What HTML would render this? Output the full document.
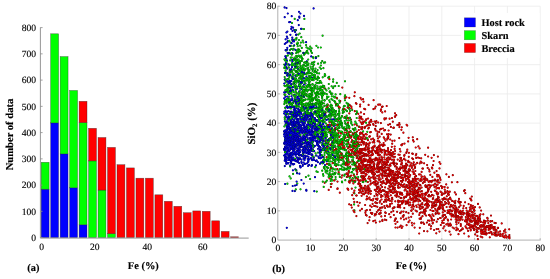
<!DOCTYPE html>
<html><head><meta charset="utf-8"><style>
html,body{margin:0;padding:0;background:#fff;}
svg{display:block;}
text{text-rendering:geometricPrecision;}
.t{font-family:"Liberation Serif",serif;font-size:9.6px;fill:#000;stroke:#000;stroke-width:.14px;}
.b{font-family:"Liberation Serif",serif;font-size:10.4px;font-weight:bold;fill:#000;stroke:#000;stroke-width:.15px;}
</style></head><body>
<svg width="550" height="279" viewBox="0 0 550 279">
<rect x="41.20" y="189.20" width="7.9" height="48.40" fill="#0000ff" stroke="#222" stroke-opacity=".6" stroke-width=".55"/>
<rect x="41.20" y="162.30" width="7.9" height="26.90" fill="#00ff00" stroke="#222" stroke-opacity=".6" stroke-width=".55"/>
<rect x="50.67" y="122.90" width="7.9" height="114.70" fill="#0000ff" stroke="#222" stroke-opacity=".6" stroke-width=".55"/>
<rect x="50.67" y="33.80" width="7.9" height="89.10" fill="#00ff00" stroke="#222" stroke-opacity=".6" stroke-width=".55"/>
<rect x="60.15" y="153.90" width="7.9" height="83.70" fill="#0000ff" stroke="#222" stroke-opacity=".6" stroke-width=".55"/>
<rect x="60.15" y="56.60" width="7.9" height="97.30" fill="#00ff00" stroke="#222" stroke-opacity=".6" stroke-width=".55"/>
<rect x="69.62" y="187.80" width="7.9" height="49.80" fill="#0000ff" stroke="#222" stroke-opacity=".6" stroke-width=".55"/>
<rect x="69.62" y="90.50" width="7.9" height="97.30" fill="#00ff00" stroke="#222" stroke-opacity=".6" stroke-width=".55"/>
<rect x="79.10" y="224.80" width="7.9" height="12.80" fill="#0000ff" stroke="#222" stroke-opacity=".6" stroke-width=".55"/>
<rect x="79.10" y="122.60" width="7.9" height="102.20" fill="#00ff00" stroke="#222" stroke-opacity=".6" stroke-width=".55"/>
<rect x="79.10" y="101.30" width="7.9" height="21.30" fill="#ff0000" stroke="#222" stroke-opacity=".6" stroke-width=".55"/>
<rect x="88.57" y="160.90" width="7.9" height="76.70" fill="#00ff00" stroke="#222" stroke-opacity=".6" stroke-width=".55"/>
<rect x="88.57" y="128.30" width="7.9" height="32.60" fill="#ff0000" stroke="#222" stroke-opacity=".6" stroke-width=".55"/>
<rect x="98.04" y="190.10" width="7.9" height="47.50" fill="#00ff00" stroke="#222" stroke-opacity=".6" stroke-width=".55"/>
<rect x="98.04" y="137.50" width="7.9" height="52.60" fill="#ff0000" stroke="#222" stroke-opacity=".6" stroke-width=".55"/>
<rect x="107.52" y="233.70" width="7.9" height="3.90" fill="#00ff00" stroke="#222" stroke-opacity=".6" stroke-width=".55"/>
<rect x="107.52" y="147.40" width="7.9" height="86.30" fill="#ff0000" stroke="#222" stroke-opacity=".6" stroke-width=".55"/>
<rect x="116.99" y="164.70" width="7.9" height="72.90" fill="#ff0000" stroke="#222" stroke-opacity=".6" stroke-width=".55"/>
<rect x="126.47" y="167.90" width="7.9" height="69.70" fill="#ff0000" stroke="#222" stroke-opacity=".6" stroke-width=".55"/>
<rect x="135.94" y="178.20" width="7.9" height="59.40" fill="#ff0000" stroke="#222" stroke-opacity=".6" stroke-width=".55"/>
<rect x="145.41" y="178.20" width="7.9" height="59.40" fill="#ff0000" stroke="#222" stroke-opacity=".6" stroke-width=".55"/>
<rect x="154.89" y="194.80" width="7.9" height="42.80" fill="#ff0000" stroke="#222" stroke-opacity=".6" stroke-width=".55"/>
<rect x="164.36" y="201.30" width="7.9" height="36.30" fill="#ff0000" stroke="#222" stroke-opacity=".6" stroke-width=".55"/>
<rect x="173.84" y="206.30" width="7.9" height="31.30" fill="#ff0000" stroke="#222" stroke-opacity=".6" stroke-width=".55"/>
<rect x="183.31" y="212.70" width="7.9" height="24.90" fill="#ff0000" stroke="#222" stroke-opacity=".6" stroke-width=".55"/>
<rect x="192.78" y="210.90" width="7.9" height="26.70" fill="#ff0000" stroke="#222" stroke-opacity=".6" stroke-width=".55"/>
<rect x="202.26" y="211.30" width="7.9" height="26.30" fill="#ff0000" stroke="#222" stroke-opacity=".6" stroke-width=".55"/>
<rect x="211.73" y="220.80" width="7.9" height="16.80" fill="#ff0000" stroke="#222" stroke-opacity=".6" stroke-width=".55"/>
<rect x="221.21" y="231.40" width="7.9" height="6.20" fill="#ff0000" stroke="#222" stroke-opacity=".6" stroke-width=".55"/>
<rect x="230.68" y="236.80" width="7.9" height="0.80" fill="#ff0000" stroke="#222" stroke-opacity=".6" stroke-width=".55"/>
<path d="M40.4 27.4V238.1H248.7" fill="none" stroke="#8a8a8a" stroke-width=".9"/>
<path d="M40.4 237.60h2.2M40.4 211.35h2.2M40.4 185.10h2.2M40.4 158.85h2.2M40.4 132.60h2.2M40.4 106.35h2.2M40.4 80.10h2.2M40.4 53.85h2.2M40.4 27.60h2.2" stroke="#8a8a8a" stroke-width=".8"/>
<text x="36.1" y="240.95" class="t" text-anchor="end">0</text>
<text x="36.1" y="214.70" class="t" text-anchor="end">100</text>
<text x="36.1" y="188.45" class="t" text-anchor="end">200</text>
<text x="36.1" y="162.20" class="t" text-anchor="end">300</text>
<text x="36.1" y="135.95" class="t" text-anchor="end">400</text>
<text x="36.1" y="109.70" class="t" text-anchor="end">500</text>
<text x="36.1" y="83.45" class="t" text-anchor="end">600</text>
<text x="36.1" y="57.20" class="t" text-anchor="end">700</text>
<text x="36.1" y="30.95" class="t" text-anchor="end">800</text>
<text x="41.7" y="249.8" class="t" text-anchor="middle">0</text>
<text x="94.7" y="249.8" class="t" text-anchor="middle">20</text>
<text x="147.35" y="249.8" class="t" text-anchor="middle">40</text>
<text x="202.75" y="249.8" class="t" text-anchor="middle">60</text>
<text class="b" x="143.3" y="269.2" text-anchor="middle">Fe (%)</text>
<text class="b" x="33.4" y="271.1" text-anchor="middle">(a)</text>
<text class="b" transform="translate(12.5 134.5) rotate(-90)" text-anchor="middle" style="font-size:10.6px">Number of data</text>
<path d="M310.60 6.2V240.1M277.8 210.86H540.2M343.40 6.2V240.1M277.8 181.62H540.2M376.20 6.2V240.1M277.8 152.38H540.2M409.00 6.2V240.1M277.8 123.14H540.2M441.80 6.2V240.1M277.8 93.90H540.2M474.60 6.2V240.1M277.8 64.66H540.2M507.40 6.2V240.1M277.8 35.42H540.2M540.20 6.2V240.1M277.8 6.18H540.2" stroke="#ebebeb" stroke-width=".8" fill="none"/>
<path d="M277.8 5.8V240.1H540.6" fill="none" stroke="#a8a8a8" stroke-width=".9"/>
<path d="M277.8 210.86h2M277.8 181.62h2M277.8 152.38h2M277.8 123.14h2M277.8 93.90h2M277.8 64.66h2M277.8 35.42h2M277.8 6.18h2M310.60 240.1v-2M343.40 240.1v-2M376.20 240.1v-2M409.00 240.1v-2M441.80 240.1v-2M474.60 240.1v-2M507.40 240.1v-2M540.20 240.1v-2" stroke="#a8a8a8" stroke-width=".8"/>
<text x="276.3" y="243.40" class="t" text-anchor="end">0</text>
<text x="277.80" y="250.9" class="t" text-anchor="middle">0</text>
<text x="276.3" y="214.16" class="t" text-anchor="end">10</text>
<text x="310.60" y="250.9" class="t" text-anchor="middle">10</text>
<text x="276.3" y="184.92" class="t" text-anchor="end">20</text>
<text x="343.40" y="250.9" class="t" text-anchor="middle">20</text>
<text x="276.3" y="155.68" class="t" text-anchor="end">30</text>
<text x="376.20" y="250.9" class="t" text-anchor="middle">30</text>
<text x="276.3" y="126.44" class="t" text-anchor="end">40</text>
<text x="409.00" y="250.9" class="t" text-anchor="middle">40</text>
<text x="276.3" y="97.20" class="t" text-anchor="end">50</text>
<text x="441.80" y="250.9" class="t" text-anchor="middle">50</text>
<text x="276.3" y="67.96" class="t" text-anchor="end">60</text>
<text x="474.60" y="250.9" class="t" text-anchor="middle">60</text>
<text x="276.3" y="38.72" class="t" text-anchor="end">70</text>
<text x="507.40" y="250.9" class="t" text-anchor="middle">70</text>
<text x="276.3" y="9.48" class="t" text-anchor="end">80</text>
<text x="540.20" y="250.9" class="t" text-anchor="middle">80</text>
<text class="b" x="411.1" y="269.0" text-anchor="middle">Fe (%)</text>
<text class="b" x="278.7" y="271.5" text-anchor="middle">(b)</text>
<text class="b" font-size="10.9" transform="translate(255.4 123.6) rotate(-90)" text-anchor="middle" style="font-size:10.9px">SiO<tspan style="font-size:6.8px" dy="2">2</tspan><tspan dy="-2"> (%)</tspan></text>
<g fill="none" stroke-linecap="round">
<path d="M377.0 195.2h0M386.3 165.0h0M411.2 216.8h0M350.8 132.0h0M416.2 179.0h0M413.3 209.0h0M355.5 177.2h0M390.6 217.2h0M409.7 166.4h0M371.2 200.1h0M373.3 176.7h0M381.2 160.0h0M352.7 178.3h0M401.2 193.7h0M457.7 220.5h0M418.3 192.0h0M424.0 178.7h0M433.9 202.7h0M353.0 145.0h0M421.9 191.1h0M472.1 211.9h0M420.6 174.5h0M404.3 208.1h0M412.5 180.8h0M370.4 160.5h0M413.2 195.4h0M425.4 185.4h0M362.8 155.9h0M482.9 226.7h0M361.1 187.8h0M450.8 206.2h0M415.6 210.6h0M357.2 142.8h0M386.5 179.7h0M487.3 227.1h0M509.2 229.3h0M416.2 178.8h0M349.0 108.1h0M354.9 164.9h0M453.7 201.5h0M361.9 208.9h0M370.1 209.9h0M390.0 159.2h0M375.7 184.1h0M479.7 215.0h0M408.8 169.6h0M368.4 172.3h0M471.1 206.3h0M460.6 212.2h0M379.2 168.9h0M437.5 199.2h0M414.5 193.7h0M436.2 204.6h0M395.2 192.2h0M480.7 236.6h0M468.0 215.3h0M489.8 237.3h0M431.8 207.7h0M486.7 226.2h0M406.2 218.7h0M348.5 146.9h0M377.5 131.7h0M354.3 201.9h0M371.9 166.9h0M468.5 224.7h0M383.4 144.9h0M390.6 183.5h0M412.6 182.2h0M472.7 207.6h0M394.7 146.5h0M379.5 169.1h0M386.8 192.2h0M379.7 145.3h0M460.8 213.8h0M377.9 147.6h0M474.6 229.6h0M405.6 189.3h0M365.2 109.3h0M391.0 184.0h0M381.5 156.7h0M460.8 202.2h0M383.8 175.5h0M429.5 224.4h0M481.5 229.8h0M331.8 125.4h0M470.1 209.5h0M406.4 185.3h0M347.9 174.2h0M354.8 111.2h0M380.6 149.0h0M390.4 157.8h0M364.1 178.4h0M369.7 179.0h0M402.0 203.7h0M369.6 157.9h0M446.3 224.4h0M434.3 180.5h0M376.1 152.9h0M334.0 156.2h0M384.5 172.0h0M348.3 167.6h0M406.6 173.0h0M429.5 214.8h0M395.1 166.4h0M393.1 189.5h0M373.3 149.8h0M340.3 101.1h0M372.7 182.9h0M373.3 168.3h0M370.1 132.3h0M339.9 157.7h0M387.2 167.6h0M361.5 99.5h0M348.6 151.4h0M361.7 152.0h0M476.0 221.0h0M383.5 171.4h0M415.6 201.2h0M369.3 152.6h0M377.5 172.2h0M389.2 214.2h0M348.4 142.9h0M366.4 155.7h0M473.6 228.6h0M408.1 203.7h0M461.1 230.2h0M391.9 203.5h0M357.0 157.7h0M440.8 225.0h0M399.7 226.8h0M375.8 126.1h0M448.6 204.1h0M466.2 208.1h0M451.1 219.5h0M397.3 192.9h0M382.5 207.4h0M462.8 210.8h0M410.1 187.6h0M368.9 127.7h0M351.0 119.6h0M400.1 168.8h0M394.3 162.7h0M359.3 151.7h0M413.1 204.7h0M384.9 167.1h0M327.6 105.9h0M388.8 175.2h0M412.2 153.5h0M448.5 203.8h0M349.2 136.7h0M357.9 179.1h0M397.7 159.6h0M351.2 205.2h0M382.4 219.9h0M418.1 183.1h0M397.4 221.9h0M352.3 150.9h0M421.6 171.9h0M342.0 154.1h0M347.9 136.9h0M387.0 178.2h0M408.7 193.7h0M395.3 201.3h0M377.3 152.7h0M406.0 163.7h0M362.2 177.3h0M414.6 183.5h0M397.9 192.0h0M356.1 177.7h0M382.7 106.5h0M396.4 163.6h0M416.0 192.3h0M379.8 221.6h0M460.8 224.2h0M412.6 191.4h0M458.5 222.8h0M412.2 158.3h0M428.1 204.2h0M498.8 234.7h0M344.7 132.5h0M415.9 196.1h0M470.6 217.0h0M438.3 182.4h0M491.6 233.2h0M398.0 175.9h0M348.9 134.3h0M341.2 155.3h0M369.9 171.3h0M389.5 175.1h0M437.7 180.5h0M362.5 191.2h0M442.8 209.1h0M434.1 230.0h0M404.1 159.2h0M442.4 205.2h0M365.3 179.5h0M398.5 201.3h0M422.5 216.2h0M422.6 195.7h0M437.5 194.6h0M370.3 165.6h0" stroke="#800000" stroke-width="2.2"/>
<path d="M377.0 195.2h0M386.3 165.0h0M411.2 216.8h0M350.8 132.0h0M416.2 179.0h0M413.3 209.0h0M355.5 177.2h0M390.6 217.2h0M409.7 166.4h0M371.2 200.1h0M373.3 176.7h0M381.2 160.0h0M352.7 178.3h0M401.2 193.7h0M457.7 220.5h0M418.3 192.0h0M424.0 178.7h0M433.9 202.7h0M353.0 145.0h0M421.9 191.1h0M472.1 211.9h0M420.6 174.5h0M404.3 208.1h0M412.5 180.8h0M370.4 160.5h0M413.2 195.4h0M425.4 185.4h0M362.8 155.9h0M482.9 226.7h0M361.1 187.8h0M450.8 206.2h0M415.6 210.6h0M357.2 142.8h0M386.5 179.7h0M487.3 227.1h0M509.2 229.3h0M416.2 178.8h0M349.0 108.1h0M354.9 164.9h0M453.7 201.5h0M361.9 208.9h0M370.1 209.9h0M390.0 159.2h0M375.7 184.1h0M479.7 215.0h0M408.8 169.6h0M368.4 172.3h0M471.1 206.3h0M460.6 212.2h0M379.2 168.9h0M437.5 199.2h0M414.5 193.7h0M436.2 204.6h0M395.2 192.2h0M480.7 236.6h0M468.0 215.3h0M489.8 237.3h0M431.8 207.7h0M486.7 226.2h0M406.2 218.7h0M348.5 146.9h0M377.5 131.7h0M354.3 201.9h0M371.9 166.9h0M468.5 224.7h0M383.4 144.9h0M390.6 183.5h0M412.6 182.2h0M472.7 207.6h0M394.7 146.5h0M379.5 169.1h0M386.8 192.2h0M379.7 145.3h0M460.8 213.8h0M377.9 147.6h0M474.6 229.6h0M405.6 189.3h0M365.2 109.3h0M391.0 184.0h0M381.5 156.7h0M460.8 202.2h0M383.8 175.5h0M429.5 224.4h0M481.5 229.8h0M331.8 125.4h0M470.1 209.5h0M406.4 185.3h0M347.9 174.2h0M354.8 111.2h0M380.6 149.0h0M390.4 157.8h0M364.1 178.4h0M369.7 179.0h0M402.0 203.7h0M369.6 157.9h0M446.3 224.4h0M434.3 180.5h0M376.1 152.9h0M334.0 156.2h0M384.5 172.0h0M348.3 167.6h0M406.6 173.0h0M429.5 214.8h0M395.1 166.4h0M393.1 189.5h0M373.3 149.8h0M340.3 101.1h0M372.7 182.9h0M373.3 168.3h0M370.1 132.3h0M339.9 157.7h0M387.2 167.6h0M361.5 99.5h0M348.6 151.4h0M361.7 152.0h0M476.0 221.0h0M383.5 171.4h0M415.6 201.2h0M369.3 152.6h0M377.5 172.2h0M389.2 214.2h0M348.4 142.9h0M366.4 155.7h0M473.6 228.6h0M408.1 203.7h0M461.1 230.2h0M391.9 203.5h0M357.0 157.7h0M440.8 225.0h0M399.7 226.8h0M375.8 126.1h0M448.6 204.1h0M466.2 208.1h0M451.1 219.5h0M397.3 192.9h0M382.5 207.4h0M462.8 210.8h0M410.1 187.6h0M368.9 127.7h0M351.0 119.6h0M400.1 168.8h0M394.3 162.7h0M359.3 151.7h0M413.1 204.7h0M384.9 167.1h0M327.6 105.9h0M388.8 175.2h0M412.2 153.5h0M448.5 203.8h0M349.2 136.7h0M357.9 179.1h0M397.7 159.6h0M351.2 205.2h0M382.4 219.9h0M418.1 183.1h0M397.4 221.9h0M352.3 150.9h0M421.6 171.9h0M342.0 154.1h0M347.9 136.9h0M387.0 178.2h0M408.7 193.7h0M395.3 201.3h0M377.3 152.7h0M406.0 163.7h0M362.2 177.3h0M414.6 183.5h0M397.9 192.0h0M356.1 177.7h0M382.7 106.5h0M396.4 163.6h0M416.0 192.3h0M379.8 221.6h0M460.8 224.2h0M412.6 191.4h0M458.5 222.8h0M412.2 158.3h0M428.1 204.2h0M498.8 234.7h0M344.7 132.5h0M415.9 196.1h0M470.6 217.0h0M438.3 182.4h0M491.6 233.2h0M398.0 175.9h0M348.9 134.3h0M341.2 155.3h0M369.9 171.3h0M389.5 175.1h0M437.7 180.5h0M362.5 191.2h0M442.8 209.1h0M434.1 230.0h0M404.1 159.2h0M442.4 205.2h0M365.3 179.5h0M398.5 201.3h0M422.5 216.2h0M422.6 195.7h0M437.5 194.6h0M370.3 165.6h0" stroke="#f00000" stroke-width="1.45"/>
<path d="M299.4 173.7h0M330.8 145.0h0M293.2 142.5h0M295.7 102.8h0M309.0 124.6h0M289.6 150.5h0M298.9 158.7h0M291.8 127.6h0M322.3 149.4h0M303.6 114.9h0M292.7 164.1h0M289.4 92.2h0M298.7 133.6h0M307.2 156.3h0M310.3 133.7h0M298.3 160.4h0M297.4 114.1h0M309.3 76.3h0M298.9 128.7h0M310.3 139.1h0M296.3 103.5h0M287.5 113.7h0M296.6 116.1h0M306.9 127.3h0M287.7 107.4h0M327.0 146.6h0M298.2 119.1h0M317.9 162.2h0M314.1 160.0h0M308.2 121.4h0M293.2 129.6h0M306.2 108.4h0M303.9 151.7h0M303.3 137.2h0M292.7 103.3h0M298.1 145.2h0M289.3 117.1h0M307.8 135.2h0M299.7 154.8h0M312.8 136.4h0M300.1 158.3h0M321.7 132.8h0M288.2 141.8h0M323.1 131.1h0M285.5 96.7h0M307.5 143.9h0M309.7 116.1h0M291.7 142.8h0M318.7 121.8h0M284.8 141.2h0M297.5 62.7h0M307.4 126.1h0M311.2 139.6h0M296.5 154.0h0M296.1 114.9h0M312.1 151.1h0M302.8 146.5h0M294.0 138.9h0M307.1 129.5h0M308.1 131.0h0M311.0 158.0h0M289.4 137.2h0M306.4 128.6h0M286.3 131.3h0M285.9 72.6h0M304.5 129.2h0M323.5 139.5h0M303.4 152.0h0M315.9 160.9h0M285.7 141.5h0M293.6 160.2h0M304.3 117.7h0M290.2 113.8h0M300.7 125.1h0M284.4 111.7h0M324.0 133.0h0M291.7 163.6h0M307.7 117.3h0M284.6 7.4h0M328.7 110.9h0M288.5 98.3h0M303.7 125.0h0M287.1 125.9h0M294.9 191.1h0M307.3 128.4h0M290.4 34.8h0M285.9 123.0h0M321.7 149.8h0M300.0 165.9h0M307.0 125.1h0M297.4 150.8h0M312.1 130.8h0M313.6 8.4h0M287.2 139.1h0M291.3 106.5h0M290.6 121.7h0M310.8 138.4h0M297.8 20.2h0M303.3 132.0h0M288.4 157.4h0M286.7 113.7h0M318.5 125.5h0M295.4 139.2h0M307.5 147.3h0M290.3 22.0h0M306.3 132.5h0M304.6 164.0h0M294.3 124.7h0M310.1 135.0h0M308.2 161.0h0M333.7 126.0h0M320.4 128.1h0M306.9 61.3h0M289.3 101.9h0M297.8 132.6h0M295.1 129.7h0M298.7 114.4h0M298.7 129.8h0" stroke="#000078" stroke-width="2.2"/>
<path d="M299.4 173.7h0M330.8 145.0h0M293.2 142.5h0M295.7 102.8h0M309.0 124.6h0M289.6 150.5h0M298.9 158.7h0M291.8 127.6h0M322.3 149.4h0M303.6 114.9h0M292.7 164.1h0M289.4 92.2h0M298.7 133.6h0M307.2 156.3h0M310.3 133.7h0M298.3 160.4h0M297.4 114.1h0M309.3 76.3h0M298.9 128.7h0M310.3 139.1h0M296.3 103.5h0M287.5 113.7h0M296.6 116.1h0M306.9 127.3h0M287.7 107.4h0M327.0 146.6h0M298.2 119.1h0M317.9 162.2h0M314.1 160.0h0M308.2 121.4h0M293.2 129.6h0M306.2 108.4h0M303.9 151.7h0M303.3 137.2h0M292.7 103.3h0M298.1 145.2h0M289.3 117.1h0M307.8 135.2h0M299.7 154.8h0M312.8 136.4h0M300.1 158.3h0M321.7 132.8h0M288.2 141.8h0M323.1 131.1h0M285.5 96.7h0M307.5 143.9h0M309.7 116.1h0M291.7 142.8h0M318.7 121.8h0M284.8 141.2h0M297.5 62.7h0M307.4 126.1h0M311.2 139.6h0M296.5 154.0h0M296.1 114.9h0M312.1 151.1h0M302.8 146.5h0M294.0 138.9h0M307.1 129.5h0M308.1 131.0h0M311.0 158.0h0M289.4 137.2h0M306.4 128.6h0M286.3 131.3h0M285.9 72.6h0M304.5 129.2h0M323.5 139.5h0M303.4 152.0h0M315.9 160.9h0M285.7 141.5h0M293.6 160.2h0M304.3 117.7h0M290.2 113.8h0M300.7 125.1h0M284.4 111.7h0M324.0 133.0h0M291.7 163.6h0M307.7 117.3h0M284.6 7.4h0M328.7 110.9h0M288.5 98.3h0M303.7 125.0h0M287.1 125.9h0M294.9 191.1h0M307.3 128.4h0M290.4 34.8h0M285.9 123.0h0M321.7 149.8h0M300.0 165.9h0M307.0 125.1h0M297.4 150.8h0M312.1 130.8h0M313.6 8.4h0M287.2 139.1h0M291.3 106.5h0M290.6 121.7h0M310.8 138.4h0M297.8 20.2h0M303.3 132.0h0M288.4 157.4h0M286.7 113.7h0M318.5 125.5h0M295.4 139.2h0M307.5 147.3h0M290.3 22.0h0M306.3 132.5h0M304.6 164.0h0M294.3 124.7h0M310.1 135.0h0M308.2 161.0h0M333.7 126.0h0M320.4 128.1h0M306.9 61.3h0M289.3 101.9h0M297.8 132.6h0M295.1 129.7h0M298.7 114.4h0M298.7 129.8h0" stroke="#0000f0" stroke-width="1.45"/>
<path d="M303.4 109.1h0M315.1 111.2h0M305.6 107.1h0M346.1 140.9h0M303.7 96.4h0M342.1 182.3h0M311.9 124.1h0M321.6 104.1h0M355.4 180.7h0M295.8 86.8h0M303.2 114.5h0M337.0 164.7h0M335.5 111.0h0M356.3 144.3h0M322.9 120.2h0M311.2 138.2h0M325.1 119.0h0M291.9 90.2h0M329.6 125.6h0M307.9 114.2h0M285.0 117.4h0M340.1 146.5h0M348.5 139.9h0M289.1 52.8h0M302.6 58.8h0M288.8 67.3h0M341.6 153.3h0M303.0 73.2h0M307.9 115.6h0M291.2 49.0h0M323.4 68.2h0M320.8 47.5h0M342.0 116.0h0M290.3 108.3h0M312.8 74.8h0M316.4 82.7h0M316.5 113.7h0M337.5 104.5h0M291.7 116.6h0M300.3 99.5h0M324.7 121.9h0M340.3 140.2h0M332.6 108.1h0M324.8 150.6h0M358.8 126.7h0M341.3 153.6h0M320.1 105.5h0M317.6 80.0h0M323.3 110.5h0M318.2 130.7h0M351.3 123.6h0M293.8 79.1h0M329.4 132.5h0M300.3 110.7h0M320.8 142.5h0M301.8 47.9h0M286.4 64.5h0M301.9 102.9h0M298.3 81.1h0M301.3 73.2h0M337.6 156.7h0M299.7 64.3h0M327.3 128.2h0M332.5 131.4h0M327.7 109.7h0M341.2 159.9h0M324.5 155.0h0M337.1 98.6h0M294.5 85.6h0M355.4 150.6h0M324.8 169.1h0M318.4 56.1h0M303.9 74.3h0M354.5 151.8h0M332.7 152.0h0M308.5 63.7h0M308.8 84.4h0M345.0 81.3h0M323.1 174.2h0M323.0 160.8h0M323.0 87.0h0M329.0 139.4h0M317.5 110.4h0M307.4 111.1h0M345.9 156.2h0M308.6 97.6h0M320.3 147.5h0M331.2 109.9h0M342.2 169.7h0M297.8 75.1h0M318.5 82.8h0M346.7 120.3h0M295.6 106.5h0M311.3 99.7h0M291.3 90.5h0M303.4 115.2h0M321.3 105.2h0M304.5 70.5h0M340.9 148.2h0M301.7 95.0h0M319.7 104.5h0M311.5 90.5h0M308.2 53.4h0M296.2 50.5h0M310.6 66.7h0M316.3 82.8h0M337.9 146.3h0M338.6 170.7h0M315.5 72.1h0M305.1 89.9h0M286.2 103.0h0M310.0 146.2h0M349.6 153.9h0M306.3 85.8h0M290.6 42.5h0M346.1 118.3h0M339.9 140.4h0M338.8 157.7h0M327.9 107.8h0M330.2 106.0h0M312.0 73.7h0M324.9 119.5h0M310.7 87.6h0M327.6 111.4h0M319.6 117.7h0M300.5 118.2h0M345.8 141.1h0M329.0 108.9h0M301.2 79.2h0M349.6 172.5h0M304.0 65.1h0M303.0 104.0h0M326.2 151.9h0M345.1 150.1h0M332.2 161.5h0M320.0 90.3h0M319.9 90.1h0M304.2 108.6h0M314.9 87.0h0M340.3 94.2h0M297.1 102.7h0M307.3 91.6h0M312.9 57.0h0M291.5 86.8h0M295.2 86.7h0M296.7 66.4h0" stroke="#006400" stroke-width="2.2"/>
<path d="M303.4 109.1h0M315.1 111.2h0M305.6 107.1h0M346.1 140.9h0M303.7 96.4h0M342.1 182.3h0M311.9 124.1h0M321.6 104.1h0M355.4 180.7h0M295.8 86.8h0M303.2 114.5h0M337.0 164.7h0M335.5 111.0h0M356.3 144.3h0M322.9 120.2h0M311.2 138.2h0M325.1 119.0h0M291.9 90.2h0M329.6 125.6h0M307.9 114.2h0M285.0 117.4h0M340.1 146.5h0M348.5 139.9h0M289.1 52.8h0M302.6 58.8h0M288.8 67.3h0M341.6 153.3h0M303.0 73.2h0M307.9 115.6h0M291.2 49.0h0M323.4 68.2h0M320.8 47.5h0M342.0 116.0h0M290.3 108.3h0M312.8 74.8h0M316.4 82.7h0M316.5 113.7h0M337.5 104.5h0M291.7 116.6h0M300.3 99.5h0M324.7 121.9h0M340.3 140.2h0M332.6 108.1h0M324.8 150.6h0M358.8 126.7h0M341.3 153.6h0M320.1 105.5h0M317.6 80.0h0M323.3 110.5h0M318.2 130.7h0M351.3 123.6h0M293.8 79.1h0M329.4 132.5h0M300.3 110.7h0M320.8 142.5h0M301.8 47.9h0M286.4 64.5h0M301.9 102.9h0M298.3 81.1h0M301.3 73.2h0M337.6 156.7h0M299.7 64.3h0M327.3 128.2h0M332.5 131.4h0M327.7 109.7h0M341.2 159.9h0M324.5 155.0h0M337.1 98.6h0M294.5 85.6h0M355.4 150.6h0M324.8 169.1h0M318.4 56.1h0M303.9 74.3h0M354.5 151.8h0M332.7 152.0h0M308.5 63.7h0M308.8 84.4h0M345.0 81.3h0M323.1 174.2h0M323.0 160.8h0M323.0 87.0h0M329.0 139.4h0M317.5 110.4h0M307.4 111.1h0M345.9 156.2h0M308.6 97.6h0M320.3 147.5h0M331.2 109.9h0M342.2 169.7h0M297.8 75.1h0M318.5 82.8h0M346.7 120.3h0M295.6 106.5h0M311.3 99.7h0M291.3 90.5h0M303.4 115.2h0M321.3 105.2h0M304.5 70.5h0M340.9 148.2h0M301.7 95.0h0M319.7 104.5h0M311.5 90.5h0M308.2 53.4h0M296.2 50.5h0M310.6 66.7h0M316.3 82.8h0M337.9 146.3h0M338.6 170.7h0M315.5 72.1h0M305.1 89.9h0M286.2 103.0h0M310.0 146.2h0M349.6 153.9h0M306.3 85.8h0M290.6 42.5h0M346.1 118.3h0M339.9 140.4h0M338.8 157.7h0M327.9 107.8h0M330.2 106.0h0M312.0 73.7h0M324.9 119.5h0M310.7 87.6h0M327.6 111.4h0M319.6 117.7h0M300.5 118.2h0M345.8 141.1h0M329.0 108.9h0M301.2 79.2h0M349.6 172.5h0M304.0 65.1h0M303.0 104.0h0M326.2 151.9h0M345.1 150.1h0M332.2 161.5h0M320.0 90.3h0M319.9 90.1h0M304.2 108.6h0M314.9 87.0h0M340.3 94.2h0M297.1 102.7h0M307.3 91.6h0M312.9 57.0h0M291.5 86.8h0M295.2 86.7h0M296.7 66.4h0" stroke="#00dc00" stroke-width="1.45"/>
<path d="M429.6 196.1h0M425.6 186.8h0M401.8 202.6h0M368.4 155.7h0M380.7 210.6h0M349.7 182.7h0M373.6 125.0h0M365.9 149.8h0M365.1 160.4h0M431.8 220.6h0M411.8 184.3h0M384.5 190.6h0M395.5 227.5h0M392.7 171.4h0M439.6 208.8h0M431.2 191.8h0M357.5 169.2h0M421.6 194.4h0M380.9 192.2h0M444.3 198.6h0M414.0 182.4h0M471.8 196.6h0M374.1 167.2h0M375.7 178.4h0M421.6 187.6h0M382.5 165.5h0M421.6 176.9h0M364.5 158.7h0M392.4 199.5h0M450.4 209.6h0M346.4 129.3h0M424.3 211.3h0M367.0 198.9h0M477.4 235.9h0M425.8 211.0h0M377.4 195.4h0M473.0 216.0h0M478.6 221.0h0M476.7 223.5h0M348.6 152.5h0M447.7 187.7h0M347.8 189.0h0M418.8 195.7h0M388.6 157.4h0M344.7 135.8h0M373.4 109.1h0M421.0 212.4h0M377.6 168.8h0M342.6 146.4h0M460.4 213.9h0M422.4 168.5h0M442.7 206.9h0M496.4 231.1h0M381.4 207.6h0M387.1 195.2h0M423.9 200.6h0M412.8 178.9h0M497.0 235.4h0M414.2 191.0h0M376.5 159.4h0M413.9 182.5h0M475.4 224.5h0M439.5 168.4h0M397.0 181.5h0M443.1 208.3h0M450.1 197.7h0M388.5 170.0h0M336.8 97.9h0M385.7 170.9h0M388.7 134.2h0M385.1 208.0h0M464.1 213.4h0M377.0 166.0h0M400.0 173.8h0M413.5 198.8h0M343.9 138.2h0M413.8 162.3h0M370.7 193.8h0M347.9 122.7h0M378.9 167.2h0M385.3 167.1h0M427.7 167.9h0M361.8 162.9h0M389.8 164.8h0M402.0 193.4h0M378.7 171.6h0M476.8 230.1h0M366.1 159.5h0M429.0 196.4h0M381.5 199.5h0M385.5 140.7h0M386.9 192.4h0M482.1 230.9h0M366.8 125.7h0M486.1 227.0h0M473.7 225.6h0M417.2 139.2h0M372.8 200.5h0M430.8 228.7h0M366.5 199.4h0M381.0 167.1h0M444.7 187.0h0M359.4 118.2h0M456.2 208.4h0M414.2 193.8h0M415.9 183.5h0M430.3 216.3h0M377.1 175.8h0M364.0 161.6h0M419.7 206.1h0M418.3 183.3h0M361.2 144.8h0M416.7 207.0h0M418.7 194.9h0M375.1 220.5h0M358.8 183.2h0M370.0 191.4h0M383.5 180.9h0M476.8 215.9h0M412.7 181.4h0M431.2 185.5h0M421.2 158.3h0M429.3 184.8h0M414.2 200.9h0M400.4 213.1h0M364.5 121.6h0M393.1 177.7h0M417.3 196.3h0M390.7 155.4h0M391.0 179.0h0M364.3 154.5h0M391.9 186.2h0M393.0 180.2h0M354.6 137.1h0M416.2 205.5h0M404.4 187.2h0M420.4 194.8h0M394.4 189.4h0M374.8 151.2h0M436.1 186.5h0M455.8 215.0h0M474.2 210.7h0M357.0 131.6h0M384.7 172.7h0M362.4 166.9h0M356.2 195.5h0M401.4 144.9h0M368.4 193.1h0M400.3 157.8h0M404.5 154.9h0M456.3 217.1h0M392.8 189.0h0M344.9 98.2h0M442.1 187.0h0M395.2 195.6h0M431.8 202.1h0M423.2 222.6h0M382.3 112.4h0M474.1 210.1h0M367.9 151.7h0M411.4 163.3h0M470.9 221.7h0M495.5 233.4h0M356.8 141.6h0M425.9 200.5h0M388.1 138.1h0M497.2 235.4h0M430.7 216.3h0M412.8 153.9h0M382.1 186.9h0M362.5 119.4h0M450.6 234.6h0M433.6 211.0h0M495.8 223.1h0M425.2 154.8h0M505.7 235.3h0M378.4 178.7h0M476.8 221.7h0M459.7 231.1h0M475.0 222.5h0M425.7 194.7h0M439.5 231.6h0M347.6 123.7h0M420.5 185.4h0M423.5 178.9h0M377.6 163.1h0M375.0 174.2h0M365.6 181.1h0M467.7 217.8h0M374.8 189.9h0M418.9 187.6h0M402.0 160.4h0M395.2 173.7h0M329.4 79.2h0M362.8 122.6h0M406.6 164.4h0M456.5 224.3h0M394.6 207.3h0M363.3 175.9h0M447.6 212.9h0M410.2 175.0h0" stroke="#800000" stroke-width="2.2"/>
<path d="M429.6 196.1h0M425.6 186.8h0M401.8 202.6h0M368.4 155.7h0M380.7 210.6h0M349.7 182.7h0M373.6 125.0h0M365.9 149.8h0M365.1 160.4h0M431.8 220.6h0M411.8 184.3h0M384.5 190.6h0M395.5 227.5h0M392.7 171.4h0M439.6 208.8h0M431.2 191.8h0M357.5 169.2h0M421.6 194.4h0M380.9 192.2h0M444.3 198.6h0M414.0 182.4h0M471.8 196.6h0M374.1 167.2h0M375.7 178.4h0M421.6 187.6h0M382.5 165.5h0M421.6 176.9h0M364.5 158.7h0M392.4 199.5h0M450.4 209.6h0M346.4 129.3h0M424.3 211.3h0M367.0 198.9h0M477.4 235.9h0M425.8 211.0h0M377.4 195.4h0M473.0 216.0h0M478.6 221.0h0M476.7 223.5h0M348.6 152.5h0M447.7 187.7h0M347.8 189.0h0M418.8 195.7h0M388.6 157.4h0M344.7 135.8h0M373.4 109.1h0M421.0 212.4h0M377.6 168.8h0M342.6 146.4h0M460.4 213.9h0M422.4 168.5h0M442.7 206.9h0M496.4 231.1h0M381.4 207.6h0M387.1 195.2h0M423.9 200.6h0M412.8 178.9h0M497.0 235.4h0M414.2 191.0h0M376.5 159.4h0M413.9 182.5h0M475.4 224.5h0M439.5 168.4h0M397.0 181.5h0M443.1 208.3h0M450.1 197.7h0M388.5 170.0h0M336.8 97.9h0M385.7 170.9h0M388.7 134.2h0M385.1 208.0h0M464.1 213.4h0M377.0 166.0h0M400.0 173.8h0M413.5 198.8h0M343.9 138.2h0M413.8 162.3h0M370.7 193.8h0M347.9 122.7h0M378.9 167.2h0M385.3 167.1h0M427.7 167.9h0M361.8 162.9h0M389.8 164.8h0M402.0 193.4h0M378.7 171.6h0M476.8 230.1h0M366.1 159.5h0M429.0 196.4h0M381.5 199.5h0M385.5 140.7h0M386.9 192.4h0M482.1 230.9h0M366.8 125.7h0M486.1 227.0h0M473.7 225.6h0M417.2 139.2h0M372.8 200.5h0M430.8 228.7h0M366.5 199.4h0M381.0 167.1h0M444.7 187.0h0M359.4 118.2h0M456.2 208.4h0M414.2 193.8h0M415.9 183.5h0M430.3 216.3h0M377.1 175.8h0M364.0 161.6h0M419.7 206.1h0M418.3 183.3h0M361.2 144.8h0M416.7 207.0h0M418.7 194.9h0M375.1 220.5h0M358.8 183.2h0M370.0 191.4h0M383.5 180.9h0M476.8 215.9h0M412.7 181.4h0M431.2 185.5h0M421.2 158.3h0M429.3 184.8h0M414.2 200.9h0M400.4 213.1h0M364.5 121.6h0M393.1 177.7h0M417.3 196.3h0M390.7 155.4h0M391.0 179.0h0M364.3 154.5h0M391.9 186.2h0M393.0 180.2h0M354.6 137.1h0M416.2 205.5h0M404.4 187.2h0M420.4 194.8h0M394.4 189.4h0M374.8 151.2h0M436.1 186.5h0M455.8 215.0h0M474.2 210.7h0M357.0 131.6h0M384.7 172.7h0M362.4 166.9h0M356.2 195.5h0M401.4 144.9h0M368.4 193.1h0M400.3 157.8h0M404.5 154.9h0M456.3 217.1h0M392.8 189.0h0M344.9 98.2h0M442.1 187.0h0M395.2 195.6h0M431.8 202.1h0M423.2 222.6h0M382.3 112.4h0M474.1 210.1h0M367.9 151.7h0M411.4 163.3h0M470.9 221.7h0M495.5 233.4h0M356.8 141.6h0M425.9 200.5h0M388.1 138.1h0M497.2 235.4h0M430.7 216.3h0M412.8 153.9h0M382.1 186.9h0M362.5 119.4h0M450.6 234.6h0M433.6 211.0h0M495.8 223.1h0M425.2 154.8h0M505.7 235.3h0M378.4 178.7h0M476.8 221.7h0M459.7 231.1h0M475.0 222.5h0M425.7 194.7h0M439.5 231.6h0M347.6 123.7h0M420.5 185.4h0M423.5 178.9h0M377.6 163.1h0M375.0 174.2h0M365.6 181.1h0M467.7 217.8h0M374.8 189.9h0M418.9 187.6h0M402.0 160.4h0M395.2 173.7h0M329.4 79.2h0M362.8 122.6h0M406.6 164.4h0M456.5 224.3h0M394.6 207.3h0M363.3 175.9h0M447.6 212.9h0M410.2 175.0h0" stroke="#f00000" stroke-width="1.45"/>
<path d="M304.3 113.9h0M294.2 149.3h0M311.7 95.6h0M328.8 111.2h0M309.9 122.9h0M285.6 39.3h0M320.3 125.8h0M293.6 147.4h0M308.8 131.4h0M284.4 143.8h0M292.6 53.6h0M288.2 141.8h0M287.4 130.0h0M288.3 126.7h0M297.8 127.0h0M319.3 121.7h0M286.1 137.9h0M285.1 148.6h0M300.8 146.7h0M305.7 152.3h0M306.3 130.9h0M291.5 69.3h0M285.7 157.6h0M323.4 131.8h0M298.7 126.6h0M284.2 131.6h0M295.6 101.8h0M324.2 145.8h0M304.0 143.4h0M300.5 167.4h0M296.5 133.9h0M286.4 67.0h0M292.2 59.9h0M286.5 162.8h0M308.5 142.7h0M289.8 124.7h0M287.9 149.9h0M284.9 149.7h0M305.5 141.0h0M312.3 154.9h0M305.9 112.0h0M287.4 140.6h0M306.2 134.8h0M312.9 137.3h0M293.4 149.4h0M305.3 163.8h0M300.5 110.6h0M315.6 130.6h0M294.2 159.2h0M296.8 121.5h0M335.4 120.7h0M299.4 131.8h0M287.2 49.7h0M285.0 155.3h0M290.9 131.7h0M287.9 150.5h0M317.9 116.9h0M299.5 103.0h0M301.6 163.0h0M300.4 147.1h0M291.3 142.2h0M291.3 131.9h0M312.2 127.3h0M308.3 161.8h0M308.6 157.0h0M298.9 126.5h0M318.5 108.2h0M298.4 132.3h0M295.7 128.1h0M333.0 151.4h0M286.2 163.8h0M301.6 121.7h0M291.6 130.3h0M293.0 131.8h0M309.4 128.9h0M311.4 118.3h0M288.4 137.7h0M303.9 84.7h0M298.5 135.9h0M301.5 159.7h0M302.6 166.0h0M301.1 110.7h0M290.5 114.2h0M296.7 135.7h0M330.5 129.8h0M303.6 147.6h0M285.4 140.7h0M314.9 135.9h0M290.4 90.4h0M305.0 152.4h0M290.7 128.2h0M306.3 127.1h0M291.2 142.6h0M299.1 155.4h0M291.9 138.2h0M290.9 138.6h0M300.8 145.9h0M291.9 144.2h0M295.6 134.1h0M288.1 119.4h0M293.9 146.1h0M311.7 121.4h0M292.7 145.8h0M326.8 161.3h0M326.0 116.4h0M307.1 163.4h0M290.3 133.9h0M313.5 126.1h0M293.6 112.3h0M304.8 145.9h0M315.0 177.2h0M304.0 152.2h0M292.1 53.0h0M310.1 145.2h0M326.5 119.9h0M292.1 99.9h0M328.6 110.2h0M303.7 113.6h0" stroke="#000078" stroke-width="2.2"/>
<path d="M304.3 113.9h0M294.2 149.3h0M311.7 95.6h0M328.8 111.2h0M309.9 122.9h0M285.6 39.3h0M320.3 125.8h0M293.6 147.4h0M308.8 131.4h0M284.4 143.8h0M292.6 53.6h0M288.2 141.8h0M287.4 130.0h0M288.3 126.7h0M297.8 127.0h0M319.3 121.7h0M286.1 137.9h0M285.1 148.6h0M300.8 146.7h0M305.7 152.3h0M306.3 130.9h0M291.5 69.3h0M285.7 157.6h0M323.4 131.8h0M298.7 126.6h0M284.2 131.6h0M295.6 101.8h0M324.2 145.8h0M304.0 143.4h0M300.5 167.4h0M296.5 133.9h0M286.4 67.0h0M292.2 59.9h0M286.5 162.8h0M308.5 142.7h0M289.8 124.7h0M287.9 149.9h0M284.9 149.7h0M305.5 141.0h0M312.3 154.9h0M305.9 112.0h0M287.4 140.6h0M306.2 134.8h0M312.9 137.3h0M293.4 149.4h0M305.3 163.8h0M300.5 110.6h0M315.6 130.6h0M294.2 159.2h0M296.8 121.5h0M335.4 120.7h0M299.4 131.8h0M287.2 49.7h0M285.0 155.3h0M290.9 131.7h0M287.9 150.5h0M317.9 116.9h0M299.5 103.0h0M301.6 163.0h0M300.4 147.1h0M291.3 142.2h0M291.3 131.9h0M312.2 127.3h0M308.3 161.8h0M308.6 157.0h0M298.9 126.5h0M318.5 108.2h0M298.4 132.3h0M295.7 128.1h0M333.0 151.4h0M286.2 163.8h0M301.6 121.7h0M291.6 130.3h0M293.0 131.8h0M309.4 128.9h0M311.4 118.3h0M288.4 137.7h0M303.9 84.7h0M298.5 135.9h0M301.5 159.7h0M302.6 166.0h0M301.1 110.7h0M290.5 114.2h0M296.7 135.7h0M330.5 129.8h0M303.6 147.6h0M285.4 140.7h0M314.9 135.9h0M290.4 90.4h0M305.0 152.4h0M290.7 128.2h0M306.3 127.1h0M291.2 142.6h0M299.1 155.4h0M291.9 138.2h0M290.9 138.6h0M300.8 145.9h0M291.9 144.2h0M295.6 134.1h0M288.1 119.4h0M293.9 146.1h0M311.7 121.4h0M292.7 145.8h0M326.8 161.3h0M326.0 116.4h0M307.1 163.4h0M290.3 133.9h0M313.5 126.1h0M293.6 112.3h0M304.8 145.9h0M315.0 177.2h0M304.0 152.2h0M292.1 53.0h0M310.1 145.2h0M326.5 119.9h0M292.1 99.9h0M328.6 110.2h0M303.7 113.6h0" stroke="#0000f0" stroke-width="1.45"/>
<path d="M319.7 137.0h0M340.0 121.6h0M343.7 143.0h0M302.3 67.9h0M330.8 104.7h0M302.5 66.0h0M288.5 117.9h0M286.9 105.8h0M331.2 137.1h0M332.4 111.8h0M329.6 91.8h0M297.8 49.5h0M304.7 91.8h0M310.1 102.0h0M312.7 108.4h0M290.8 45.9h0M344.5 162.3h0M298.2 34.6h0M367.3 131.8h0M311.4 64.0h0M300.9 56.9h0M292.9 122.3h0M299.0 81.0h0M296.7 108.0h0M313.7 108.5h0M327.9 160.6h0M316.1 129.9h0M310.2 115.7h0M297.6 42.5h0M317.9 152.6h0M295.7 86.2h0M358.1 143.8h0M293.3 103.0h0M293.8 77.9h0M315.5 125.7h0M303.0 100.4h0M319.4 114.9h0M318.4 113.0h0M293.4 78.2h0M307.6 104.3h0M341.1 165.4h0M310.9 89.0h0M301.8 28.9h0M321.5 139.0h0M322.0 117.5h0M335.6 179.3h0M326.9 180.6h0M317.1 73.3h0M304.1 62.7h0M335.5 129.6h0M299.0 99.8h0M297.0 126.4h0M315.5 105.1h0M356.4 139.2h0M341.4 125.3h0M299.0 113.9h0M322.5 137.5h0M343.1 112.0h0M300.0 131.4h0M290.7 178.4h0M310.6 98.2h0M328.9 124.8h0M336.7 150.1h0M313.3 114.4h0M296.6 71.1h0M339.3 116.1h0M331.5 115.8h0M304.2 97.0h0M287.4 183.7h0M303.2 78.3h0M350.2 167.5h0M309.5 48.9h0M356.5 123.9h0M292.0 107.0h0M299.9 111.4h0M354.0 162.2h0M297.0 172.7h0M339.5 160.0h0M343.4 140.3h0M284.4 126.4h0M285.7 82.3h0M298.4 73.4h0M334.0 156.4h0M289.6 134.3h0M335.4 134.6h0M304.5 111.3h0M302.4 66.9h0M304.5 104.8h0M335.1 145.6h0M309.8 99.2h0M307.0 51.7h0M289.7 53.5h0M323.0 141.4h0M337.7 118.8h0M315.8 155.5h0M294.9 81.0h0M309.3 81.4h0M301.9 110.9h0M345.0 128.8h0M354.0 147.2h0M308.5 69.8h0M322.1 117.7h0M340.7 154.2h0M322.7 103.1h0M300.1 57.4h0M312.7 84.3h0M285.6 137.3h0M304.3 136.2h0M334.4 153.3h0M322.9 128.4h0M346.3 144.5h0M354.4 210.4h0M289.8 69.5h0M310.8 50.6h0M344.2 111.7h0M308.9 96.2h0M325.4 89.1h0M309.2 80.2h0M324.7 112.7h0M313.4 122.5h0M325.4 135.1h0M348.7 125.9h0M313.4 64.8h0M347.6 158.3h0M297.3 183.5h0M315.2 112.3h0M343.7 164.1h0M309.0 85.0h0M340.3 155.6h0M319.5 103.7h0M344.0 156.9h0M337.0 119.1h0M320.7 115.8h0M312.1 62.6h0M328.2 140.1h0M301.2 110.9h0M337.4 129.1h0M307.9 147.0h0M335.0 114.5h0M326.2 105.7h0M333.7 134.4h0M290.1 166.4h0M296.3 93.0h0M310.3 114.5h0M331.2 154.4h0M298.0 43.4h0" stroke="#006400" stroke-width="2.2"/>
<path d="M319.7 137.0h0M340.0 121.6h0M343.7 143.0h0M302.3 67.9h0M330.8 104.7h0M302.5 66.0h0M288.5 117.9h0M286.9 105.8h0M331.2 137.1h0M332.4 111.8h0M329.6 91.8h0M297.8 49.5h0M304.7 91.8h0M310.1 102.0h0M312.7 108.4h0M290.8 45.9h0M344.5 162.3h0M298.2 34.6h0M367.3 131.8h0M311.4 64.0h0M300.9 56.9h0M292.9 122.3h0M299.0 81.0h0M296.7 108.0h0M313.7 108.5h0M327.9 160.6h0M316.1 129.9h0M310.2 115.7h0M297.6 42.5h0M317.9 152.6h0M295.7 86.2h0M358.1 143.8h0M293.3 103.0h0M293.8 77.9h0M315.5 125.7h0M303.0 100.4h0M319.4 114.9h0M318.4 113.0h0M293.4 78.2h0M307.6 104.3h0M341.1 165.4h0M310.9 89.0h0M301.8 28.9h0M321.5 139.0h0M322.0 117.5h0M335.6 179.3h0M326.9 180.6h0M317.1 73.3h0M304.1 62.7h0M335.5 129.6h0M299.0 99.8h0M297.0 126.4h0M315.5 105.1h0M356.4 139.2h0M341.4 125.3h0M299.0 113.9h0M322.5 137.5h0M343.1 112.0h0M300.0 131.4h0M290.7 178.4h0M310.6 98.2h0M328.9 124.8h0M336.7 150.1h0M313.3 114.4h0M296.6 71.1h0M339.3 116.1h0M331.5 115.8h0M304.2 97.0h0M287.4 183.7h0M303.2 78.3h0M350.2 167.5h0M309.5 48.9h0M356.5 123.9h0M292.0 107.0h0M299.9 111.4h0M354.0 162.2h0M297.0 172.7h0M339.5 160.0h0M343.4 140.3h0M284.4 126.4h0M285.7 82.3h0M298.4 73.4h0M334.0 156.4h0M289.6 134.3h0M335.4 134.6h0M304.5 111.3h0M302.4 66.9h0M304.5 104.8h0M335.1 145.6h0M309.8 99.2h0M307.0 51.7h0M289.7 53.5h0M323.0 141.4h0M337.7 118.8h0M315.8 155.5h0M294.9 81.0h0M309.3 81.4h0M301.9 110.9h0M345.0 128.8h0M354.0 147.2h0M308.5 69.8h0M322.1 117.7h0M340.7 154.2h0M322.7 103.1h0M300.1 57.4h0M312.7 84.3h0M285.6 137.3h0M304.3 136.2h0M334.4 153.3h0M322.9 128.4h0M346.3 144.5h0M354.4 210.4h0M289.8 69.5h0M310.8 50.6h0M344.2 111.7h0M308.9 96.2h0M325.4 89.1h0M309.2 80.2h0M324.7 112.7h0M313.4 122.5h0M325.4 135.1h0M348.7 125.9h0M313.4 64.8h0M347.6 158.3h0M297.3 183.5h0M315.2 112.3h0M343.7 164.1h0M309.0 85.0h0M340.3 155.6h0M319.5 103.7h0M344.0 156.9h0M337.0 119.1h0M320.7 115.8h0M312.1 62.6h0M328.2 140.1h0M301.2 110.9h0M337.4 129.1h0M307.9 147.0h0M335.0 114.5h0M326.2 105.7h0M333.7 134.4h0M290.1 166.4h0M296.3 93.0h0M310.3 114.5h0M331.2 154.4h0M298.0 43.4h0" stroke="#00dc00" stroke-width="1.45"/>
<path d="M443.7 198.8h0M464.7 190.2h0M447.6 213.0h0M470.1 198.5h0M351.7 153.2h0M495.9 235.2h0M428.9 189.2h0M356.0 153.3h0M489.9 226.7h0M385.1 153.4h0M450.1 213.5h0M357.0 125.5h0M483.9 229.6h0M454.8 209.5h0M373.7 162.1h0M452.8 215.1h0M366.7 134.5h0M398.1 177.8h0M389.4 176.4h0M346.4 132.5h0M422.1 204.1h0M428.1 156.5h0M380.0 129.6h0M394.9 156.8h0M489.1 225.6h0M387.0 134.3h0M431.9 167.5h0M474.5 210.6h0M478.0 203.9h0M390.6 163.5h0M408.8 170.0h0M386.2 201.7h0M469.7 221.2h0M386.0 150.9h0M348.0 148.4h0M353.6 146.8h0M369.6 217.2h0M475.0 207.2h0M375.7 123.1h0M426.9 200.6h0M375.8 157.8h0M359.6 190.0h0M505.2 229.7h0M399.9 173.0h0M403.5 170.9h0M472.6 226.4h0M442.7 215.6h0M368.6 144.0h0M329.6 138.8h0M385.9 151.3h0M435.8 213.2h0M406.4 186.3h0M494.5 227.0h0M406.6 225.2h0M356.4 170.8h0M444.3 226.4h0M456.6 212.1h0M488.6 227.8h0M379.5 170.8h0M392.9 171.1h0M400.0 192.4h0M363.3 143.2h0M390.1 180.4h0M327.0 163.9h0M423.9 181.6h0M370.9 155.5h0M382.7 170.7h0M379.3 180.2h0M407.9 187.9h0M377.3 188.4h0M390.8 195.3h0M371.5 163.3h0M391.9 159.7h0M390.6 152.8h0M407.3 191.8h0M417.7 193.2h0M364.7 148.8h0M365.7 134.2h0M436.7 193.3h0M380.2 151.4h0M379.4 104.5h0M405.4 172.3h0M445.8 192.3h0M396.9 167.3h0M445.0 201.8h0M396.2 171.8h0M426.1 204.0h0M352.2 195.2h0M401.2 185.1h0M483.3 225.7h0M406.6 203.1h0M359.1 189.8h0M384.5 155.0h0M362.0 153.5h0M367.7 189.2h0M347.8 117.8h0M450.8 206.4h0M365.9 155.6h0M440.1 202.2h0M455.0 209.9h0M367.1 164.7h0M433.4 185.3h0M437.9 202.1h0M446.2 184.4h0M338.4 158.8h0M424.0 199.8h0M444.7 189.5h0M484.0 220.5h0M488.6 229.9h0M468.0 214.5h0M393.3 211.1h0M358.6 159.8h0M469.4 216.2h0M358.3 183.9h0M396.9 195.0h0M364.7 188.4h0M380.1 162.0h0M492.2 221.2h0M429.0 205.6h0M498.1 227.9h0M362.5 123.0h0M388.0 181.9h0M394.4 185.1h0M348.9 153.2h0M408.0 177.9h0M362.7 163.3h0M405.8 171.4h0M391.0 150.2h0M328.3 142.2h0M429.0 224.8h0M501.7 223.4h0M368.1 149.0h0M369.8 164.6h0M338.9 156.6h0M373.6 175.2h0M367.1 169.6h0M357.1 138.5h0M443.3 215.1h0M488.8 226.0h0M431.1 226.2h0M412.3 225.3h0M398.6 183.1h0M346.3 158.8h0M426.5 205.7h0M360.0 134.1h0M394.2 175.6h0M378.8 146.3h0M364.8 188.1h0M450.2 223.6h0M382.1 150.2h0M403.7 167.6h0M404.4 197.3h0M369.4 143.6h0M419.6 218.7h0M473.7 209.0h0M428.9 181.7h0M446.4 174.3h0M359.2 164.3h0M406.1 166.1h0M491.3 232.0h0M411.0 183.5h0M362.6 127.2h0M415.9 192.9h0M337.6 143.4h0M440.4 204.1h0M380.8 160.0h0M362.1 141.9h0M380.2 104.7h0M389.6 118.7h0M411.5 210.4h0M415.1 167.0h0M418.4 204.5h0M381.1 109.4h0M442.4 220.8h0M346.5 173.7h0M438.3 229.1h0M393.8 174.7h0M427.8 207.6h0M345.1 130.1h0M424.7 214.2h0M450.7 199.3h0M420.3 191.6h0M408.5 179.2h0M386.8 194.3h0M413.7 179.5h0M485.2 222.7h0M368.8 145.8h0M412.8 137.3h0M337.4 169.1h0M364.8 168.0h0M347.9 164.8h0M399.6 206.2h0M481.1 210.6h0M398.0 124.9h0M409.4 176.9h0M502.3 234.4h0M369.3 162.2h0M373.9 178.6h0M364.8 189.6h0M396.9 178.1h0M455.8 214.1h0" stroke="#800000" stroke-width="2.2"/>
<path d="M443.7 198.8h0M464.7 190.2h0M447.6 213.0h0M470.1 198.5h0M351.7 153.2h0M495.9 235.2h0M428.9 189.2h0M356.0 153.3h0M489.9 226.7h0M385.1 153.4h0M450.1 213.5h0M357.0 125.5h0M483.9 229.6h0M454.8 209.5h0M373.7 162.1h0M452.8 215.1h0M366.7 134.5h0M398.1 177.8h0M389.4 176.4h0M346.4 132.5h0M422.1 204.1h0M428.1 156.5h0M380.0 129.6h0M394.9 156.8h0M489.1 225.6h0M387.0 134.3h0M431.9 167.5h0M474.5 210.6h0M478.0 203.9h0M390.6 163.5h0M408.8 170.0h0M386.2 201.7h0M469.7 221.2h0M386.0 150.9h0M348.0 148.4h0M353.6 146.8h0M369.6 217.2h0M475.0 207.2h0M375.7 123.1h0M426.9 200.6h0M375.8 157.8h0M359.6 190.0h0M505.2 229.7h0M399.9 173.0h0M403.5 170.9h0M472.6 226.4h0M442.7 215.6h0M368.6 144.0h0M329.6 138.8h0M385.9 151.3h0M435.8 213.2h0M406.4 186.3h0M494.5 227.0h0M406.6 225.2h0M356.4 170.8h0M444.3 226.4h0M456.6 212.1h0M488.6 227.8h0M379.5 170.8h0M392.9 171.1h0M400.0 192.4h0M363.3 143.2h0M390.1 180.4h0M327.0 163.9h0M423.9 181.6h0M370.9 155.5h0M382.7 170.7h0M379.3 180.2h0M407.9 187.9h0M377.3 188.4h0M390.8 195.3h0M371.5 163.3h0M391.9 159.7h0M390.6 152.8h0M407.3 191.8h0M417.7 193.2h0M364.7 148.8h0M365.7 134.2h0M436.7 193.3h0M380.2 151.4h0M379.4 104.5h0M405.4 172.3h0M445.8 192.3h0M396.9 167.3h0M445.0 201.8h0M396.2 171.8h0M426.1 204.0h0M352.2 195.2h0M401.2 185.1h0M483.3 225.7h0M406.6 203.1h0M359.1 189.8h0M384.5 155.0h0M362.0 153.5h0M367.7 189.2h0M347.8 117.8h0M450.8 206.4h0M365.9 155.6h0M440.1 202.2h0M455.0 209.9h0M367.1 164.7h0M433.4 185.3h0M437.9 202.1h0M446.2 184.4h0M338.4 158.8h0M424.0 199.8h0M444.7 189.5h0M484.0 220.5h0M488.6 229.9h0M468.0 214.5h0M393.3 211.1h0M358.6 159.8h0M469.4 216.2h0M358.3 183.9h0M396.9 195.0h0M364.7 188.4h0M380.1 162.0h0M492.2 221.2h0M429.0 205.6h0M498.1 227.9h0M362.5 123.0h0M388.0 181.9h0M394.4 185.1h0M348.9 153.2h0M408.0 177.9h0M362.7 163.3h0M405.8 171.4h0M391.0 150.2h0M328.3 142.2h0M429.0 224.8h0M501.7 223.4h0M368.1 149.0h0M369.8 164.6h0M338.9 156.6h0M373.6 175.2h0M367.1 169.6h0M357.1 138.5h0M443.3 215.1h0M488.8 226.0h0M431.1 226.2h0M412.3 225.3h0M398.6 183.1h0M346.3 158.8h0M426.5 205.7h0M360.0 134.1h0M394.2 175.6h0M378.8 146.3h0M364.8 188.1h0M450.2 223.6h0M382.1 150.2h0M403.7 167.6h0M404.4 197.3h0M369.4 143.6h0M419.6 218.7h0M473.7 209.0h0M428.9 181.7h0M446.4 174.3h0M359.2 164.3h0M406.1 166.1h0M491.3 232.0h0M411.0 183.5h0M362.6 127.2h0M415.9 192.9h0M337.6 143.4h0M440.4 204.1h0M380.8 160.0h0M362.1 141.9h0M380.2 104.7h0M389.6 118.7h0M411.5 210.4h0M415.1 167.0h0M418.4 204.5h0M381.1 109.4h0M442.4 220.8h0M346.5 173.7h0M438.3 229.1h0M393.8 174.7h0M427.8 207.6h0M345.1 130.1h0M424.7 214.2h0M450.7 199.3h0M420.3 191.6h0M408.5 179.2h0M386.8 194.3h0M413.7 179.5h0M485.2 222.7h0M368.8 145.8h0M412.8 137.3h0M337.4 169.1h0M364.8 168.0h0M347.9 164.8h0M399.6 206.2h0M481.1 210.6h0M398.0 124.9h0M409.4 176.9h0M502.3 234.4h0M369.3 162.2h0M373.9 178.6h0M364.8 189.6h0M396.9 178.1h0M455.8 214.1h0" stroke="#f00000" stroke-width="1.45"/>
<path d="M286.9 126.4h0M307.8 130.2h0M298.2 96.6h0M295.3 137.6h0M286.1 137.9h0M291.0 124.4h0M285.5 124.4h0M316.3 112.7h0M286.1 159.9h0M285.1 159.7h0M291.9 123.1h0M318.1 136.5h0M301.8 129.3h0M319.2 127.4h0M294.8 58.6h0M320.5 147.6h0M317.6 143.8h0M292.6 126.3h0M334.6 130.8h0M297.2 118.7h0M308.8 159.1h0M289.2 150.8h0M299.0 100.2h0M289.8 154.3h0M316.1 130.0h0M296.6 181.6h0M284.2 98.3h0M288.6 155.7h0M311.6 146.8h0M285.6 107.5h0M324.2 149.2h0M301.5 155.9h0M287.3 47.8h0M285.7 154.4h0M314.3 112.7h0M291.5 96.3h0M313.6 157.0h0M319.7 126.4h0M285.0 65.4h0M290.0 134.2h0M302.8 164.9h0M327.0 140.6h0M285.0 137.3h0M292.7 146.2h0M290.6 132.9h0M288.9 139.3h0M284.4 98.5h0M296.9 130.4h0M331.0 133.0h0M313.2 107.0h0M326.0 143.1h0M328.2 151.4h0M294.4 124.2h0M285.2 147.2h0M298.0 137.2h0M313.3 140.8h0M284.7 17.2h0M321.2 162.4h0M326.9 136.5h0M294.3 147.4h0M311.3 154.7h0M304.9 116.5h0M305.4 147.9h0M297.5 115.7h0M304.8 133.5h0M286.4 91.4h0M290.2 135.8h0M284.6 132.0h0M318.1 111.2h0M299.5 151.8h0M297.8 142.6h0M300.7 140.1h0M311.9 139.1h0M287.6 52.9h0M296.3 34.6h0M322.8 140.2h0M302.4 123.1h0M298.7 127.6h0M297.3 133.6h0M312.4 135.0h0M311.2 150.6h0M291.8 130.7h0M286.2 63.7h0M299.1 163.0h0M287.5 149.4h0M287.4 31.6h0M309.5 115.4h0M310.9 147.2h0M306.4 142.5h0M291.5 113.0h0M292.2 115.2h0M303.9 140.2h0M290.3 136.6h0M322.4 135.7h0M296.4 146.3h0M297.7 140.3h0M305.0 132.2h0M300.2 151.9h0M289.9 100.9h0M284.1 155.5h0M292.5 30.9h0M306.1 42.2h0M311.6 159.0h0M320.4 128.7h0M304.3 131.2h0M293.8 116.1h0M298.9 141.6h0M287.2 125.9h0M320.6 118.2h0M290.9 162.8h0M330.7 145.0h0M318.2 145.2h0M314.3 104.7h0M293.8 140.0h0M291.3 116.5h0M285.8 79.6h0M294.6 95.0h0M287.9 163.5h0" stroke="#000078" stroke-width="2.2"/>
<path d="M286.9 126.4h0M307.8 130.2h0M298.2 96.6h0M295.3 137.6h0M286.1 137.9h0M291.0 124.4h0M285.5 124.4h0M316.3 112.7h0M286.1 159.9h0M285.1 159.7h0M291.9 123.1h0M318.1 136.5h0M301.8 129.3h0M319.2 127.4h0M294.8 58.6h0M320.5 147.6h0M317.6 143.8h0M292.6 126.3h0M334.6 130.8h0M297.2 118.7h0M308.8 159.1h0M289.2 150.8h0M299.0 100.2h0M289.8 154.3h0M316.1 130.0h0M296.6 181.6h0M284.2 98.3h0M288.6 155.7h0M311.6 146.8h0M285.6 107.5h0M324.2 149.2h0M301.5 155.9h0M287.3 47.8h0M285.7 154.4h0M314.3 112.7h0M291.5 96.3h0M313.6 157.0h0M319.7 126.4h0M285.0 65.4h0M290.0 134.2h0M302.8 164.9h0M327.0 140.6h0M285.0 137.3h0M292.7 146.2h0M290.6 132.9h0M288.9 139.3h0M284.4 98.5h0M296.9 130.4h0M331.0 133.0h0M313.2 107.0h0M326.0 143.1h0M328.2 151.4h0M294.4 124.2h0M285.2 147.2h0M298.0 137.2h0M313.3 140.8h0M284.7 17.2h0M321.2 162.4h0M326.9 136.5h0M294.3 147.4h0M311.3 154.7h0M304.9 116.5h0M305.4 147.9h0M297.5 115.7h0M304.8 133.5h0M286.4 91.4h0M290.2 135.8h0M284.6 132.0h0M318.1 111.2h0M299.5 151.8h0M297.8 142.6h0M300.7 140.1h0M311.9 139.1h0M287.6 52.9h0M296.3 34.6h0M322.8 140.2h0M302.4 123.1h0M298.7 127.6h0M297.3 133.6h0M312.4 135.0h0M311.2 150.6h0M291.8 130.7h0M286.2 63.7h0M299.1 163.0h0M287.5 149.4h0M287.4 31.6h0M309.5 115.4h0M310.9 147.2h0M306.4 142.5h0M291.5 113.0h0M292.2 115.2h0M303.9 140.2h0M290.3 136.6h0M322.4 135.7h0M296.4 146.3h0M297.7 140.3h0M305.0 132.2h0M300.2 151.9h0M289.9 100.9h0M284.1 155.5h0M292.5 30.9h0M306.1 42.2h0M311.6 159.0h0M320.4 128.7h0M304.3 131.2h0M293.8 116.1h0M298.9 141.6h0M287.2 125.9h0M320.6 118.2h0M290.9 162.8h0M330.7 145.0h0M318.2 145.2h0M314.3 104.7h0M293.8 140.0h0M291.3 116.5h0M285.8 79.6h0M294.6 95.0h0M287.9 163.5h0" stroke="#0000f0" stroke-width="1.45"/>
<path d="M305.5 53.1h0M340.8 123.9h0M305.9 94.6h0M312.4 116.4h0M306.0 117.5h0M304.4 73.5h0M300.2 71.0h0M304.3 81.4h0M303.8 70.6h0M299.3 144.2h0M326.2 129.5h0M333.8 174.5h0M311.6 117.5h0M296.7 76.2h0M350.5 135.5h0M288.8 90.5h0M305.8 106.0h0M285.4 80.6h0M324.4 113.6h0M303.1 90.0h0M300.2 84.0h0M306.2 74.5h0M293.3 128.3h0M295.1 63.4h0M354.4 162.8h0M346.4 154.2h0M354.3 142.7h0M336.5 103.8h0M326.8 94.2h0M300.5 66.1h0M298.3 124.8h0M297.1 71.9h0M311.9 78.1h0M321.0 108.2h0M294.8 118.6h0M334.9 130.9h0M323.5 133.0h0M329.5 147.5h0M344.0 140.0h0M287.1 98.8h0M344.4 136.5h0M353.4 142.8h0M321.4 127.9h0M326.1 132.8h0M328.7 163.9h0M302.1 59.2h0M344.2 134.6h0M347.6 162.8h0M334.4 173.2h0M286.6 100.8h0M329.9 174.5h0M315.4 133.8h0M316.5 94.8h0M346.2 169.4h0M358.0 143.1h0M327.5 146.1h0M291.1 108.4h0M301.4 70.7h0M332.3 121.9h0M304.4 18.9h0M306.1 45.1h0M343.6 143.3h0M347.5 167.1h0M362.6 181.8h0M342.5 143.2h0M315.8 108.3h0M296.5 37.9h0M284.3 67.9h0M302.1 96.7h0M315.6 88.0h0M290.6 102.9h0M302.8 106.3h0M315.0 78.5h0M329.2 114.8h0M317.1 92.8h0M321.8 111.4h0M328.7 88.4h0M336.7 153.9h0M331.1 93.9h0M349.4 136.7h0M284.8 79.6h0M311.9 92.7h0M295.0 86.0h0M296.1 56.0h0M344.0 169.9h0M308.0 103.4h0M352.6 160.1h0M344.8 121.0h0M317.4 89.6h0M312.3 88.1h0M337.1 134.9h0M314.3 86.0h0M356.7 118.0h0M299.0 61.8h0M356.3 134.7h0M319.1 73.4h0M340.7 143.4h0M295.6 85.2h0M357.1 112.8h0M322.0 93.1h0M348.7 120.5h0M315.9 135.9h0M296.8 57.5h0M310.6 90.1h0M296.2 53.2h0M352.4 125.1h0M320.9 139.8h0M300.9 42.6h0M290.1 60.4h0M355.6 152.3h0M330.6 119.7h0M334.9 129.8h0M297.1 44.1h0M295.7 114.7h0M313.2 99.8h0M357.4 169.2h0M296.3 81.3h0M299.7 111.5h0M321.4 82.9h0M310.0 104.3h0M330.8 149.9h0M306.5 108.6h0M299.9 131.3h0M285.1 107.8h0M325.6 115.3h0M316.8 112.8h0M354.8 154.9h0M332.6 180.4h0M300.3 51.2h0M298.2 52.5h0M342.8 155.6h0M307.6 117.2h0M352.7 146.3h0M318.9 114.0h0M305.7 99.4h0M295.8 124.1h0M321.5 104.1h0M296.3 67.2h0M325.6 135.7h0M338.7 86.0h0M339.4 174.4h0M297.6 130.4h0M306.8 133.1h0M355.5 187.6h0M322.6 107.8h0M335.9 159.5h0" stroke="#006400" stroke-width="2.2"/>
<path d="M305.5 53.1h0M340.8 123.9h0M305.9 94.6h0M312.4 116.4h0M306.0 117.5h0M304.4 73.5h0M300.2 71.0h0M304.3 81.4h0M303.8 70.6h0M299.3 144.2h0M326.2 129.5h0M333.8 174.5h0M311.6 117.5h0M296.7 76.2h0M350.5 135.5h0M288.8 90.5h0M305.8 106.0h0M285.4 80.6h0M324.4 113.6h0M303.1 90.0h0M300.2 84.0h0M306.2 74.5h0M293.3 128.3h0M295.1 63.4h0M354.4 162.8h0M346.4 154.2h0M354.3 142.7h0M336.5 103.8h0M326.8 94.2h0M300.5 66.1h0M298.3 124.8h0M297.1 71.9h0M311.9 78.1h0M321.0 108.2h0M294.8 118.6h0M334.9 130.9h0M323.5 133.0h0M329.5 147.5h0M344.0 140.0h0M287.1 98.8h0M344.4 136.5h0M353.4 142.8h0M321.4 127.9h0M326.1 132.8h0M328.7 163.9h0M302.1 59.2h0M344.2 134.6h0M347.6 162.8h0M334.4 173.2h0M286.6 100.8h0M329.9 174.5h0M315.4 133.8h0M316.5 94.8h0M346.2 169.4h0M358.0 143.1h0M327.5 146.1h0M291.1 108.4h0M301.4 70.7h0M332.3 121.9h0M304.4 18.9h0M306.1 45.1h0M343.6 143.3h0M347.5 167.1h0M362.6 181.8h0M342.5 143.2h0M315.8 108.3h0M296.5 37.9h0M284.3 67.9h0M302.1 96.7h0M315.6 88.0h0M290.6 102.9h0M302.8 106.3h0M315.0 78.5h0M329.2 114.8h0M317.1 92.8h0M321.8 111.4h0M328.7 88.4h0M336.7 153.9h0M331.1 93.9h0M349.4 136.7h0M284.8 79.6h0M311.9 92.7h0M295.0 86.0h0M296.1 56.0h0M344.0 169.9h0M308.0 103.4h0M352.6 160.1h0M344.8 121.0h0M317.4 89.6h0M312.3 88.1h0M337.1 134.9h0M314.3 86.0h0M356.7 118.0h0M299.0 61.8h0M356.3 134.7h0M319.1 73.4h0M340.7 143.4h0M295.6 85.2h0M357.1 112.8h0M322.0 93.1h0M348.7 120.5h0M315.9 135.9h0M296.8 57.5h0M310.6 90.1h0M296.2 53.2h0M352.4 125.1h0M320.9 139.8h0M300.9 42.6h0M290.1 60.4h0M355.6 152.3h0M330.6 119.7h0M334.9 129.8h0M297.1 44.1h0M295.7 114.7h0M313.2 99.8h0M357.4 169.2h0M296.3 81.3h0M299.7 111.5h0M321.4 82.9h0M310.0 104.3h0M330.8 149.9h0M306.5 108.6h0M299.9 131.3h0M285.1 107.8h0M325.6 115.3h0M316.8 112.8h0M354.8 154.9h0M332.6 180.4h0M300.3 51.2h0M298.2 52.5h0M342.8 155.6h0M307.6 117.2h0M352.7 146.3h0M318.9 114.0h0M305.7 99.4h0M295.8 124.1h0M321.5 104.1h0M296.3 67.2h0M325.6 135.7h0M338.7 86.0h0M339.4 174.4h0M297.6 130.4h0M306.8 133.1h0M355.5 187.6h0M322.6 107.8h0M335.9 159.5h0" stroke="#00dc00" stroke-width="1.45"/>
<path d="M378.7 164.4h0M465.6 221.4h0M406.8 185.0h0M480.5 214.3h0M439.5 162.2h0M374.6 168.3h0M418.6 188.1h0M384.4 206.1h0M406.0 176.0h0M382.3 176.0h0M364.2 154.1h0M425.9 186.5h0M347.3 160.8h0M401.3 184.8h0M432.0 194.9h0M373.8 182.3h0M474.3 228.5h0M446.6 207.0h0M338.9 155.9h0M494.6 227.0h0M371.1 119.9h0M349.3 97.8h0M428.3 190.8h0M350.1 137.6h0M399.5 201.3h0M493.7 227.4h0M353.6 198.8h0M364.1 114.0h0M379.1 209.6h0M369.0 176.6h0M420.0 196.0h0M409.8 186.6h0M392.2 197.9h0M407.4 165.3h0M351.4 106.7h0M387.1 158.7h0M403.7 215.2h0M351.5 108.2h0M357.9 144.9h0M360.2 184.2h0M337.6 188.4h0M387.3 181.3h0M358.4 205.7h0M372.4 154.8h0M392.3 173.7h0M359.5 184.0h0M336.1 104.3h0M357.4 149.0h0M377.7 141.2h0M355.0 137.0h0M362.2 128.7h0M386.5 196.0h0M379.2 193.7h0M356.5 103.8h0M443.7 223.0h0M363.4 153.1h0M354.6 124.5h0M465.3 193.2h0M473.5 215.1h0M463.3 208.3h0M405.9 179.1h0M433.6 184.8h0M353.5 145.4h0M419.0 189.0h0M391.4 175.1h0M385.5 197.1h0M368.8 190.1h0M330.2 144.6h0M370.9 132.0h0M367.9 140.2h0M378.8 171.9h0M380.5 167.8h0M401.8 177.5h0M409.2 195.0h0M440.4 207.7h0M410.6 165.0h0M425.9 192.9h0M391.6 191.2h0M352.0 140.0h0M469.3 228.0h0M445.1 199.1h0M487.3 217.8h0M348.5 160.1h0M405.7 204.0h0M471.0 220.4h0M359.3 145.1h0M399.8 149.0h0M410.5 191.7h0M382.0 168.8h0M453.4 208.1h0M371.7 206.8h0M414.9 167.9h0M413.4 202.4h0M408.9 152.8h0M430.0 187.4h0M398.4 154.6h0M422.3 203.1h0M452.3 206.5h0M416.9 196.2h0M395.0 113.3h0M393.5 162.2h0M389.7 152.2h0M468.0 217.6h0M378.1 147.3h0M357.2 151.1h0M326.7 107.6h0M382.6 190.6h0M327.7 104.7h0M362.8 138.4h0M359.7 202.8h0M480.6 225.9h0M437.9 156.6h0M361.6 163.4h0M503.4 233.5h0M418.9 196.6h0M362.8 123.7h0M423.2 199.0h0M408.4 173.7h0M400.7 197.9h0M431.5 218.0h0M370.6 121.5h0M374.1 159.4h0M377.5 198.7h0M405.7 180.5h0M440.4 163.8h0M473.3 208.4h0M456.3 230.2h0M374.4 173.2h0M400.8 225.7h0M382.8 165.6h0M443.9 214.8h0M425.0 200.5h0M420.8 218.9h0M375.5 168.9h0M396.8 183.3h0M347.7 158.3h0M419.1 199.6h0M448.8 199.0h0M353.4 183.4h0M420.3 201.1h0M392.8 121.7h0M432.4 176.9h0M346.9 133.8h0M440.4 208.0h0M399.9 169.7h0M468.6 204.1h0M390.0 174.1h0M369.8 165.9h0M377.3 164.3h0M383.1 128.5h0M398.4 187.7h0M406.0 201.3h0M481.4 233.7h0M378.6 175.7h0M482.3 237.3h0M334.6 150.0h0M359.6 180.7h0M355.1 143.4h0M375.4 160.3h0M456.6 219.8h0M398.6 168.9h0M363.0 141.8h0M421.3 222.4h0M479.5 216.0h0M371.9 150.7h0M466.4 213.7h0M435.2 205.8h0M331.2 135.5h0M436.4 200.1h0M385.1 187.4h0M387.0 164.8h0M395.1 116.7h0M361.4 188.4h0M368.1 170.3h0M347.2 164.6h0M408.5 222.2h0M468.7 213.3h0M377.1 148.9h0M385.8 195.5h0M378.2 182.6h0M386.1 183.8h0M361.1 149.7h0M440.1 218.0h0M442.0 188.1h0M440.1 178.2h0M330.1 144.5h0M389.2 173.4h0M395.5 223.8h0M368.3 178.5h0M368.7 187.4h0M390.0 124.2h0M415.1 193.6h0M400.2 207.5h0M399.6 124.7h0M450.9 204.9h0M360.5 150.9h0M468.7 236.4h0M361.8 124.1h0M442.6 186.9h0M465.1 202.3h0M361.5 160.3h0" stroke="#800000" stroke-width="2.2"/>
<path d="M378.7 164.4h0M465.6 221.4h0M406.8 185.0h0M480.5 214.3h0M439.5 162.2h0M374.6 168.3h0M418.6 188.1h0M384.4 206.1h0M406.0 176.0h0M382.3 176.0h0M364.2 154.1h0M425.9 186.5h0M347.3 160.8h0M401.3 184.8h0M432.0 194.9h0M373.8 182.3h0M474.3 228.5h0M446.6 207.0h0M338.9 155.9h0M494.6 227.0h0M371.1 119.9h0M349.3 97.8h0M428.3 190.8h0M350.1 137.6h0M399.5 201.3h0M493.7 227.4h0M353.6 198.8h0M364.1 114.0h0M379.1 209.6h0M369.0 176.6h0M420.0 196.0h0M409.8 186.6h0M392.2 197.9h0M407.4 165.3h0M351.4 106.7h0M387.1 158.7h0M403.7 215.2h0M351.5 108.2h0M357.9 144.9h0M360.2 184.2h0M337.6 188.4h0M387.3 181.3h0M358.4 205.7h0M372.4 154.8h0M392.3 173.7h0M359.5 184.0h0M336.1 104.3h0M357.4 149.0h0M377.7 141.2h0M355.0 137.0h0M362.2 128.7h0M386.5 196.0h0M379.2 193.7h0M356.5 103.8h0M443.7 223.0h0M363.4 153.1h0M354.6 124.5h0M465.3 193.2h0M473.5 215.1h0M463.3 208.3h0M405.9 179.1h0M433.6 184.8h0M353.5 145.4h0M419.0 189.0h0M391.4 175.1h0M385.5 197.1h0M368.8 190.1h0M330.2 144.6h0M370.9 132.0h0M367.9 140.2h0M378.8 171.9h0M380.5 167.8h0M401.8 177.5h0M409.2 195.0h0M440.4 207.7h0M410.6 165.0h0M425.9 192.9h0M391.6 191.2h0M352.0 140.0h0M469.3 228.0h0M445.1 199.1h0M487.3 217.8h0M348.5 160.1h0M405.7 204.0h0M471.0 220.4h0M359.3 145.1h0M399.8 149.0h0M410.5 191.7h0M382.0 168.8h0M453.4 208.1h0M371.7 206.8h0M414.9 167.9h0M413.4 202.4h0M408.9 152.8h0M430.0 187.4h0M398.4 154.6h0M422.3 203.1h0M452.3 206.5h0M416.9 196.2h0M395.0 113.3h0M393.5 162.2h0M389.7 152.2h0M468.0 217.6h0M378.1 147.3h0M357.2 151.1h0M326.7 107.6h0M382.6 190.6h0M327.7 104.7h0M362.8 138.4h0M359.7 202.8h0M480.6 225.9h0M437.9 156.6h0M361.6 163.4h0M503.4 233.5h0M418.9 196.6h0M362.8 123.7h0M423.2 199.0h0M408.4 173.7h0M400.7 197.9h0M431.5 218.0h0M370.6 121.5h0M374.1 159.4h0M377.5 198.7h0M405.7 180.5h0M440.4 163.8h0M473.3 208.4h0M456.3 230.2h0M374.4 173.2h0M400.8 225.7h0M382.8 165.6h0M443.9 214.8h0M425.0 200.5h0M420.8 218.9h0M375.5 168.9h0M396.8 183.3h0M347.7 158.3h0M419.1 199.6h0M448.8 199.0h0M353.4 183.4h0M420.3 201.1h0M392.8 121.7h0M432.4 176.9h0M346.9 133.8h0M440.4 208.0h0M399.9 169.7h0M468.6 204.1h0M390.0 174.1h0M369.8 165.9h0M377.3 164.3h0M383.1 128.5h0M398.4 187.7h0M406.0 201.3h0M481.4 233.7h0M378.6 175.7h0M482.3 237.3h0M334.6 150.0h0M359.6 180.7h0M355.1 143.4h0M375.4 160.3h0M456.6 219.8h0M398.6 168.9h0M363.0 141.8h0M421.3 222.4h0M479.5 216.0h0M371.9 150.7h0M466.4 213.7h0M435.2 205.8h0M331.2 135.5h0M436.4 200.1h0M385.1 187.4h0M387.0 164.8h0M395.1 116.7h0M361.4 188.4h0M368.1 170.3h0M347.2 164.6h0M408.5 222.2h0M468.7 213.3h0M377.1 148.9h0M385.8 195.5h0M378.2 182.6h0M386.1 183.8h0M361.1 149.7h0M440.1 218.0h0M442.0 188.1h0M440.1 178.2h0M330.1 144.5h0M389.2 173.4h0M395.5 223.8h0M368.3 178.5h0M368.7 187.4h0M390.0 124.2h0M415.1 193.6h0M400.2 207.5h0M399.6 124.7h0M450.9 204.9h0M360.5 150.9h0M468.7 236.4h0M361.8 124.1h0M442.6 186.9h0M465.1 202.3h0M361.5 160.3h0" stroke="#f00000" stroke-width="1.45"/>
<path d="M322.4 135.9h0M288.1 129.1h0M318.4 156.7h0M322.5 143.3h0M291.3 157.8h0M310.4 131.9h0M295.1 31.9h0M307.4 113.6h0M334.8 125.5h0M308.8 130.8h0M318.0 130.3h0M310.5 106.8h0M306.2 139.6h0M288.9 53.2h0M305.6 150.7h0M312.0 123.6h0M284.2 143.0h0M286.5 8.1h0M310.2 147.0h0M299.5 122.8h0M311.5 165.9h0M298.4 135.8h0M315.2 137.9h0M298.1 137.1h0M298.1 114.4h0M294.5 112.0h0M289.2 145.5h0M323.3 163.1h0M328.1 154.0h0M310.9 121.7h0M303.7 138.8h0M289.7 81.6h0M298.0 122.3h0M301.0 28.8h0M296.1 34.9h0M309.8 130.1h0M286.7 145.6h0M309.7 120.8h0M306.6 133.5h0M293.5 124.5h0M293.2 107.3h0M302.7 150.6h0M324.8 150.0h0M288.8 117.7h0M324.0 114.5h0M294.9 111.4h0M316.3 128.9h0M287.7 107.9h0M309.1 143.8h0M296.0 63.9h0M286.9 143.5h0M285.2 157.1h0M314.3 135.1h0M289.4 150.7h0M287.5 73.4h0M311.6 107.4h0M285.5 92.0h0M309.3 131.8h0M300.3 144.6h0M310.3 114.6h0M308.2 142.2h0M299.2 91.6h0M300.3 143.2h0M296.1 160.7h0M290.9 141.9h0M287.9 73.6h0M285.0 147.7h0M314.9 118.0h0M296.9 111.4h0M302.5 149.9h0M304.8 137.4h0M304.9 117.8h0M298.8 25.1h0M315.3 140.8h0M314.8 123.8h0M293.7 138.9h0M293.1 27.7h0M294.5 152.4h0M286.3 113.2h0M296.0 140.7h0M295.1 146.9h0M286.0 158.5h0M310.5 138.5h0M289.2 157.1h0M310.0 113.8h0M293.1 143.0h0M298.2 130.8h0M321.6 130.9h0M318.9 158.0h0M317.5 144.7h0M316.6 127.1h0M291.1 146.5h0M303.5 149.4h0M305.5 83.5h0M286.6 140.8h0M288.4 64.4h0M290.3 165.3h0M292.3 124.3h0M297.3 142.1h0M302.7 124.8h0M305.8 116.8h0M294.4 132.0h0M316.7 160.4h0M311.6 131.4h0M329.4 110.6h0M298.1 140.5h0M284.8 166.1h0M296.1 144.9h0M304.5 123.8h0M297.8 158.9h0M311.3 148.6h0M291.7 16.2h0M286.0 143.4h0M288.4 123.0h0M290.9 106.9h0M286.9 60.4h0M314.5 126.8h0M292.5 143.2h0" stroke="#000078" stroke-width="2.2"/>
<path d="M322.4 135.9h0M288.1 129.1h0M318.4 156.7h0M322.5 143.3h0M291.3 157.8h0M310.4 131.9h0M295.1 31.9h0M307.4 113.6h0M334.8 125.5h0M308.8 130.8h0M318.0 130.3h0M310.5 106.8h0M306.2 139.6h0M288.9 53.2h0M305.6 150.7h0M312.0 123.6h0M284.2 143.0h0M286.5 8.1h0M310.2 147.0h0M299.5 122.8h0M311.5 165.9h0M298.4 135.8h0M315.2 137.9h0M298.1 137.1h0M298.1 114.4h0M294.5 112.0h0M289.2 145.5h0M323.3 163.1h0M328.1 154.0h0M310.9 121.7h0M303.7 138.8h0M289.7 81.6h0M298.0 122.3h0M301.0 28.8h0M296.1 34.9h0M309.8 130.1h0M286.7 145.6h0M309.7 120.8h0M306.6 133.5h0M293.5 124.5h0M293.2 107.3h0M302.7 150.6h0M324.8 150.0h0M288.8 117.7h0M324.0 114.5h0M294.9 111.4h0M316.3 128.9h0M287.7 107.9h0M309.1 143.8h0M296.0 63.9h0M286.9 143.5h0M285.2 157.1h0M314.3 135.1h0M289.4 150.7h0M287.5 73.4h0M311.6 107.4h0M285.5 92.0h0M309.3 131.8h0M300.3 144.6h0M310.3 114.6h0M308.2 142.2h0M299.2 91.6h0M300.3 143.2h0M296.1 160.7h0M290.9 141.9h0M287.9 73.6h0M285.0 147.7h0M314.9 118.0h0M296.9 111.4h0M302.5 149.9h0M304.8 137.4h0M304.9 117.8h0M298.8 25.1h0M315.3 140.8h0M314.8 123.8h0M293.7 138.9h0M293.1 27.7h0M294.5 152.4h0M286.3 113.2h0M296.0 140.7h0M295.1 146.9h0M286.0 158.5h0M310.5 138.5h0M289.2 157.1h0M310.0 113.8h0M293.1 143.0h0M298.2 130.8h0M321.6 130.9h0M318.9 158.0h0M317.5 144.7h0M316.6 127.1h0M291.1 146.5h0M303.5 149.4h0M305.5 83.5h0M286.6 140.8h0M288.4 64.4h0M290.3 165.3h0M292.3 124.3h0M297.3 142.1h0M302.7 124.8h0M305.8 116.8h0M294.4 132.0h0M316.7 160.4h0M311.6 131.4h0M329.4 110.6h0M298.1 140.5h0M284.8 166.1h0M296.1 144.9h0M304.5 123.8h0M297.8 158.9h0M311.3 148.6h0M291.7 16.2h0M286.0 143.4h0M288.4 123.0h0M290.9 106.9h0M286.9 60.4h0M314.5 126.8h0M292.5 143.2h0" stroke="#0000f0" stroke-width="1.45"/>
<path d="M300.9 101.2h0M336.8 133.3h0M297.3 56.3h0M315.7 57.1h0M310.9 95.4h0M337.7 118.8h0M351.8 172.2h0M284.6 94.6h0M307.5 86.5h0M342.7 145.1h0M355.0 176.6h0M330.0 158.5h0M332.7 168.4h0M323.1 131.3h0M313.8 122.7h0M294.6 65.8h0M314.6 131.6h0M298.5 112.9h0M294.4 115.3h0M337.5 126.5h0M327.8 129.7h0M303.3 52.9h0M323.3 131.1h0M317.2 99.4h0M335.3 112.9h0M325.0 145.6h0M355.8 132.9h0M306.3 108.1h0M304.3 95.8h0M331.6 86.3h0M295.7 76.2h0M321.0 87.1h0M318.0 135.0h0M326.9 167.2h0M347.1 169.3h0M328.0 144.4h0M323.8 157.2h0M312.2 104.4h0M299.6 88.5h0M353.1 135.0h0M286.0 100.2h0M335.3 97.3h0M345.3 180.2h0M355.1 163.7h0M310.2 126.8h0M308.4 71.3h0M321.9 124.6h0M328.4 129.1h0M339.1 151.1h0M315.7 96.7h0M300.8 68.4h0M310.1 85.1h0M345.3 135.3h0M308.0 150.5h0M334.5 112.4h0M326.1 123.6h0M328.2 143.7h0M341.9 166.7h0M346.9 152.4h0M345.6 109.8h0M285.1 68.0h0M310.2 46.7h0M332.0 105.7h0M303.1 142.6h0M344.1 164.4h0M332.1 127.8h0M352.2 164.5h0M306.4 133.2h0M316.9 100.4h0M337.7 114.2h0M316.1 107.8h0M328.9 161.3h0M349.8 177.7h0M333.4 115.0h0M287.9 55.4h0M289.1 100.0h0M333.0 144.5h0M306.4 66.3h0M331.5 147.1h0M325.3 112.9h0M337.9 121.8h0M342.7 163.8h0M326.3 116.9h0M309.0 73.2h0M329.2 115.5h0M296.3 59.5h0M339.8 148.6h0M350.5 162.4h0M303.5 97.1h0M330.5 148.4h0M286.0 124.2h0M324.1 143.5h0M306.6 94.8h0M290.7 57.7h0M352.9 160.5h0M306.5 51.6h0M324.2 161.8h0M305.3 89.9h0M324.2 159.5h0M318.2 93.5h0M338.2 124.3h0M352.8 169.1h0M333.5 115.4h0M284.4 85.6h0M308.7 113.7h0M298.6 69.8h0M285.0 139.5h0M355.3 135.0h0M316.6 104.2h0M336.2 115.6h0M339.3 100.7h0M292.0 23.0h0M336.8 82.9h0M314.4 89.2h0M300.6 74.6h0M326.1 109.0h0M337.1 142.5h0M338.8 152.0h0M327.1 125.6h0M340.6 143.8h0M336.1 169.5h0M313.6 62.6h0M324.6 127.6h0M316.5 72.1h0M301.6 104.7h0M326.9 134.5h0M294.0 58.9h0M335.0 169.4h0M324.2 126.6h0M329.3 121.8h0M317.6 70.1h0M323.0 95.3h0M328.0 159.8h0M307.8 78.2h0M353.4 157.6h0M330.1 161.4h0M326.1 127.8h0M285.6 114.5h0M325.3 112.6h0M311.5 114.0h0M290.0 50.1h0M284.6 102.1h0M327.5 171.0h0M332.5 149.4h0M363.3 182.1h0M321.1 62.8h0" stroke="#006400" stroke-width="2.2"/>
<path d="M300.9 101.2h0M336.8 133.3h0M297.3 56.3h0M315.7 57.1h0M310.9 95.4h0M337.7 118.8h0M351.8 172.2h0M284.6 94.6h0M307.5 86.5h0M342.7 145.1h0M355.0 176.6h0M330.0 158.5h0M332.7 168.4h0M323.1 131.3h0M313.8 122.7h0M294.6 65.8h0M314.6 131.6h0M298.5 112.9h0M294.4 115.3h0M337.5 126.5h0M327.8 129.7h0M303.3 52.9h0M323.3 131.1h0M317.2 99.4h0M335.3 112.9h0M325.0 145.6h0M355.8 132.9h0M306.3 108.1h0M304.3 95.8h0M331.6 86.3h0M295.7 76.2h0M321.0 87.1h0M318.0 135.0h0M326.9 167.2h0M347.1 169.3h0M328.0 144.4h0M323.8 157.2h0M312.2 104.4h0M299.6 88.5h0M353.1 135.0h0M286.0 100.2h0M335.3 97.3h0M345.3 180.2h0M355.1 163.7h0M310.2 126.8h0M308.4 71.3h0M321.9 124.6h0M328.4 129.1h0M339.1 151.1h0M315.7 96.7h0M300.8 68.4h0M310.1 85.1h0M345.3 135.3h0M308.0 150.5h0M334.5 112.4h0M326.1 123.6h0M328.2 143.7h0M341.9 166.7h0M346.9 152.4h0M345.6 109.8h0M285.1 68.0h0M310.2 46.7h0M332.0 105.7h0M303.1 142.6h0M344.1 164.4h0M332.1 127.8h0M352.2 164.5h0M306.4 133.2h0M316.9 100.4h0M337.7 114.2h0M316.1 107.8h0M328.9 161.3h0M349.8 177.7h0M333.4 115.0h0M287.9 55.4h0M289.1 100.0h0M333.0 144.5h0M306.4 66.3h0M331.5 147.1h0M325.3 112.9h0M337.9 121.8h0M342.7 163.8h0M326.3 116.9h0M309.0 73.2h0M329.2 115.5h0M296.3 59.5h0M339.8 148.6h0M350.5 162.4h0M303.5 97.1h0M330.5 148.4h0M286.0 124.2h0M324.1 143.5h0M306.6 94.8h0M290.7 57.7h0M352.9 160.5h0M306.5 51.6h0M324.2 161.8h0M305.3 89.9h0M324.2 159.5h0M318.2 93.5h0M338.2 124.3h0M352.8 169.1h0M333.5 115.4h0M284.4 85.6h0M308.7 113.7h0M298.6 69.8h0M285.0 139.5h0M355.3 135.0h0M316.6 104.2h0M336.2 115.6h0M339.3 100.7h0M292.0 23.0h0M336.8 82.9h0M314.4 89.2h0M300.6 74.6h0M326.1 109.0h0M337.1 142.5h0M338.8 152.0h0M327.1 125.6h0M340.6 143.8h0M336.1 169.5h0M313.6 62.6h0M324.6 127.6h0M316.5 72.1h0M301.6 104.7h0M326.9 134.5h0M294.0 58.9h0M335.0 169.4h0M324.2 126.6h0M329.3 121.8h0M317.6 70.1h0M323.0 95.3h0M328.0 159.8h0M307.8 78.2h0M353.4 157.6h0M330.1 161.4h0M326.1 127.8h0M285.6 114.5h0M325.3 112.6h0M311.5 114.0h0M290.0 50.1h0M284.6 102.1h0M327.5 171.0h0M332.5 149.4h0M363.3 182.1h0M321.1 62.8h0" stroke="#00dc00" stroke-width="1.45"/>
<path d="M408.2 160.9h0M417.6 193.7h0M379.0 149.7h0M392.7 154.4h0M467.9 212.1h0M347.6 107.4h0M372.8 153.9h0M381.3 216.4h0M426.2 203.9h0M413.8 172.3h0M410.4 187.1h0M324.7 182.8h0M396.6 196.8h0M388.8 191.5h0M388.5 193.5h0M472.1 225.9h0M351.4 142.1h0M385.3 173.0h0M355.0 132.9h0M324.4 87.9h0M392.7 208.6h0M381.6 144.6h0M363.3 148.8h0M376.2 214.3h0M330.9 186.9h0M413.3 186.4h0M436.6 171.1h0M389.0 182.4h0M379.8 189.9h0M393.1 152.1h0M369.5 197.5h0M386.0 178.9h0M336.1 165.9h0M390.3 183.6h0M378.6 154.6h0M453.2 214.9h0M342.1 141.5h0M342.9 110.1h0M369.0 152.9h0M345.7 129.9h0M436.3 233.3h0M398.8 206.3h0M409.4 185.7h0M334.3 135.1h0M361.4 186.2h0M331.2 125.1h0M439.6 182.6h0M462.5 219.7h0M357.0 174.3h0M360.0 149.2h0M353.1 144.6h0M370.1 125.0h0M334.4 135.6h0M461.4 216.7h0M425.4 178.2h0M463.7 205.9h0M402.2 181.9h0M407.5 194.8h0M474.3 220.2h0M371.8 170.2h0M427.5 205.8h0M379.2 146.3h0M413.3 164.1h0M399.8 160.9h0M393.9 215.0h0M416.3 154.1h0M400.0 194.0h0M392.6 163.2h0M351.5 136.0h0M392.7 162.9h0M382.9 146.1h0M428.1 185.3h0M363.7 165.3h0M396.7 194.2h0M421.4 179.3h0M394.6 148.9h0M436.6 191.9h0M375.0 182.4h0M393.5 172.2h0M366.2 119.3h0M479.9 218.9h0M378.0 153.8h0M393.4 127.9h0M419.7 213.2h0M448.5 225.7h0M413.3 194.0h0M448.7 212.6h0M397.7 173.6h0M399.0 172.0h0M424.8 182.0h0M418.9 195.0h0M392.0 118.0h0M370.8 177.6h0M370.1 162.3h0M359.1 159.8h0M455.0 211.9h0M423.5 211.9h0M358.6 145.4h0M368.2 128.5h0M400.9 218.4h0M331.1 176.5h0M412.0 181.8h0M416.9 186.0h0M457.4 182.2h0M377.2 187.0h0M394.4 178.2h0M395.4 179.8h0M359.4 120.5h0M360.8 122.3h0M365.2 193.1h0M379.5 159.0h0M427.3 187.2h0M388.1 179.8h0M495.3 232.9h0M485.0 234.2h0M476.5 232.1h0M408.8 156.8h0M404.3 166.4h0M370.9 191.2h0M342.2 175.4h0M402.4 194.8h0M364.2 108.8h0M338.5 119.8h0M394.7 181.3h0M432.6 223.4h0M373.9 140.9h0M353.4 129.1h0M381.0 197.0h0M425.8 185.7h0M355.6 140.1h0M405.4 170.2h0M433.6 205.8h0M369.3 122.7h0M386.8 162.2h0M377.1 149.6h0M365.1 126.9h0M394.8 189.6h0M384.5 151.7h0M404.6 190.4h0M436.5 184.8h0M454.8 202.8h0M365.6 210.9h0M397.7 171.2h0M350.2 105.6h0M359.4 157.0h0M464.1 190.9h0M395.1 151.0h0M478.9 228.5h0M487.9 220.7h0M357.4 162.1h0M455.7 219.4h0M369.0 150.6h0M372.4 154.0h0M395.5 218.7h0M421.7 162.7h0M360.4 142.5h0M451.5 205.3h0M440.7 208.1h0M475.2 223.4h0M383.6 143.0h0M429.0 194.9h0M495.2 229.6h0M404.7 175.4h0M389.3 168.4h0M411.9 167.8h0M401.7 162.4h0M409.6 162.3h0M432.3 168.4h0M489.1 226.1h0M408.5 213.1h0M461.4 213.5h0M409.2 185.2h0M477.8 218.9h0M450.8 225.6h0M395.0 220.0h0M485.1 227.0h0M411.2 191.6h0M342.3 87.6h0M379.6 202.6h0M379.4 177.4h0M356.2 149.6h0M403.1 202.2h0M467.3 220.2h0M490.7 225.0h0M402.6 166.2h0M387.4 161.2h0M401.7 228.0h0M396.1 175.4h0M439.4 176.7h0M408.6 137.8h0M445.5 203.8h0M366.6 174.5h0M366.0 165.9h0M391.3 212.2h0M368.1 118.5h0M364.0 149.6h0M415.7 147.5h0M386.1 118.4h0M361.1 160.5h0M371.9 159.5h0M420.5 179.0h0" stroke="#800000" stroke-width="2.2"/>
<path d="M408.2 160.9h0M417.6 193.7h0M379.0 149.7h0M392.7 154.4h0M467.9 212.1h0M347.6 107.4h0M372.8 153.9h0M381.3 216.4h0M426.2 203.9h0M413.8 172.3h0M410.4 187.1h0M324.7 182.8h0M396.6 196.8h0M388.8 191.5h0M388.5 193.5h0M472.1 225.9h0M351.4 142.1h0M385.3 173.0h0M355.0 132.9h0M324.4 87.9h0M392.7 208.6h0M381.6 144.6h0M363.3 148.8h0M376.2 214.3h0M330.9 186.9h0M413.3 186.4h0M436.6 171.1h0M389.0 182.4h0M379.8 189.9h0M393.1 152.1h0M369.5 197.5h0M386.0 178.9h0M336.1 165.9h0M390.3 183.6h0M378.6 154.6h0M453.2 214.9h0M342.1 141.5h0M342.9 110.1h0M369.0 152.9h0M345.7 129.9h0M436.3 233.3h0M398.8 206.3h0M409.4 185.7h0M334.3 135.1h0M361.4 186.2h0M331.2 125.1h0M439.6 182.6h0M462.5 219.7h0M357.0 174.3h0M360.0 149.2h0M353.1 144.6h0M370.1 125.0h0M334.4 135.6h0M461.4 216.7h0M425.4 178.2h0M463.7 205.9h0M402.2 181.9h0M407.5 194.8h0M474.3 220.2h0M371.8 170.2h0M427.5 205.8h0M379.2 146.3h0M413.3 164.1h0M399.8 160.9h0M393.9 215.0h0M416.3 154.1h0M400.0 194.0h0M392.6 163.2h0M351.5 136.0h0M392.7 162.9h0M382.9 146.1h0M428.1 185.3h0M363.7 165.3h0M396.7 194.2h0M421.4 179.3h0M394.6 148.9h0M436.6 191.9h0M375.0 182.4h0M393.5 172.2h0M366.2 119.3h0M479.9 218.9h0M378.0 153.8h0M393.4 127.9h0M419.7 213.2h0M448.5 225.7h0M413.3 194.0h0M448.7 212.6h0M397.7 173.6h0M399.0 172.0h0M424.8 182.0h0M418.9 195.0h0M392.0 118.0h0M370.8 177.6h0M370.1 162.3h0M359.1 159.8h0M455.0 211.9h0M423.5 211.9h0M358.6 145.4h0M368.2 128.5h0M400.9 218.4h0M331.1 176.5h0M412.0 181.8h0M416.9 186.0h0M457.4 182.2h0M377.2 187.0h0M394.4 178.2h0M395.4 179.8h0M359.4 120.5h0M360.8 122.3h0M365.2 193.1h0M379.5 159.0h0M427.3 187.2h0M388.1 179.8h0M495.3 232.9h0M485.0 234.2h0M476.5 232.1h0M408.8 156.8h0M404.3 166.4h0M370.9 191.2h0M342.2 175.4h0M402.4 194.8h0M364.2 108.8h0M338.5 119.8h0M394.7 181.3h0M432.6 223.4h0M373.9 140.9h0M353.4 129.1h0M381.0 197.0h0M425.8 185.7h0M355.6 140.1h0M405.4 170.2h0M433.6 205.8h0M369.3 122.7h0M386.8 162.2h0M377.1 149.6h0M365.1 126.9h0M394.8 189.6h0M384.5 151.7h0M404.6 190.4h0M436.5 184.8h0M454.8 202.8h0M365.6 210.9h0M397.7 171.2h0M350.2 105.6h0M359.4 157.0h0M464.1 190.9h0M395.1 151.0h0M478.9 228.5h0M487.9 220.7h0M357.4 162.1h0M455.7 219.4h0M369.0 150.6h0M372.4 154.0h0M395.5 218.7h0M421.7 162.7h0M360.4 142.5h0M451.5 205.3h0M440.7 208.1h0M475.2 223.4h0M383.6 143.0h0M429.0 194.9h0M495.2 229.6h0M404.7 175.4h0M389.3 168.4h0M411.9 167.8h0M401.7 162.4h0M409.6 162.3h0M432.3 168.4h0M489.1 226.1h0M408.5 213.1h0M461.4 213.5h0M409.2 185.2h0M477.8 218.9h0M450.8 225.6h0M395.0 220.0h0M485.1 227.0h0M411.2 191.6h0M342.3 87.6h0M379.6 202.6h0M379.4 177.4h0M356.2 149.6h0M403.1 202.2h0M467.3 220.2h0M490.7 225.0h0M402.6 166.2h0M387.4 161.2h0M401.7 228.0h0M396.1 175.4h0M439.4 176.7h0M408.6 137.8h0M445.5 203.8h0M366.6 174.5h0M366.0 165.9h0M391.3 212.2h0M368.1 118.5h0M364.0 149.6h0M415.7 147.5h0M386.1 118.4h0M361.1 160.5h0M371.9 159.5h0M420.5 179.0h0" stroke="#f00000" stroke-width="1.45"/>
<path d="M286.9 36.7h0M293.1 112.4h0M301.7 130.0h0M325.0 165.0h0M301.1 113.5h0M311.4 135.3h0M292.0 143.6h0M317.3 134.6h0M294.9 99.4h0M290.7 124.0h0M291.3 140.0h0M285.4 152.4h0M320.0 163.7h0M313.8 132.0h0M288.9 118.4h0M294.3 106.8h0M323.6 147.3h0M293.9 114.2h0M302.7 156.3h0M291.7 155.9h0M312.5 145.4h0M313.7 157.9h0M294.5 112.6h0M287.0 129.4h0M310.3 132.0h0M290.3 153.0h0M289.4 136.5h0M286.7 135.1h0M291.9 152.9h0M296.4 170.3h0M322.6 137.5h0M292.3 142.8h0M296.0 133.5h0M305.2 157.5h0M287.8 13.5h0M288.5 116.3h0M294.5 133.9h0M312.0 155.6h0M321.2 126.9h0M300.9 130.1h0M298.6 153.0h0M304.2 109.5h0M303.7 122.5h0M316.4 127.0h0M300.9 126.0h0M295.3 115.9h0M288.5 131.8h0M304.6 138.8h0M289.2 139.5h0M313.3 123.0h0M303.9 122.3h0M306.2 127.4h0M303.6 158.7h0M299.5 110.4h0M311.2 133.6h0M294.4 148.3h0M292.0 131.2h0M295.0 132.1h0M293.2 148.5h0M289.8 139.5h0M290.2 144.4h0M286.4 117.1h0M301.4 120.6h0M289.8 45.9h0M289.9 81.9h0M298.6 159.0h0M318.8 126.0h0M285.4 137.1h0M312.1 108.4h0M317.5 128.8h0M306.5 153.0h0M291.2 143.0h0M307.0 134.6h0M301.0 128.3h0M300.4 119.3h0M303.7 118.2h0M292.3 130.6h0M303.2 150.4h0M290.1 130.9h0M319.4 152.6h0M284.8 79.7h0M323.2 112.7h0M320.1 151.5h0M304.5 160.2h0M308.7 142.7h0M296.9 145.5h0M291.9 114.7h0M297.2 143.6h0M287.4 147.7h0M293.5 120.9h0M312.3 104.3h0M295.4 145.6h0M292.1 89.7h0M312.0 119.0h0M297.7 127.9h0M299.4 17.7h0M308.7 143.5h0M289.1 133.5h0M321.7 117.9h0M305.9 148.6h0M303.6 127.6h0M301.4 161.9h0M297.2 97.1h0M316.9 141.4h0M299.4 115.7h0M321.4 157.7h0M306.8 129.2h0M291.0 161.8h0M285.1 100.0h0M290.9 100.4h0M314.4 129.2h0M296.2 134.6h0M309.5 105.7h0M284.2 149.7h0M298.6 125.1h0M302.8 118.1h0M304.3 126.1h0M288.1 117.5h0" stroke="#000078" stroke-width="2.2"/>
<path d="M286.9 36.7h0M293.1 112.4h0M301.7 130.0h0M325.0 165.0h0M301.1 113.5h0M311.4 135.3h0M292.0 143.6h0M317.3 134.6h0M294.9 99.4h0M290.7 124.0h0M291.3 140.0h0M285.4 152.4h0M320.0 163.7h0M313.8 132.0h0M288.9 118.4h0M294.3 106.8h0M323.6 147.3h0M293.9 114.2h0M302.7 156.3h0M291.7 155.9h0M312.5 145.4h0M313.7 157.9h0M294.5 112.6h0M287.0 129.4h0M310.3 132.0h0M290.3 153.0h0M289.4 136.5h0M286.7 135.1h0M291.9 152.9h0M296.4 170.3h0M322.6 137.5h0M292.3 142.8h0M296.0 133.5h0M305.2 157.5h0M287.8 13.5h0M288.5 116.3h0M294.5 133.9h0M312.0 155.6h0M321.2 126.9h0M300.9 130.1h0M298.6 153.0h0M304.2 109.5h0M303.7 122.5h0M316.4 127.0h0M300.9 126.0h0M295.3 115.9h0M288.5 131.8h0M304.6 138.8h0M289.2 139.5h0M313.3 123.0h0M303.9 122.3h0M306.2 127.4h0M303.6 158.7h0M299.5 110.4h0M311.2 133.6h0M294.4 148.3h0M292.0 131.2h0M295.0 132.1h0M293.2 148.5h0M289.8 139.5h0M290.2 144.4h0M286.4 117.1h0M301.4 120.6h0M289.8 45.9h0M289.9 81.9h0M298.6 159.0h0M318.8 126.0h0M285.4 137.1h0M312.1 108.4h0M317.5 128.8h0M306.5 153.0h0M291.2 143.0h0M307.0 134.6h0M301.0 128.3h0M300.4 119.3h0M303.7 118.2h0M292.3 130.6h0M303.2 150.4h0M290.1 130.9h0M319.4 152.6h0M284.8 79.7h0M323.2 112.7h0M320.1 151.5h0M304.5 160.2h0M308.7 142.7h0M296.9 145.5h0M291.9 114.7h0M297.2 143.6h0M287.4 147.7h0M293.5 120.9h0M312.3 104.3h0M295.4 145.6h0M292.1 89.7h0M312.0 119.0h0M297.7 127.9h0M299.4 17.7h0M308.7 143.5h0M289.1 133.5h0M321.7 117.9h0M305.9 148.6h0M303.6 127.6h0M301.4 161.9h0M297.2 97.1h0M316.9 141.4h0M299.4 115.7h0M321.4 157.7h0M306.8 129.2h0M291.0 161.8h0M285.1 100.0h0M290.9 100.4h0M314.4 129.2h0M296.2 134.6h0M309.5 105.7h0M284.2 149.7h0M298.6 125.1h0M302.8 118.1h0M304.3 126.1h0M288.1 117.5h0" stroke="#0000f0" stroke-width="1.45"/>
<path d="M296.8 106.2h0M330.1 131.1h0M332.4 153.1h0M344.0 135.6h0M304.9 99.9h0M329.3 155.0h0M340.0 144.1h0M301.3 55.5h0M345.6 123.9h0M310.4 95.8h0M290.1 75.5h0M287.4 90.4h0M347.2 160.9h0M307.3 78.2h0M332.2 142.7h0M349.4 180.6h0M292.9 106.0h0M324.5 100.2h0M348.3 133.1h0M330.3 129.3h0M318.9 119.3h0M319.2 104.3h0M333.1 81.7h0M310.3 93.9h0M292.7 65.2h0M347.1 130.9h0M353.4 134.9h0M286.3 58.8h0M288.5 90.3h0M293.8 111.5h0M337.0 142.1h0M307.9 90.3h0M295.6 81.4h0M335.8 142.3h0M316.2 93.2h0M302.1 76.2h0M300.1 62.8h0M316.0 99.9h0M303.5 118.5h0M361.1 176.7h0M315.7 94.2h0M337.1 135.2h0M302.2 83.0h0M287.0 105.7h0M329.5 112.4h0M332.7 142.3h0M342.8 139.7h0M346.1 169.1h0M322.0 96.7h0M306.4 79.1h0M342.3 144.8h0M299.9 86.4h0M291.4 93.7h0M321.7 89.7h0M338.4 144.7h0M311.6 90.9h0M309.3 82.9h0M321.1 129.2h0M318.1 111.2h0M330.8 184.1h0M346.1 150.0h0M291.3 84.7h0M305.4 53.2h0M297.1 59.9h0M322.5 89.9h0M330.3 169.6h0M305.7 80.4h0M358.3 168.2h0M305.7 112.5h0M312.4 95.1h0M306.2 89.7h0M306.9 64.5h0M332.4 108.5h0M314.1 134.0h0M333.6 157.8h0M284.3 104.1h0M336.3 149.4h0M301.7 99.2h0M299.7 33.5h0M308.6 107.7h0M303.2 155.1h0M354.1 130.4h0M353.6 153.0h0M354.4 193.3h0M357.6 169.3h0M314.4 61.8h0M324.6 153.0h0M294.4 92.5h0M328.8 140.1h0M337.6 140.0h0M308.2 72.9h0M303.8 73.8h0M319.0 114.6h0M305.0 83.3h0M310.6 112.8h0M307.7 111.3h0M327.4 173.5h0M296.8 81.5h0M355.2 164.1h0M300.5 103.8h0M334.1 160.2h0M352.6 178.4h0M299.5 101.6h0M341.3 139.1h0M295.3 67.0h0M331.7 112.2h0M323.8 116.1h0M319.3 110.4h0M330.5 92.4h0M345.9 118.3h0M289.6 98.8h0M328.2 128.1h0M324.3 93.4h0M305.2 94.4h0M345.3 164.3h0M326.4 109.6h0M304.8 80.7h0M349.5 108.9h0M307.4 68.6h0M298.2 158.0h0M303.4 70.2h0M295.5 88.8h0M330.1 170.7h0M304.0 29.1h0M301.4 104.5h0M294.7 96.7h0M326.1 141.5h0M344.2 140.0h0M343.3 158.6h0M300.5 189.3h0M309.3 85.4h0M313.0 66.8h0M336.3 164.4h0M304.0 78.0h0M318.4 135.3h0M339.4 127.3h0M295.8 189.4h0M307.0 96.3h0M294.3 83.0h0M315.3 85.3h0M307.0 80.5h0M301.9 80.0h0M317.4 94.7h0M346.6 102.9h0M323.0 86.7h0M302.8 92.6h0" stroke="#006400" stroke-width="2.2"/>
<path d="M296.8 106.2h0M330.1 131.1h0M332.4 153.1h0M344.0 135.6h0M304.9 99.9h0M329.3 155.0h0M340.0 144.1h0M301.3 55.5h0M345.6 123.9h0M310.4 95.8h0M290.1 75.5h0M287.4 90.4h0M347.2 160.9h0M307.3 78.2h0M332.2 142.7h0M349.4 180.6h0M292.9 106.0h0M324.5 100.2h0M348.3 133.1h0M330.3 129.3h0M318.9 119.3h0M319.2 104.3h0M333.1 81.7h0M310.3 93.9h0M292.7 65.2h0M347.1 130.9h0M353.4 134.9h0M286.3 58.8h0M288.5 90.3h0M293.8 111.5h0M337.0 142.1h0M307.9 90.3h0M295.6 81.4h0M335.8 142.3h0M316.2 93.2h0M302.1 76.2h0M300.1 62.8h0M316.0 99.9h0M303.5 118.5h0M361.1 176.7h0M315.7 94.2h0M337.1 135.2h0M302.2 83.0h0M287.0 105.7h0M329.5 112.4h0M332.7 142.3h0M342.8 139.7h0M346.1 169.1h0M322.0 96.7h0M306.4 79.1h0M342.3 144.8h0M299.9 86.4h0M291.4 93.7h0M321.7 89.7h0M338.4 144.7h0M311.6 90.9h0M309.3 82.9h0M321.1 129.2h0M318.1 111.2h0M330.8 184.1h0M346.1 150.0h0M291.3 84.7h0M305.4 53.2h0M297.1 59.9h0M322.5 89.9h0M330.3 169.6h0M305.7 80.4h0M358.3 168.2h0M305.7 112.5h0M312.4 95.1h0M306.2 89.7h0M306.9 64.5h0M332.4 108.5h0M314.1 134.0h0M333.6 157.8h0M284.3 104.1h0M336.3 149.4h0M301.7 99.2h0M299.7 33.5h0M308.6 107.7h0M303.2 155.1h0M354.1 130.4h0M353.6 153.0h0M354.4 193.3h0M357.6 169.3h0M314.4 61.8h0M324.6 153.0h0M294.4 92.5h0M328.8 140.1h0M337.6 140.0h0M308.2 72.9h0M303.8 73.8h0M319.0 114.6h0M305.0 83.3h0M310.6 112.8h0M307.7 111.3h0M327.4 173.5h0M296.8 81.5h0M355.2 164.1h0M300.5 103.8h0M334.1 160.2h0M352.6 178.4h0M299.5 101.6h0M341.3 139.1h0M295.3 67.0h0M331.7 112.2h0M323.8 116.1h0M319.3 110.4h0M330.5 92.4h0M345.9 118.3h0M289.6 98.8h0M328.2 128.1h0M324.3 93.4h0M305.2 94.4h0M345.3 164.3h0M326.4 109.6h0M304.8 80.7h0M349.5 108.9h0M307.4 68.6h0M298.2 158.0h0M303.4 70.2h0M295.5 88.8h0M330.1 170.7h0M304.0 29.1h0M301.4 104.5h0M294.7 96.7h0M326.1 141.5h0M344.2 140.0h0M343.3 158.6h0M300.5 189.3h0M309.3 85.4h0M313.0 66.8h0M336.3 164.4h0M304.0 78.0h0M318.4 135.3h0M339.4 127.3h0M295.8 189.4h0M307.0 96.3h0M294.3 83.0h0M315.3 85.3h0M307.0 80.5h0M301.9 80.0h0M317.4 94.7h0M346.6 102.9h0M323.0 86.7h0M302.8 92.6h0" stroke="#00dc00" stroke-width="1.45"/>
<path d="M376.4 171.6h0M488.3 223.1h0M372.3 167.6h0M438.1 196.8h0M436.7 221.7h0M352.4 156.6h0M367.5 154.6h0M375.4 202.6h0M456.3 217.6h0M472.4 218.3h0M483.3 214.3h0M382.4 168.8h0M455.1 205.7h0M355.7 152.9h0M375.1 214.2h0M483.3 225.2h0M351.2 175.6h0M393.1 187.1h0M360.9 112.4h0M360.3 157.9h0M364.1 177.0h0M419.9 184.9h0M411.5 207.5h0M444.8 211.2h0M419.4 207.6h0M411.5 184.8h0M392.3 155.9h0M433.2 198.0h0M367.0 144.1h0M456.6 216.1h0M490.6 221.6h0M434.6 187.2h0M465.3 221.0h0M337.5 181.6h0M329.5 178.4h0M389.7 189.6h0M382.5 173.9h0M373.6 168.3h0M378.9 168.4h0M383.1 168.3h0M408.9 169.3h0M456.5 208.1h0M491.0 215.6h0M395.3 184.0h0M365.7 191.1h0M362.8 180.2h0M391.3 190.4h0M446.6 203.1h0M398.7 176.8h0M360.0 149.3h0M361.1 118.7h0M408.0 201.4h0M434.1 202.7h0M479.2 218.0h0M402.7 186.6h0M421.2 217.6h0M470.2 226.9h0M349.4 105.0h0M376.1 159.4h0M395.6 166.1h0M341.9 157.7h0M409.9 181.8h0M355.9 103.2h0M404.8 187.2h0M477.8 221.0h0M403.5 211.6h0M450.4 214.5h0M334.3 150.4h0M426.8 199.3h0M368.9 160.9h0M491.6 224.9h0M437.7 209.3h0M361.1 169.4h0M484.6 233.9h0M404.5 143.6h0M405.1 165.9h0M431.9 219.2h0M378.2 122.5h0M345.7 129.2h0M377.9 192.1h0M505.5 232.4h0M384.9 164.7h0M436.3 202.6h0M325.4 141.1h0M437.9 219.2h0M362.9 172.4h0M363.8 134.9h0M352.9 142.6h0M428.0 220.5h0M399.8 187.5h0M418.4 146.4h0M360.8 132.7h0M338.7 172.3h0M451.7 211.4h0M381.5 191.1h0M459.2 212.9h0M406.8 191.3h0M355.2 180.8h0M413.1 159.2h0M363.5 159.1h0M393.2 156.8h0M363.4 188.4h0M361.3 129.2h0M408.8 182.9h0M448.6 192.0h0M370.9 183.4h0M400.7 198.1h0M360.8 153.4h0M386.9 182.9h0M362.0 141.6h0M361.9 150.3h0M346.8 174.2h0M496.0 235.6h0M451.9 182.3h0M365.1 169.7h0M449.8 191.7h0M367.4 189.9h0M385.3 170.8h0M371.4 169.8h0M372.4 172.7h0M477.2 220.9h0M346.8 177.0h0M393.7 188.5h0M459.6 203.3h0M486.9 233.4h0M353.9 141.9h0M401.0 164.4h0M362.2 161.0h0M375.7 106.6h0M366.4 192.5h0M490.3 226.6h0M465.5 226.3h0M454.4 216.4h0M449.6 225.4h0M493.4 227.6h0M456.1 222.1h0M447.4 191.1h0M362.8 160.5h0M367.9 160.3h0M354.4 190.7h0M419.4 158.0h0M349.2 131.9h0M375.6 152.2h0M426.9 222.6h0M413.4 200.7h0M401.1 184.3h0M461.9 212.5h0M434.1 220.1h0M379.2 213.8h0M481.6 229.6h0M328.7 189.9h0M474.4 225.7h0M424.3 176.5h0M338.3 154.6h0M376.3 189.5h0M377.6 184.1h0M354.9 154.2h0M414.9 190.1h0M442.8 212.4h0M477.7 224.6h0M363.1 99.2h0M474.9 221.6h0M385.5 200.9h0M357.7 168.4h0M409.8 190.6h0M368.0 188.5h0M465.9 227.5h0M423.1 207.4h0M326.6 157.2h0M390.9 170.3h0M436.6 199.4h0M363.3 191.5h0M373.6 164.8h0M367.8 162.1h0M424.6 176.6h0M406.3 152.9h0M423.0 168.6h0M415.7 198.3h0M389.7 172.9h0M363.6 149.7h0M472.0 214.6h0M397.1 211.8h0M420.7 161.7h0M447.7 219.5h0M406.6 175.9h0M345.6 137.7h0M386.3 159.6h0M442.2 194.4h0M368.8 171.1h0M437.3 176.5h0M366.9 196.4h0M389.0 198.8h0M349.3 128.6h0M376.8 189.4h0M399.1 184.3h0M489.2 228.0h0M394.1 159.8h0M360.2 185.3h0M388.2 124.8h0M379.6 136.7h0M409.7 189.3h0" stroke="#800000" stroke-width="2.2"/>
<path d="M376.4 171.6h0M488.3 223.1h0M372.3 167.6h0M438.1 196.8h0M436.7 221.7h0M352.4 156.6h0M367.5 154.6h0M375.4 202.6h0M456.3 217.6h0M472.4 218.3h0M483.3 214.3h0M382.4 168.8h0M455.1 205.7h0M355.7 152.9h0M375.1 214.2h0M483.3 225.2h0M351.2 175.6h0M393.1 187.1h0M360.9 112.4h0M360.3 157.9h0M364.1 177.0h0M419.9 184.9h0M411.5 207.5h0M444.8 211.2h0M419.4 207.6h0M411.5 184.8h0M392.3 155.9h0M433.2 198.0h0M367.0 144.1h0M456.6 216.1h0M490.6 221.6h0M434.6 187.2h0M465.3 221.0h0M337.5 181.6h0M329.5 178.4h0M389.7 189.6h0M382.5 173.9h0M373.6 168.3h0M378.9 168.4h0M383.1 168.3h0M408.9 169.3h0M456.5 208.1h0M491.0 215.6h0M395.3 184.0h0M365.7 191.1h0M362.8 180.2h0M391.3 190.4h0M446.6 203.1h0M398.7 176.8h0M360.0 149.3h0M361.1 118.7h0M408.0 201.4h0M434.1 202.7h0M479.2 218.0h0M402.7 186.6h0M421.2 217.6h0M470.2 226.9h0M349.4 105.0h0M376.1 159.4h0M395.6 166.1h0M341.9 157.7h0M409.9 181.8h0M355.9 103.2h0M404.8 187.2h0M477.8 221.0h0M403.5 211.6h0M450.4 214.5h0M334.3 150.4h0M426.8 199.3h0M368.9 160.9h0M491.6 224.9h0M437.7 209.3h0M361.1 169.4h0M484.6 233.9h0M404.5 143.6h0M405.1 165.9h0M431.9 219.2h0M378.2 122.5h0M345.7 129.2h0M377.9 192.1h0M505.5 232.4h0M384.9 164.7h0M436.3 202.6h0M325.4 141.1h0M437.9 219.2h0M362.9 172.4h0M363.8 134.9h0M352.9 142.6h0M428.0 220.5h0M399.8 187.5h0M418.4 146.4h0M360.8 132.7h0M338.7 172.3h0M451.7 211.4h0M381.5 191.1h0M459.2 212.9h0M406.8 191.3h0M355.2 180.8h0M413.1 159.2h0M363.5 159.1h0M393.2 156.8h0M363.4 188.4h0M361.3 129.2h0M408.8 182.9h0M448.6 192.0h0M370.9 183.4h0M400.7 198.1h0M360.8 153.4h0M386.9 182.9h0M362.0 141.6h0M361.9 150.3h0M346.8 174.2h0M496.0 235.6h0M451.9 182.3h0M365.1 169.7h0M449.8 191.7h0M367.4 189.9h0M385.3 170.8h0M371.4 169.8h0M372.4 172.7h0M477.2 220.9h0M346.8 177.0h0M393.7 188.5h0M459.6 203.3h0M486.9 233.4h0M353.9 141.9h0M401.0 164.4h0M362.2 161.0h0M375.7 106.6h0M366.4 192.5h0M490.3 226.6h0M465.5 226.3h0M454.4 216.4h0M449.6 225.4h0M493.4 227.6h0M456.1 222.1h0M447.4 191.1h0M362.8 160.5h0M367.9 160.3h0M354.4 190.7h0M419.4 158.0h0M349.2 131.9h0M375.6 152.2h0M426.9 222.6h0M413.4 200.7h0M401.1 184.3h0M461.9 212.5h0M434.1 220.1h0M379.2 213.8h0M481.6 229.6h0M328.7 189.9h0M474.4 225.7h0M424.3 176.5h0M338.3 154.6h0M376.3 189.5h0M377.6 184.1h0M354.9 154.2h0M414.9 190.1h0M442.8 212.4h0M477.7 224.6h0M363.1 99.2h0M474.9 221.6h0M385.5 200.9h0M357.7 168.4h0M409.8 190.6h0M368.0 188.5h0M465.9 227.5h0M423.1 207.4h0M326.6 157.2h0M390.9 170.3h0M436.6 199.4h0M363.3 191.5h0M373.6 164.8h0M367.8 162.1h0M424.6 176.6h0M406.3 152.9h0M423.0 168.6h0M415.7 198.3h0M389.7 172.9h0M363.6 149.7h0M472.0 214.6h0M397.1 211.8h0M420.7 161.7h0M447.7 219.5h0M406.6 175.9h0M345.6 137.7h0M386.3 159.6h0M442.2 194.4h0M368.8 171.1h0M437.3 176.5h0M366.9 196.4h0M389.0 198.8h0M349.3 128.6h0M376.8 189.4h0M399.1 184.3h0M489.2 228.0h0M394.1 159.8h0M360.2 185.3h0M388.2 124.8h0M379.6 136.7h0M409.7 189.3h0" stroke="#f00000" stroke-width="1.45"/>
<path d="M318.0 134.1h0M311.2 56.4h0M311.5 132.6h0M297.9 159.0h0M313.7 125.6h0M288.3 124.2h0M290.7 132.1h0M299.7 146.6h0M298.5 138.4h0M300.6 167.0h0M304.7 123.2h0M297.6 141.9h0M297.8 127.4h0M285.3 151.1h0M324.0 128.7h0M303.2 122.9h0M303.7 149.1h0M294.2 45.3h0M284.7 133.6h0M287.2 114.1h0M304.1 130.4h0M312.5 142.8h0M306.0 149.4h0M286.5 121.3h0M293.3 90.4h0M298.5 120.2h0M307.7 126.1h0M293.8 126.6h0M303.1 153.3h0M291.2 28.9h0M286.9 129.5h0M299.2 112.3h0M312.5 149.8h0M289.4 140.7h0M316.9 136.5h0M295.8 123.7h0M292.7 186.0h0M293.9 134.2h0M306.0 156.3h0M293.4 131.5h0M321.1 134.3h0M284.4 143.6h0M292.9 125.6h0M289.2 158.8h0M316.2 111.9h0M300.5 136.7h0M312.2 149.8h0M291.7 129.9h0M323.5 137.2h0M297.7 121.6h0M295.9 122.3h0M312.8 132.1h0M303.4 148.0h0M321.1 134.8h0M298.8 106.4h0M320.0 141.1h0M299.5 125.5h0M294.0 143.3h0M293.3 131.0h0M286.0 123.7h0M286.6 132.8h0M294.7 126.2h0M295.8 116.3h0M288.7 140.3h0M296.3 114.4h0M287.8 41.0h0M295.8 138.7h0M327.6 146.5h0M288.5 129.2h0M287.2 81.3h0M315.1 138.7h0M306.5 120.1h0M304.1 96.4h0M307.4 153.5h0M295.9 154.4h0M295.1 136.4h0M312.5 138.4h0M312.4 106.5h0M294.3 149.2h0M309.7 150.4h0M287.4 135.8h0M323.9 115.4h0M319.9 147.2h0M293.4 141.4h0M304.0 137.3h0M329.0 125.2h0M302.2 139.4h0M303.4 135.2h0M317.0 142.9h0M302.5 122.2h0M292.4 124.7h0M307.3 117.3h0M305.1 138.9h0M321.3 137.4h0M289.2 123.7h0M333.8 147.1h0M309.1 164.9h0M285.4 158.2h0M293.9 137.0h0M294.7 149.6h0M323.7 141.1h0M335.2 128.6h0M312.0 138.5h0M286.1 161.7h0M284.4 136.3h0M289.1 93.9h0M285.9 57.8h0M287.3 121.7h0M316.6 134.6h0M300.2 142.5h0M301.4 89.3h0M291.4 153.7h0M299.5 92.8h0M330.6 113.7h0M303.5 148.0h0M316.4 107.1h0M309.7 137.8h0M306.3 113.4h0" stroke="#000078" stroke-width="2.2"/>
<path d="M318.0 134.1h0M311.2 56.4h0M311.5 132.6h0M297.9 159.0h0M313.7 125.6h0M288.3 124.2h0M290.7 132.1h0M299.7 146.6h0M298.5 138.4h0M300.6 167.0h0M304.7 123.2h0M297.6 141.9h0M297.8 127.4h0M285.3 151.1h0M324.0 128.7h0M303.2 122.9h0M303.7 149.1h0M294.2 45.3h0M284.7 133.6h0M287.2 114.1h0M304.1 130.4h0M312.5 142.8h0M306.0 149.4h0M286.5 121.3h0M293.3 90.4h0M298.5 120.2h0M307.7 126.1h0M293.8 126.6h0M303.1 153.3h0M291.2 28.9h0M286.9 129.5h0M299.2 112.3h0M312.5 149.8h0M289.4 140.7h0M316.9 136.5h0M295.8 123.7h0M292.7 186.0h0M293.9 134.2h0M306.0 156.3h0M293.4 131.5h0M321.1 134.3h0M284.4 143.6h0M292.9 125.6h0M289.2 158.8h0M316.2 111.9h0M300.5 136.7h0M312.2 149.8h0M291.7 129.9h0M323.5 137.2h0M297.7 121.6h0M295.9 122.3h0M312.8 132.1h0M303.4 148.0h0M321.1 134.8h0M298.8 106.4h0M320.0 141.1h0M299.5 125.5h0M294.0 143.3h0M293.3 131.0h0M286.0 123.7h0M286.6 132.8h0M294.7 126.2h0M295.8 116.3h0M288.7 140.3h0M296.3 114.4h0M287.8 41.0h0M295.8 138.7h0M327.6 146.5h0M288.5 129.2h0M287.2 81.3h0M315.1 138.7h0M306.5 120.1h0M304.1 96.4h0M307.4 153.5h0M295.9 154.4h0M295.1 136.4h0M312.5 138.4h0M312.4 106.5h0M294.3 149.2h0M309.7 150.4h0M287.4 135.8h0M323.9 115.4h0M319.9 147.2h0M293.4 141.4h0M304.0 137.3h0M329.0 125.2h0M302.2 139.4h0M303.4 135.2h0M317.0 142.9h0M302.5 122.2h0M292.4 124.7h0M307.3 117.3h0M305.1 138.9h0M321.3 137.4h0M289.2 123.7h0M333.8 147.1h0M309.1 164.9h0M285.4 158.2h0M293.9 137.0h0M294.7 149.6h0M323.7 141.1h0M335.2 128.6h0M312.0 138.5h0M286.1 161.7h0M284.4 136.3h0M289.1 93.9h0M285.9 57.8h0M287.3 121.7h0M316.6 134.6h0M300.2 142.5h0M301.4 89.3h0M291.4 153.7h0M299.5 92.8h0M330.6 113.7h0M303.5 148.0h0M316.4 107.1h0M309.7 137.8h0M306.3 113.4h0" stroke="#0000f0" stroke-width="1.45"/>
<path d="M324.7 100.6h0M358.7 146.1h0M344.7 106.0h0M320.7 115.6h0M344.8 96.8h0M338.3 173.9h0M325.7 172.3h0M295.5 71.1h0M301.5 72.7h0M330.5 117.4h0M293.3 95.1h0M297.7 46.2h0M297.8 144.3h0M297.9 63.6h0M285.7 79.5h0M322.8 121.8h0M333.9 125.1h0M294.5 113.1h0M331.3 114.8h0M332.3 142.8h0M333.0 151.7h0M300.9 61.0h0M315.0 121.9h0M330.7 181.0h0M357.1 135.4h0M301.7 81.2h0M347.3 125.2h0M331.0 168.4h0M315.9 113.9h0M356.9 148.5h0M294.4 68.8h0M343.9 140.7h0M294.1 120.7h0M323.6 159.5h0M329.5 116.1h0M314.0 119.9h0M332.5 171.3h0M296.5 103.1h0M305.7 115.8h0M344.2 137.9h0M325.1 62.4h0M325.1 127.8h0M288.9 103.3h0M301.9 80.8h0M322.6 35.7h0M320.1 124.2h0M309.4 102.4h0M313.8 64.7h0M326.2 133.6h0M312.6 71.0h0M299.1 78.4h0M338.0 159.8h0M307.9 104.5h0M336.6 124.6h0M333.0 143.7h0M307.3 79.9h0M328.3 119.1h0M299.8 85.6h0M285.3 100.5h0M309.1 105.8h0M307.7 86.5h0M284.7 94.7h0M295.9 95.4h0M291.5 64.9h0M332.9 111.7h0M294.6 87.2h0M324.6 76.1h0M292.1 78.5h0M322.8 181.7h0M317.7 77.9h0M296.6 111.5h0M354.1 204.4h0M304.4 54.3h0M323.4 175.8h0M303.5 67.8h0M350.0 111.1h0M317.5 86.4h0M309.1 89.5h0M343.2 108.7h0M356.2 155.7h0M297.1 93.4h0M340.1 119.1h0M292.2 70.8h0M335.1 164.1h0M326.7 132.3h0M296.1 59.9h0M347.7 156.9h0M312.6 105.2h0M321.9 114.0h0M336.9 142.7h0M338.4 149.6h0M301.2 69.0h0M328.4 125.9h0M321.4 101.9h0M287.6 87.6h0M329.1 174.6h0M307.8 85.2h0M300.2 45.7h0M286.0 148.0h0M303.5 90.7h0M316.2 57.4h0M294.5 82.6h0M328.9 165.0h0M299.1 50.8h0M321.0 152.2h0M292.4 76.5h0M326.5 141.5h0M335.2 173.2h0M335.9 140.8h0M319.8 106.7h0M301.0 75.8h0M319.2 115.3h0M309.5 94.1h0M299.8 86.9h0M289.1 88.1h0M341.1 121.3h0M357.0 137.0h0M310.2 100.0h0M356.0 114.1h0M312.0 80.1h0M307.6 108.0h0M344.7 130.1h0M308.0 122.3h0M332.2 177.1h0M353.9 168.9h0M334.4 136.0h0M286.1 50.6h0M296.1 62.1h0M352.2 110.1h0M285.3 68.5h0M328.2 77.7h0M322.6 139.6h0M329.8 158.5h0M334.2 101.0h0M286.4 90.9h0M318.4 108.6h0M287.2 84.5h0M324.2 135.7h0M289.7 102.1h0M326.9 126.0h0M293.1 173.9h0M300.4 87.8h0M319.5 103.4h0M287.8 64.5h0M299.0 84.8h0M291.9 78.0h0" stroke="#006400" stroke-width="2.2"/>
<path d="M324.7 100.6h0M358.7 146.1h0M344.7 106.0h0M320.7 115.6h0M344.8 96.8h0M338.3 173.9h0M325.7 172.3h0M295.5 71.1h0M301.5 72.7h0M330.5 117.4h0M293.3 95.1h0M297.7 46.2h0M297.8 144.3h0M297.9 63.6h0M285.7 79.5h0M322.8 121.8h0M333.9 125.1h0M294.5 113.1h0M331.3 114.8h0M332.3 142.8h0M333.0 151.7h0M300.9 61.0h0M315.0 121.9h0M330.7 181.0h0M357.1 135.4h0M301.7 81.2h0M347.3 125.2h0M331.0 168.4h0M315.9 113.9h0M356.9 148.5h0M294.4 68.8h0M343.9 140.7h0M294.1 120.7h0M323.6 159.5h0M329.5 116.1h0M314.0 119.9h0M332.5 171.3h0M296.5 103.1h0M305.7 115.8h0M344.2 137.9h0M325.1 62.4h0M325.1 127.8h0M288.9 103.3h0M301.9 80.8h0M322.6 35.7h0M320.1 124.2h0M309.4 102.4h0M313.8 64.7h0M326.2 133.6h0M312.6 71.0h0M299.1 78.4h0M338.0 159.8h0M307.9 104.5h0M336.6 124.6h0M333.0 143.7h0M307.3 79.9h0M328.3 119.1h0M299.8 85.6h0M285.3 100.5h0M309.1 105.8h0M307.7 86.5h0M284.7 94.7h0M295.9 95.4h0M291.5 64.9h0M332.9 111.7h0M294.6 87.2h0M324.6 76.1h0M292.1 78.5h0M322.8 181.7h0M317.7 77.9h0M296.6 111.5h0M354.1 204.4h0M304.4 54.3h0M323.4 175.8h0M303.5 67.8h0M350.0 111.1h0M317.5 86.4h0M309.1 89.5h0M343.2 108.7h0M356.2 155.7h0M297.1 93.4h0M340.1 119.1h0M292.2 70.8h0M335.1 164.1h0M326.7 132.3h0M296.1 59.9h0M347.7 156.9h0M312.6 105.2h0M321.9 114.0h0M336.9 142.7h0M338.4 149.6h0M301.2 69.0h0M328.4 125.9h0M321.4 101.9h0M287.6 87.6h0M329.1 174.6h0M307.8 85.2h0M300.2 45.7h0M286.0 148.0h0M303.5 90.7h0M316.2 57.4h0M294.5 82.6h0M328.9 165.0h0M299.1 50.8h0M321.0 152.2h0M292.4 76.5h0M326.5 141.5h0M335.2 173.2h0M335.9 140.8h0M319.8 106.7h0M301.0 75.8h0M319.2 115.3h0M309.5 94.1h0M299.8 86.9h0M289.1 88.1h0M341.1 121.3h0M357.0 137.0h0M310.2 100.0h0M356.0 114.1h0M312.0 80.1h0M307.6 108.0h0M344.7 130.1h0M308.0 122.3h0M332.2 177.1h0M353.9 168.9h0M334.4 136.0h0M286.1 50.6h0M296.1 62.1h0M352.2 110.1h0M285.3 68.5h0M328.2 77.7h0M322.6 139.6h0M329.8 158.5h0M334.2 101.0h0M286.4 90.9h0M318.4 108.6h0M287.2 84.5h0M324.2 135.7h0M289.7 102.1h0M326.9 126.0h0M293.1 173.9h0M300.4 87.8h0M319.5 103.4h0M287.8 64.5h0M299.0 84.8h0M291.9 78.0h0" stroke="#00dc00" stroke-width="1.45"/>
<path d="M470.8 205.0h0M390.7 171.5h0M428.9 215.0h0M431.6 157.8h0M438.8 200.8h0M489.5 226.7h0M410.2 202.6h0M351.6 156.3h0M339.2 137.1h0M359.6 169.0h0M371.2 151.4h0M363.0 194.0h0M446.8 199.4h0M374.7 215.4h0M377.4 136.1h0M428.6 181.7h0M392.9 178.3h0M434.4 172.7h0M375.5 168.8h0M365.4 154.2h0M494.1 228.6h0M370.4 166.9h0M382.4 170.0h0M425.3 194.9h0M370.3 157.8h0M471.7 225.3h0M412.7 205.3h0M477.7 220.1h0M366.4 171.4h0M401.7 145.3h0M480.0 225.9h0M412.0 166.0h0M365.5 175.8h0M361.8 133.3h0M415.1 179.2h0M350.9 149.8h0M362.6 134.5h0M387.9 180.9h0M430.4 210.0h0M409.2 180.3h0M389.6 171.4h0M485.7 229.5h0M359.8 154.5h0M401.0 201.3h0M398.4 202.2h0M392.9 183.4h0M376.0 198.9h0M392.4 154.3h0M390.1 204.1h0M474.0 220.5h0M424.2 199.9h0M462.6 229.2h0M362.0 156.3h0M373.1 124.0h0M362.9 177.0h0M438.2 193.3h0M447.7 210.7h0M368.7 169.7h0M392.8 187.2h0M414.8 197.0h0M366.7 170.5h0M394.1 189.2h0M406.1 196.8h0M379.6 147.8h0M494.1 229.7h0M354.4 152.2h0M353.6 142.3h0M363.8 179.7h0M457.9 229.4h0M439.3 206.4h0M452.8 175.2h0M458.2 216.4h0M497.8 227.8h0M468.1 218.7h0M494.7 233.1h0M361.9 149.1h0M374.3 142.6h0M459.7 212.3h0M356.4 216.1h0M477.4 231.7h0M435.2 179.8h0M418.4 193.8h0M457.3 210.3h0M450.2 198.4h0M389.9 206.6h0M458.1 209.5h0M339.8 192.7h0M348.7 118.5h0M386.0 173.4h0M407.4 186.6h0M385.8 213.0h0M369.4 124.3h0M363.5 172.1h0M373.0 147.3h0M403.3 216.5h0M379.5 175.3h0M374.5 196.1h0M355.7 146.8h0M435.6 214.1h0M400.3 212.9h0M398.7 183.4h0M449.2 202.6h0M364.2 187.5h0M468.1 216.9h0M467.3 213.9h0M367.6 223.1h0M356.5 162.7h0M427.1 165.0h0M415.4 171.0h0M472.8 212.6h0M349.5 162.3h0M363.6 177.9h0M429.5 220.7h0M452.7 227.5h0M384.3 157.4h0M326.4 150.2h0M365.8 161.1h0M349.2 204.3h0M413.4 198.9h0M466.0 219.3h0M415.8 155.3h0M449.4 211.3h0M331.6 183.8h0M424.3 193.9h0M424.0 231.1h0M367.4 139.0h0M381.1 128.9h0M360.0 151.7h0M442.1 222.8h0M385.0 215.9h0M373.8 175.0h0M410.1 170.5h0M383.0 190.1h0M355.1 154.6h0M373.6 100.2h0M377.0 184.2h0M417.6 199.2h0M422.1 193.5h0M382.4 145.0h0M367.7 167.9h0M440.2 205.9h0M454.1 208.5h0M420.9 180.8h0M485.1 231.8h0M382.3 183.4h0M381.1 195.1h0M384.7 153.5h0M399.2 138.1h0M471.4 200.4h0M392.3 140.8h0M420.4 206.2h0M428.0 203.5h0M365.7 120.5h0M471.3 208.7h0M348.7 164.3h0M403.0 180.2h0M350.3 149.6h0M388.4 151.7h0M360.2 132.9h0M352.7 181.4h0M440.2 204.3h0M455.4 200.8h0M325.5 112.7h0M438.3 208.1h0M360.9 162.3h0M405.0 174.4h0M388.1 200.2h0M351.2 137.6h0M376.6 158.9h0M437.6 184.7h0M374.1 206.0h0M388.7 159.7h0M379.1 155.4h0M395.0 178.0h0M347.0 162.5h0M443.0 199.8h0M457.6 228.9h0M412.0 186.2h0M361.3 192.8h0M406.9 165.0h0M442.6 216.6h0M490.5 227.8h0M359.4 184.4h0M368.2 148.7h0M371.6 121.6h0M351.2 146.6h0M384.3 162.0h0M397.6 207.0h0M496.3 231.6h0M451.6 211.0h0M377.7 159.8h0M335.4 127.9h0M363.6 149.0h0M427.5 199.7h0M374.7 146.6h0M472.9 226.3h0M388.2 137.3h0M407.3 149.7h0M384.0 163.7h0M382.0 175.2h0M373.1 172.0h0" stroke="#800000" stroke-width="2.2"/>
<path d="M470.8 205.0h0M390.7 171.5h0M428.9 215.0h0M431.6 157.8h0M438.8 200.8h0M489.5 226.7h0M410.2 202.6h0M351.6 156.3h0M339.2 137.1h0M359.6 169.0h0M371.2 151.4h0M363.0 194.0h0M446.8 199.4h0M374.7 215.4h0M377.4 136.1h0M428.6 181.7h0M392.9 178.3h0M434.4 172.7h0M375.5 168.8h0M365.4 154.2h0M494.1 228.6h0M370.4 166.9h0M382.4 170.0h0M425.3 194.9h0M370.3 157.8h0M471.7 225.3h0M412.7 205.3h0M477.7 220.1h0M366.4 171.4h0M401.7 145.3h0M480.0 225.9h0M412.0 166.0h0M365.5 175.8h0M361.8 133.3h0M415.1 179.2h0M350.9 149.8h0M362.6 134.5h0M387.9 180.9h0M430.4 210.0h0M409.2 180.3h0M389.6 171.4h0M485.7 229.5h0M359.8 154.5h0M401.0 201.3h0M398.4 202.2h0M392.9 183.4h0M376.0 198.9h0M392.4 154.3h0M390.1 204.1h0M474.0 220.5h0M424.2 199.9h0M462.6 229.2h0M362.0 156.3h0M373.1 124.0h0M362.9 177.0h0M438.2 193.3h0M447.7 210.7h0M368.7 169.7h0M392.8 187.2h0M414.8 197.0h0M366.7 170.5h0M394.1 189.2h0M406.1 196.8h0M379.6 147.8h0M494.1 229.7h0M354.4 152.2h0M353.6 142.3h0M363.8 179.7h0M457.9 229.4h0M439.3 206.4h0M452.8 175.2h0M458.2 216.4h0M497.8 227.8h0M468.1 218.7h0M494.7 233.1h0M361.9 149.1h0M374.3 142.6h0M459.7 212.3h0M356.4 216.1h0M477.4 231.7h0M435.2 179.8h0M418.4 193.8h0M457.3 210.3h0M450.2 198.4h0M389.9 206.6h0M458.1 209.5h0M339.8 192.7h0M348.7 118.5h0M386.0 173.4h0M407.4 186.6h0M385.8 213.0h0M369.4 124.3h0M363.5 172.1h0M373.0 147.3h0M403.3 216.5h0M379.5 175.3h0M374.5 196.1h0M355.7 146.8h0M435.6 214.1h0M400.3 212.9h0M398.7 183.4h0M449.2 202.6h0M364.2 187.5h0M468.1 216.9h0M467.3 213.9h0M367.6 223.1h0M356.5 162.7h0M427.1 165.0h0M415.4 171.0h0M472.8 212.6h0M349.5 162.3h0M363.6 177.9h0M429.5 220.7h0M452.7 227.5h0M384.3 157.4h0M326.4 150.2h0M365.8 161.1h0M349.2 204.3h0M413.4 198.9h0M466.0 219.3h0M415.8 155.3h0M449.4 211.3h0M331.6 183.8h0M424.3 193.9h0M424.0 231.1h0M367.4 139.0h0M381.1 128.9h0M360.0 151.7h0M442.1 222.8h0M385.0 215.9h0M373.8 175.0h0M410.1 170.5h0M383.0 190.1h0M355.1 154.6h0M373.6 100.2h0M377.0 184.2h0M417.6 199.2h0M422.1 193.5h0M382.4 145.0h0M367.7 167.9h0M440.2 205.9h0M454.1 208.5h0M420.9 180.8h0M485.1 231.8h0M382.3 183.4h0M381.1 195.1h0M384.7 153.5h0M399.2 138.1h0M471.4 200.4h0M392.3 140.8h0M420.4 206.2h0M428.0 203.5h0M365.7 120.5h0M471.3 208.7h0M348.7 164.3h0M403.0 180.2h0M350.3 149.6h0M388.4 151.7h0M360.2 132.9h0M352.7 181.4h0M440.2 204.3h0M455.4 200.8h0M325.5 112.7h0M438.3 208.1h0M360.9 162.3h0M405.0 174.4h0M388.1 200.2h0M351.2 137.6h0M376.6 158.9h0M437.6 184.7h0M374.1 206.0h0M388.7 159.7h0M379.1 155.4h0M395.0 178.0h0M347.0 162.5h0M443.0 199.8h0M457.6 228.9h0M412.0 186.2h0M361.3 192.8h0M406.9 165.0h0M442.6 216.6h0M490.5 227.8h0M359.4 184.4h0M368.2 148.7h0M371.6 121.6h0M351.2 146.6h0M384.3 162.0h0M397.6 207.0h0M496.3 231.6h0M451.6 211.0h0M377.7 159.8h0M335.4 127.9h0M363.6 149.0h0M427.5 199.7h0M374.7 146.6h0M472.9 226.3h0M388.2 137.3h0M407.3 149.7h0M384.0 163.7h0M382.0 175.2h0M373.1 172.0h0" stroke="#f00000" stroke-width="1.45"/>
<path d="M298.1 154.2h0M298.1 148.3h0M286.8 227.8h0M298.7 131.1h0M288.5 86.7h0M311.7 149.5h0M297.6 131.1h0M332.6 132.6h0M298.7 82.4h0M306.6 146.5h0M301.1 145.0h0M294.3 119.8h0M301.1 154.9h0M297.9 68.8h0M293.7 128.9h0M306.9 115.2h0M309.2 132.4h0M300.7 125.7h0M308.5 148.1h0M293.5 124.0h0M309.0 107.7h0M295.2 128.8h0M307.9 142.5h0M301.7 141.6h0M296.8 134.9h0M295.9 30.2h0M290.5 141.6h0M310.9 119.6h0M316.6 127.7h0M286.5 129.5h0M297.6 133.4h0M319.8 125.1h0M291.6 43.2h0M295.3 141.2h0M294.4 151.5h0M293.7 135.2h0M311.2 133.0h0M285.7 115.2h0M308.0 149.6h0M311.7 139.5h0M285.2 142.6h0M293.2 157.5h0M314.9 145.9h0M299.3 125.3h0M300.5 112.3h0M312.2 122.6h0M295.7 134.6h0M290.7 81.5h0M300.6 95.7h0M288.5 126.6h0M333.1 119.4h0M299.1 136.2h0M289.2 118.1h0M298.4 141.5h0M290.8 129.3h0M301.2 129.9h0M298.1 108.9h0M295.0 145.1h0M314.2 136.8h0M289.1 159.8h0M309.9 125.4h0M290.6 128.6h0M311.2 123.2h0M292.5 159.1h0M293.5 137.4h0M301.4 180.0h0M307.5 137.4h0M314.3 112.3h0M304.0 15.9h0M287.3 96.6h0M323.3 139.8h0M292.5 117.4h0M306.5 130.9h0M306.6 130.7h0M308.5 125.0h0M323.3 131.4h0M310.7 133.9h0M292.5 148.6h0M295.8 122.8h0M301.1 131.8h0M294.8 133.4h0M285.7 131.0h0M317.0 132.2h0M314.2 151.2h0M321.2 139.8h0M285.6 110.5h0M285.6 114.4h0M293.3 150.0h0M287.5 125.2h0M286.3 151.8h0M286.3 137.5h0M298.5 135.8h0M308.9 124.6h0M305.8 108.0h0M296.4 99.6h0M284.2 148.8h0M314.3 191.2h0M311.7 139.1h0M294.4 123.8h0M285.6 50.2h0M304.3 72.9h0M290.5 69.6h0M298.9 133.0h0M288.5 147.9h0M329.6 125.0h0M327.7 144.0h0M304.6 139.6h0M323.8 145.4h0M290.4 149.0h0M293.6 136.9h0M285.4 143.7h0M284.7 160.7h0M288.8 123.9h0M296.9 157.4h0M310.6 142.4h0M319.5 138.9h0M333.0 142.4h0M310.4 143.0h0" stroke="#000078" stroke-width="2.2"/>
<path d="M298.1 154.2h0M298.1 148.3h0M286.8 227.8h0M298.7 131.1h0M288.5 86.7h0M311.7 149.5h0M297.6 131.1h0M332.6 132.6h0M298.7 82.4h0M306.6 146.5h0M301.1 145.0h0M294.3 119.8h0M301.1 154.9h0M297.9 68.8h0M293.7 128.9h0M306.9 115.2h0M309.2 132.4h0M300.7 125.7h0M308.5 148.1h0M293.5 124.0h0M309.0 107.7h0M295.2 128.8h0M307.9 142.5h0M301.7 141.6h0M296.8 134.9h0M295.9 30.2h0M290.5 141.6h0M310.9 119.6h0M316.6 127.7h0M286.5 129.5h0M297.6 133.4h0M319.8 125.1h0M291.6 43.2h0M295.3 141.2h0M294.4 151.5h0M293.7 135.2h0M311.2 133.0h0M285.7 115.2h0M308.0 149.6h0M311.7 139.5h0M285.2 142.6h0M293.2 157.5h0M314.9 145.9h0M299.3 125.3h0M300.5 112.3h0M312.2 122.6h0M295.7 134.6h0M290.7 81.5h0M300.6 95.7h0M288.5 126.6h0M333.1 119.4h0M299.1 136.2h0M289.2 118.1h0M298.4 141.5h0M290.8 129.3h0M301.2 129.9h0M298.1 108.9h0M295.0 145.1h0M314.2 136.8h0M289.1 159.8h0M309.9 125.4h0M290.6 128.6h0M311.2 123.2h0M292.5 159.1h0M293.5 137.4h0M301.4 180.0h0M307.5 137.4h0M314.3 112.3h0M304.0 15.9h0M287.3 96.6h0M323.3 139.8h0M292.5 117.4h0M306.5 130.9h0M306.6 130.7h0M308.5 125.0h0M323.3 131.4h0M310.7 133.9h0M292.5 148.6h0M295.8 122.8h0M301.1 131.8h0M294.8 133.4h0M285.7 131.0h0M317.0 132.2h0M314.2 151.2h0M321.2 139.8h0M285.6 110.5h0M285.6 114.4h0M293.3 150.0h0M287.5 125.2h0M286.3 151.8h0M286.3 137.5h0M298.5 135.8h0M308.9 124.6h0M305.8 108.0h0M296.4 99.6h0M284.2 148.8h0M314.3 191.2h0M311.7 139.1h0M294.4 123.8h0M285.6 50.2h0M304.3 72.9h0M290.5 69.6h0M298.9 133.0h0M288.5 147.9h0M329.6 125.0h0M327.7 144.0h0M304.6 139.6h0M323.8 145.4h0M290.4 149.0h0M293.6 136.9h0M285.4 143.7h0M284.7 160.7h0M288.8 123.9h0M296.9 157.4h0M310.6 142.4h0M319.5 138.9h0M333.0 142.4h0M310.4 143.0h0" stroke="#0000f0" stroke-width="1.45"/>
<path d="M363.1 131.4h0M325.9 149.4h0M323.9 167.0h0M341.9 125.9h0M303.4 42.5h0M309.9 113.7h0M319.5 108.8h0M316.6 95.0h0M322.4 100.4h0M321.0 92.5h0M323.9 159.9h0M338.9 108.1h0M332.4 174.0h0M302.7 77.2h0M349.3 147.2h0M353.9 163.3h0M298.2 99.3h0M312.9 121.3h0M338.1 134.5h0M342.6 110.4h0M357.7 143.5h0M316.0 97.4h0M293.2 74.3h0M341.1 169.2h0M319.7 67.5h0M353.4 170.0h0M284.8 119.3h0M307.3 62.1h0M329.9 126.6h0M331.6 109.4h0M340.7 117.9h0M312.0 53.0h0M342.0 181.5h0M329.3 100.4h0M316.0 102.9h0M313.1 156.6h0M318.6 106.2h0M338.7 142.9h0M347.0 111.2h0M339.9 169.0h0M301.3 37.2h0M342.5 133.0h0M310.4 109.1h0M299.8 90.8h0M322.9 161.1h0M312.1 93.3h0M332.5 133.4h0M321.6 90.5h0M325.2 131.3h0M301.0 109.9h0M315.2 76.4h0M347.2 159.7h0M319.8 110.5h0M288.9 74.8h0M349.2 127.3h0M313.2 99.4h0M324.1 103.5h0M305.8 79.3h0M353.9 153.5h0M331.1 167.4h0M322.8 85.6h0M347.4 134.0h0M318.7 105.7h0M324.7 159.7h0M352.4 135.2h0M327.1 170.4h0M335.6 177.1h0M335.6 94.4h0M330.0 91.4h0M344.1 145.7h0M337.7 159.9h0M339.2 127.9h0M338.1 105.8h0M293.4 146.1h0M291.1 112.8h0M284.7 77.1h0M335.5 146.9h0M335.1 131.4h0M316.5 171.4h0M334.8 164.9h0M326.6 144.5h0M289.7 93.3h0M352.8 133.2h0M292.5 144.5h0M333.6 86.6h0M314.4 77.9h0M332.1 144.2h0M298.1 59.9h0M344.1 149.3h0M350.4 120.3h0M355.5 140.8h0M346.7 162.6h0M352.8 128.8h0M326.6 148.6h0M338.1 153.9h0M297.1 68.2h0M298.7 70.2h0M333.3 143.5h0M305.4 69.3h0M311.4 111.5h0M293.1 131.1h0M339.6 143.4h0M338.4 148.2h0M298.8 56.1h0M313.3 108.4h0M353.9 174.3h0M323.0 150.3h0M287.8 92.6h0M336.2 153.0h0M342.5 133.6h0M302.4 68.8h0M315.6 153.3h0M294.1 60.1h0M299.0 40.0h0M320.5 87.9h0M325.6 166.5h0M338.9 124.8h0M308.4 126.3h0M312.6 69.6h0M333.1 88.1h0M291.5 89.6h0M313.5 87.6h0M332.8 135.2h0M301.9 61.0h0M332.6 148.1h0M347.9 124.3h0M342.8 128.2h0M303.8 100.4h0M339.5 146.8h0M322.4 163.3h0M333.6 139.0h0M350.0 117.8h0M344.0 128.6h0M333.1 146.2h0M339.7 102.7h0M300.6 87.1h0M314.6 107.8h0M346.6 126.3h0M348.3 106.1h0M313.6 80.2h0M323.3 138.7h0M316.1 78.9h0M330.3 138.2h0M297.7 103.7h0M315.0 104.2h0" stroke="#006400" stroke-width="2.2"/>
<path d="M363.1 131.4h0M325.9 149.4h0M323.9 167.0h0M341.9 125.9h0M303.4 42.5h0M309.9 113.7h0M319.5 108.8h0M316.6 95.0h0M322.4 100.4h0M321.0 92.5h0M323.9 159.9h0M338.9 108.1h0M332.4 174.0h0M302.7 77.2h0M349.3 147.2h0M353.9 163.3h0M298.2 99.3h0M312.9 121.3h0M338.1 134.5h0M342.6 110.4h0M357.7 143.5h0M316.0 97.4h0M293.2 74.3h0M341.1 169.2h0M319.7 67.5h0M353.4 170.0h0M284.8 119.3h0M307.3 62.1h0M329.9 126.6h0M331.6 109.4h0M340.7 117.9h0M312.0 53.0h0M342.0 181.5h0M329.3 100.4h0M316.0 102.9h0M313.1 156.6h0M318.6 106.2h0M338.7 142.9h0M347.0 111.2h0M339.9 169.0h0M301.3 37.2h0M342.5 133.0h0M310.4 109.1h0M299.8 90.8h0M322.9 161.1h0M312.1 93.3h0M332.5 133.4h0M321.6 90.5h0M325.2 131.3h0M301.0 109.9h0M315.2 76.4h0M347.2 159.7h0M319.8 110.5h0M288.9 74.8h0M349.2 127.3h0M313.2 99.4h0M324.1 103.5h0M305.8 79.3h0M353.9 153.5h0M331.1 167.4h0M322.8 85.6h0M347.4 134.0h0M318.7 105.7h0M324.7 159.7h0M352.4 135.2h0M327.1 170.4h0M335.6 177.1h0M335.6 94.4h0M330.0 91.4h0M344.1 145.7h0M337.7 159.9h0M339.2 127.9h0M338.1 105.8h0M293.4 146.1h0M291.1 112.8h0M284.7 77.1h0M335.5 146.9h0M335.1 131.4h0M316.5 171.4h0M334.8 164.9h0M326.6 144.5h0M289.7 93.3h0M352.8 133.2h0M292.5 144.5h0M333.6 86.6h0M314.4 77.9h0M332.1 144.2h0M298.1 59.9h0M344.1 149.3h0M350.4 120.3h0M355.5 140.8h0M346.7 162.6h0M352.8 128.8h0M326.6 148.6h0M338.1 153.9h0M297.1 68.2h0M298.7 70.2h0M333.3 143.5h0M305.4 69.3h0M311.4 111.5h0M293.1 131.1h0M339.6 143.4h0M338.4 148.2h0M298.8 56.1h0M313.3 108.4h0M353.9 174.3h0M323.0 150.3h0M287.8 92.6h0M336.2 153.0h0M342.5 133.6h0M302.4 68.8h0M315.6 153.3h0M294.1 60.1h0M299.0 40.0h0M320.5 87.9h0M325.6 166.5h0M338.9 124.8h0M308.4 126.3h0M312.6 69.6h0M333.1 88.1h0M291.5 89.6h0M313.5 87.6h0M332.8 135.2h0M301.9 61.0h0M332.6 148.1h0M347.9 124.3h0M342.8 128.2h0M303.8 100.4h0M339.5 146.8h0M322.4 163.3h0M333.6 139.0h0M350.0 117.8h0M344.0 128.6h0M333.1 146.2h0M339.7 102.7h0M300.6 87.1h0M314.6 107.8h0M346.6 126.3h0M348.3 106.1h0M313.6 80.2h0M323.3 138.7h0M316.1 78.9h0M330.3 138.2h0M297.7 103.7h0M315.0 104.2h0" stroke="#00dc00" stroke-width="1.45"/>
<path d="M472.4 221.3h0M358.2 180.1h0M360.9 137.3h0M412.5 206.5h0M390.7 170.5h0M363.7 142.2h0M380.0 154.8h0M438.8 208.9h0M382.5 181.8h0M344.4 109.0h0M496.4 229.9h0M371.7 147.8h0M366.3 143.0h0M342.5 157.7h0M449.6 210.2h0M378.9 171.0h0M402.2 175.3h0M458.5 234.2h0M379.6 214.1h0M360.5 191.5h0M459.1 207.1h0M361.2 173.0h0M334.2 129.8h0M390.9 126.9h0M412.3 189.2h0M474.0 229.9h0M405.1 170.6h0M362.8 169.5h0M377.4 165.4h0M354.3 145.8h0M367.9 165.0h0M414.9 177.1h0M413.3 169.6h0M493.6 229.4h0M385.6 162.7h0M432.4 204.0h0M408.1 171.5h0M404.2 197.9h0M448.9 176.9h0M445.5 230.6h0M337.5 124.9h0M390.0 154.8h0M380.1 189.2h0M363.9 142.0h0M362.5 172.9h0M474.8 224.2h0M445.1 215.0h0M474.6 223.6h0M382.4 162.0h0M379.4 190.1h0M400.1 193.5h0M378.7 160.0h0M396.2 115.2h0M356.7 158.0h0M414.6 227.6h0M398.3 172.0h0M407.2 178.5h0M358.7 142.4h0M477.4 231.8h0M381.9 166.8h0M408.4 202.7h0M433.6 161.0h0M453.5 216.4h0M490.5 228.4h0M398.2 174.6h0M417.1 162.9h0M442.3 205.4h0M466.9 220.8h0M347.5 188.5h0M346.4 97.3h0M394.1 179.9h0M442.3 204.6h0M393.9 159.5h0M336.1 140.6h0M393.6 159.9h0M424.5 197.7h0M508.4 236.9h0M366.6 169.6h0M454.2 228.5h0M463.2 214.6h0M426.2 208.3h0M415.3 196.2h0M484.6 223.3h0M483.0 222.5h0M367.0 154.8h0M461.2 214.2h0M410.5 182.9h0M352.9 134.2h0M356.2 168.9h0M394.7 185.3h0M406.4 202.2h0M380.9 123.1h0M419.9 188.6h0M448.5 210.6h0M417.9 178.8h0M396.0 218.6h0M382.5 178.1h0M430.1 181.0h0M437.8 179.8h0M360.2 104.5h0M361.3 139.6h0M403.5 184.9h0M446.8 196.3h0M373.2 147.9h0M444.2 204.8h0M467.0 215.3h0M412.8 213.7h0M424.0 210.2h0M373.3 221.2h0M396.9 175.1h0M459.0 198.9h0M337.8 157.4h0M392.3 156.1h0M447.8 223.7h0M436.6 229.1h0M381.7 133.9h0M375.5 180.9h0M338.0 130.5h0M366.7 188.4h0M374.3 181.8h0M430.5 185.9h0M377.4 187.9h0M432.0 205.7h0M324.3 132.5h0M369.3 220.3h0M388.6 168.1h0M366.1 146.2h0M466.7 210.6h0M485.7 232.7h0M390.2 139.5h0M401.6 175.2h0M389.7 205.5h0M381.9 106.9h0M500.1 231.4h0M399.3 123.0h0M471.9 227.3h0M389.1 181.9h0M354.4 96.2h0M386.4 161.4h0M350.2 166.6h0M467.2 222.5h0M414.6 187.9h0M392.2 143.7h0M363.4 121.9h0M443.3 228.3h0M440.5 179.9h0M490.4 221.2h0M359.4 181.4h0M376.8 212.1h0M386.7 106.0h0M353.7 175.4h0M489.1 232.9h0M386.7 154.7h0M371.6 159.8h0M374.4 164.1h0M430.3 174.9h0M359.5 126.9h0M378.7 161.3h0M380.8 110.8h0M410.2 181.5h0M410.1 182.1h0M382.9 162.1h0M340.8 132.4h0M415.9 186.4h0M358.2 152.5h0M455.2 213.7h0M387.5 195.0h0M421.8 176.4h0M413.8 193.7h0M441.4 202.2h0M333.5 140.6h0M387.9 154.5h0M378.3 161.5h0M418.0 189.8h0M479.5 217.0h0M374.5 121.5h0M370.1 168.0h0M369.7 152.4h0M374.2 140.2h0M395.2 174.1h0M382.5 196.2h0M376.1 185.6h0M366.1 166.3h0M384.2 183.0h0M358.1 138.3h0M405.6 160.3h0M379.3 163.1h0M428.4 205.4h0M370.4 184.4h0M369.3 136.7h0M459.5 213.4h0M503.7 236.9h0M424.9 180.2h0M339.3 145.3h0M368.6 104.9h0M509.4 235.0h0M376.4 121.2h0M386.0 170.3h0M382.4 160.1h0M375.7 130.4h0" stroke="#800000" stroke-width="2.2"/>
<path d="M472.4 221.3h0M358.2 180.1h0M360.9 137.3h0M412.5 206.5h0M390.7 170.5h0M363.7 142.2h0M380.0 154.8h0M438.8 208.9h0M382.5 181.8h0M344.4 109.0h0M496.4 229.9h0M371.7 147.8h0M366.3 143.0h0M342.5 157.7h0M449.6 210.2h0M378.9 171.0h0M402.2 175.3h0M458.5 234.2h0M379.6 214.1h0M360.5 191.5h0M459.1 207.1h0M361.2 173.0h0M334.2 129.8h0M390.9 126.9h0M412.3 189.2h0M474.0 229.9h0M405.1 170.6h0M362.8 169.5h0M377.4 165.4h0M354.3 145.8h0M367.9 165.0h0M414.9 177.1h0M413.3 169.6h0M493.6 229.4h0M385.6 162.7h0M432.4 204.0h0M408.1 171.5h0M404.2 197.9h0M448.9 176.9h0M445.5 230.6h0M337.5 124.9h0M390.0 154.8h0M380.1 189.2h0M363.9 142.0h0M362.5 172.9h0M474.8 224.2h0M445.1 215.0h0M474.6 223.6h0M382.4 162.0h0M379.4 190.1h0M400.1 193.5h0M378.7 160.0h0M396.2 115.2h0M356.7 158.0h0M414.6 227.6h0M398.3 172.0h0M407.2 178.5h0M358.7 142.4h0M477.4 231.8h0M381.9 166.8h0M408.4 202.7h0M433.6 161.0h0M453.5 216.4h0M490.5 228.4h0M398.2 174.6h0M417.1 162.9h0M442.3 205.4h0M466.9 220.8h0M347.5 188.5h0M346.4 97.3h0M394.1 179.9h0M442.3 204.6h0M393.9 159.5h0M336.1 140.6h0M393.6 159.9h0M424.5 197.7h0M508.4 236.9h0M366.6 169.6h0M454.2 228.5h0M463.2 214.6h0M426.2 208.3h0M415.3 196.2h0M484.6 223.3h0M483.0 222.5h0M367.0 154.8h0M461.2 214.2h0M410.5 182.9h0M352.9 134.2h0M356.2 168.9h0M394.7 185.3h0M406.4 202.2h0M380.9 123.1h0M419.9 188.6h0M448.5 210.6h0M417.9 178.8h0M396.0 218.6h0M382.5 178.1h0M430.1 181.0h0M437.8 179.8h0M360.2 104.5h0M361.3 139.6h0M403.5 184.9h0M446.8 196.3h0M373.2 147.9h0M444.2 204.8h0M467.0 215.3h0M412.8 213.7h0M424.0 210.2h0M373.3 221.2h0M396.9 175.1h0M459.0 198.9h0M337.8 157.4h0M392.3 156.1h0M447.8 223.7h0M436.6 229.1h0M381.7 133.9h0M375.5 180.9h0M338.0 130.5h0M366.7 188.4h0M374.3 181.8h0M430.5 185.9h0M377.4 187.9h0M432.0 205.7h0M324.3 132.5h0M369.3 220.3h0M388.6 168.1h0M366.1 146.2h0M466.7 210.6h0M485.7 232.7h0M390.2 139.5h0M401.6 175.2h0M389.7 205.5h0M381.9 106.9h0M500.1 231.4h0M399.3 123.0h0M471.9 227.3h0M389.1 181.9h0M354.4 96.2h0M386.4 161.4h0M350.2 166.6h0M467.2 222.5h0M414.6 187.9h0M392.2 143.7h0M363.4 121.9h0M443.3 228.3h0M440.5 179.9h0M490.4 221.2h0M359.4 181.4h0M376.8 212.1h0M386.7 106.0h0M353.7 175.4h0M489.1 232.9h0M386.7 154.7h0M371.6 159.8h0M374.4 164.1h0M430.3 174.9h0M359.5 126.9h0M378.7 161.3h0M380.8 110.8h0M410.2 181.5h0M410.1 182.1h0M382.9 162.1h0M340.8 132.4h0M415.9 186.4h0M358.2 152.5h0M455.2 213.7h0M387.5 195.0h0M421.8 176.4h0M413.8 193.7h0M441.4 202.2h0M333.5 140.6h0M387.9 154.5h0M378.3 161.5h0M418.0 189.8h0M479.5 217.0h0M374.5 121.5h0M370.1 168.0h0M369.7 152.4h0M374.2 140.2h0M395.2 174.1h0M382.5 196.2h0M376.1 185.6h0M366.1 166.3h0M384.2 183.0h0M358.1 138.3h0M405.6 160.3h0M379.3 163.1h0M428.4 205.4h0M370.4 184.4h0M369.3 136.7h0M459.5 213.4h0M503.7 236.9h0M424.9 180.2h0M339.3 145.3h0M368.6 104.9h0M509.4 235.0h0M376.4 121.2h0M386.0 170.3h0M382.4 160.1h0M375.7 130.4h0" stroke="#f00000" stroke-width="1.45"/>
<path d="M332.7 155.0h0M285.5 148.8h0M295.8 116.7h0M299.4 155.3h0M320.4 140.9h0M316.4 141.6h0M285.2 139.1h0M290.8 131.2h0M301.6 129.2h0M306.6 146.0h0M294.4 129.8h0M285.8 43.0h0M287.6 121.9h0M288.1 139.8h0M289.9 160.1h0M303.5 107.1h0M297.6 158.3h0M286.6 141.7h0M291.4 111.7h0M308.9 154.2h0M286.2 147.7h0M312.2 141.4h0M302.3 137.9h0M306.4 144.6h0M312.4 106.8h0M318.8 116.7h0M285.7 133.4h0M293.1 154.4h0M292.6 138.8h0M291.3 161.0h0M284.8 130.5h0M310.9 113.1h0M299.0 151.7h0M300.2 140.7h0M311.8 129.3h0M310.2 140.3h0M319.1 116.0h0M287.3 134.6h0M300.0 132.3h0M287.4 75.4h0M284.2 92.4h0M305.4 112.4h0M316.4 120.7h0M287.8 81.7h0M307.9 142.1h0M312.0 132.4h0M322.4 137.3h0M288.2 144.3h0M307.8 159.2h0M300.3 138.7h0M290.1 128.3h0M290.5 71.5h0M296.9 137.5h0M298.7 141.9h0M288.6 137.4h0M310.5 125.3h0M289.8 70.7h0M325.1 148.2h0M320.2 123.2h0M314.6 123.0h0M286.0 135.5h0M319.9 153.4h0M296.5 151.6h0M312.2 115.4h0M318.2 112.4h0M299.0 126.5h0M293.6 116.1h0M323.2 137.5h0M298.1 150.8h0M304.5 119.1h0M299.5 158.6h0M292.4 61.6h0M329.7 156.9h0M309.5 132.9h0M294.1 144.4h0M292.9 78.9h0M322.6 127.6h0M296.4 146.0h0M295.4 75.5h0M313.7 107.1h0M298.9 154.1h0M299.4 131.2h0M318.6 113.3h0M293.6 107.1h0M300.7 145.1h0M293.9 145.6h0M289.6 124.0h0M292.4 118.9h0M290.0 145.5h0M316.7 130.2h0M307.8 151.5h0M323.0 149.1h0M303.1 131.0h0M294.9 108.9h0M291.5 99.6h0M293.5 101.3h0M302.4 143.9h0M286.6 158.2h0M310.5 137.9h0M310.3 149.9h0M286.8 152.7h0M292.3 39.5h0M304.3 157.5h0M309.9 152.4h0M322.9 148.8h0M309.2 119.4h0M299.0 112.1h0M287.4 113.4h0M308.9 122.9h0M290.7 141.6h0M332.5 141.7h0M287.8 151.1h0M311.8 143.3h0M292.9 87.2h0M290.4 137.5h0M290.9 121.8h0M297.7 63.1h0M300.5 116.5h0" stroke="#000078" stroke-width="2.2"/>
<path d="M332.7 155.0h0M285.5 148.8h0M295.8 116.7h0M299.4 155.3h0M320.4 140.9h0M316.4 141.6h0M285.2 139.1h0M290.8 131.2h0M301.6 129.2h0M306.6 146.0h0M294.4 129.8h0M285.8 43.0h0M287.6 121.9h0M288.1 139.8h0M289.9 160.1h0M303.5 107.1h0M297.6 158.3h0M286.6 141.7h0M291.4 111.7h0M308.9 154.2h0M286.2 147.7h0M312.2 141.4h0M302.3 137.9h0M306.4 144.6h0M312.4 106.8h0M318.8 116.7h0M285.7 133.4h0M293.1 154.4h0M292.6 138.8h0M291.3 161.0h0M284.8 130.5h0M310.9 113.1h0M299.0 151.7h0M300.2 140.7h0M311.8 129.3h0M310.2 140.3h0M319.1 116.0h0M287.3 134.6h0M300.0 132.3h0M287.4 75.4h0M284.2 92.4h0M305.4 112.4h0M316.4 120.7h0M287.8 81.7h0M307.9 142.1h0M312.0 132.4h0M322.4 137.3h0M288.2 144.3h0M307.8 159.2h0M300.3 138.7h0M290.1 128.3h0M290.5 71.5h0M296.9 137.5h0M298.7 141.9h0M288.6 137.4h0M310.5 125.3h0M289.8 70.7h0M325.1 148.2h0M320.2 123.2h0M314.6 123.0h0M286.0 135.5h0M319.9 153.4h0M296.5 151.6h0M312.2 115.4h0M318.2 112.4h0M299.0 126.5h0M293.6 116.1h0M323.2 137.5h0M298.1 150.8h0M304.5 119.1h0M299.5 158.6h0M292.4 61.6h0M329.7 156.9h0M309.5 132.9h0M294.1 144.4h0M292.9 78.9h0M322.6 127.6h0M296.4 146.0h0M295.4 75.5h0M313.7 107.1h0M298.9 154.1h0M299.4 131.2h0M318.6 113.3h0M293.6 107.1h0M300.7 145.1h0M293.9 145.6h0M289.6 124.0h0M292.4 118.9h0M290.0 145.5h0M316.7 130.2h0M307.8 151.5h0M323.0 149.1h0M303.1 131.0h0M294.9 108.9h0M291.5 99.6h0M293.5 101.3h0M302.4 143.9h0M286.6 158.2h0M310.5 137.9h0M310.3 149.9h0M286.8 152.7h0M292.3 39.5h0M304.3 157.5h0M309.9 152.4h0M322.9 148.8h0M309.2 119.4h0M299.0 112.1h0M287.4 113.4h0M308.9 122.9h0M290.7 141.6h0M332.5 141.7h0M287.8 151.1h0M311.8 143.3h0M292.9 87.2h0M290.4 137.5h0M290.9 121.8h0M297.7 63.1h0M300.5 116.5h0" stroke="#0000f0" stroke-width="1.45"/>
<path d="M325.3 93.5h0M312.7 119.0h0M326.5 90.4h0M355.6 137.8h0M331.0 133.2h0M355.5 129.4h0M292.0 115.6h0M312.8 118.7h0M320.1 102.5h0M314.5 126.4h0M318.6 91.8h0M311.1 51.4h0M305.9 177.1h0M318.6 88.7h0M343.8 106.6h0M289.9 71.7h0M319.9 82.5h0M306.6 94.1h0M291.5 133.3h0M312.5 90.9h0M298.8 81.1h0M336.6 120.8h0M347.1 140.0h0M289.0 119.5h0M300.9 97.6h0M333.2 79.4h0M343.4 137.0h0M324.8 134.2h0M322.2 94.5h0M294.1 115.4h0M329.6 130.6h0M308.7 75.7h0M347.1 146.4h0M336.6 156.2h0M303.2 94.0h0M348.7 162.0h0M310.1 77.2h0M328.8 157.8h0M293.5 81.9h0M329.2 138.8h0M329.1 164.3h0M304.7 104.4h0M308.2 68.1h0M286.3 89.9h0M333.4 133.7h0M298.0 66.7h0M335.8 141.1h0M331.2 112.9h0M291.8 113.2h0M316.4 45.8h0M331.9 123.1h0M306.5 47.4h0M296.7 86.8h0M298.2 72.7h0M351.1 153.9h0M349.4 117.9h0M313.4 103.8h0M303.9 53.8h0M285.1 60.5h0M298.8 49.3h0M335.1 101.7h0M304.5 68.8h0M352.7 161.6h0M344.8 137.3h0M358.1 161.0h0M366.2 181.3h0M312.1 99.7h0M336.2 159.2h0M349.2 126.5h0M284.8 66.5h0M354.9 182.1h0M324.2 135.1h0M317.3 108.1h0M330.9 139.8h0M295.8 67.1h0M341.7 159.6h0M298.5 95.0h0M287.4 68.6h0M302.0 57.5h0M314.7 98.0h0M327.2 104.6h0M304.2 147.7h0M286.6 73.4h0M299.4 75.5h0M344.5 128.3h0M350.5 131.2h0M357.3 146.2h0M295.3 98.2h0M299.0 78.6h0M331.2 137.2h0M328.8 84.0h0M314.7 121.9h0M344.6 149.1h0M327.6 149.4h0M331.3 179.1h0M335.6 112.5h0M319.8 104.7h0M316.2 105.0h0M312.2 101.6h0M322.2 61.1h0M344.7 174.6h0M327.0 153.3h0M315.5 85.4h0M319.7 121.5h0M325.2 75.4h0M333.6 96.5h0M338.9 119.2h0M342.9 139.5h0M338.7 156.0h0M284.2 64.5h0M315.6 119.9h0M309.8 86.6h0M320.1 81.0h0M296.9 43.8h0M333.3 136.7h0M312.7 91.4h0M321.0 68.8h0M351.3 122.2h0M318.1 116.2h0M302.9 65.4h0M342.0 123.0h0M288.0 88.6h0M335.2 155.6h0M288.7 85.6h0M310.5 76.1h0M324.1 147.9h0M308.0 64.8h0M310.2 97.1h0M308.7 82.0h0M300.3 77.7h0M321.2 94.7h0M333.6 163.0h0M339.2 127.9h0M308.6 70.9h0M321.2 86.9h0M333.5 159.2h0M324.8 74.2h0M329.9 126.0h0M333.5 141.7h0M294.3 100.9h0M285.3 73.1h0M344.9 117.8h0M343.5 161.8h0M334.6 117.0h0M304.5 92.6h0" stroke="#006400" stroke-width="2.2"/>
<path d="M325.3 93.5h0M312.7 119.0h0M326.5 90.4h0M355.6 137.8h0M331.0 133.2h0M355.5 129.4h0M292.0 115.6h0M312.8 118.7h0M320.1 102.5h0M314.5 126.4h0M318.6 91.8h0M311.1 51.4h0M305.9 177.1h0M318.6 88.7h0M343.8 106.6h0M289.9 71.7h0M319.9 82.5h0M306.6 94.1h0M291.5 133.3h0M312.5 90.9h0M298.8 81.1h0M336.6 120.8h0M347.1 140.0h0M289.0 119.5h0M300.9 97.6h0M333.2 79.4h0M343.4 137.0h0M324.8 134.2h0M322.2 94.5h0M294.1 115.4h0M329.6 130.6h0M308.7 75.7h0M347.1 146.4h0M336.6 156.2h0M303.2 94.0h0M348.7 162.0h0M310.1 77.2h0M328.8 157.8h0M293.5 81.9h0M329.2 138.8h0M329.1 164.3h0M304.7 104.4h0M308.2 68.1h0M286.3 89.9h0M333.4 133.7h0M298.0 66.7h0M335.8 141.1h0M331.2 112.9h0M291.8 113.2h0M316.4 45.8h0M331.9 123.1h0M306.5 47.4h0M296.7 86.8h0M298.2 72.7h0M351.1 153.9h0M349.4 117.9h0M313.4 103.8h0M303.9 53.8h0M285.1 60.5h0M298.8 49.3h0M335.1 101.7h0M304.5 68.8h0M352.7 161.6h0M344.8 137.3h0M358.1 161.0h0M366.2 181.3h0M312.1 99.7h0M336.2 159.2h0M349.2 126.5h0M284.8 66.5h0M354.9 182.1h0M324.2 135.1h0M317.3 108.1h0M330.9 139.8h0M295.8 67.1h0M341.7 159.6h0M298.5 95.0h0M287.4 68.6h0M302.0 57.5h0M314.7 98.0h0M327.2 104.6h0M304.2 147.7h0M286.6 73.4h0M299.4 75.5h0M344.5 128.3h0M350.5 131.2h0M357.3 146.2h0M295.3 98.2h0M299.0 78.6h0M331.2 137.2h0M328.8 84.0h0M314.7 121.9h0M344.6 149.1h0M327.6 149.4h0M331.3 179.1h0M335.6 112.5h0M319.8 104.7h0M316.2 105.0h0M312.2 101.6h0M322.2 61.1h0M344.7 174.6h0M327.0 153.3h0M315.5 85.4h0M319.7 121.5h0M325.2 75.4h0M333.6 96.5h0M338.9 119.2h0M342.9 139.5h0M338.7 156.0h0M284.2 64.5h0M315.6 119.9h0M309.8 86.6h0M320.1 81.0h0M296.9 43.8h0M333.3 136.7h0M312.7 91.4h0M321.0 68.8h0M351.3 122.2h0M318.1 116.2h0M302.9 65.4h0M342.0 123.0h0M288.0 88.6h0M335.2 155.6h0M288.7 85.6h0M310.5 76.1h0M324.1 147.9h0M308.0 64.8h0M310.2 97.1h0M308.7 82.0h0M300.3 77.7h0M321.2 94.7h0M333.6 163.0h0M339.2 127.9h0M308.6 70.9h0M321.2 86.9h0M333.5 159.2h0M324.8 74.2h0M329.9 126.0h0M333.5 141.7h0M294.3 100.9h0M285.3 73.1h0M344.9 117.8h0M343.5 161.8h0M334.6 117.0h0M304.5 92.6h0" stroke="#00dc00" stroke-width="1.45"/>
<path d="M465.6 219.9h0M418.0 157.5h0M414.2 193.2h0M402.9 216.7h0M365.5 174.3h0M486.2 234.6h0M406.1 167.9h0M432.9 222.5h0M425.1 209.3h0M469.4 210.9h0M364.2 136.4h0M469.7 214.1h0M401.5 198.1h0M419.8 227.8h0M354.0 148.3h0M350.6 137.3h0M384.9 175.3h0M368.4 198.5h0M382.6 171.8h0M340.9 144.4h0M364.7 128.1h0M368.4 185.6h0M481.3 230.1h0M329.5 129.5h0M360.1 210.5h0M441.6 202.2h0M413.8 185.0h0M438.4 197.5h0M482.6 233.7h0M354.0 146.1h0M396.1 191.3h0M365.7 173.9h0M342.0 143.4h0M380.1 207.9h0M414.2 223.5h0M432.8 199.1h0M349.6 147.1h0M443.9 193.7h0M454.8 192.4h0M424.1 163.3h0M479.7 207.4h0M419.7 163.4h0M406.3 196.3h0M401.8 167.9h0M485.8 221.1h0M349.3 113.4h0M371.9 172.7h0M415.1 180.7h0M438.6 175.2h0M400.7 158.9h0M431.4 182.2h0M390.5 191.0h0M400.5 177.0h0M412.3 194.3h0M377.7 165.5h0M370.4 159.5h0M437.6 213.1h0M449.7 206.9h0M358.7 139.5h0M423.0 212.7h0M394.4 191.7h0M393.7 175.2h0M416.1 176.0h0M412.1 198.7h0M364.7 178.6h0M415.2 185.5h0M400.4 151.4h0M401.4 192.9h0M358.9 169.1h0M509.5 237.0h0M426.6 193.4h0M396.9 163.9h0M383.9 201.9h0M409.6 220.5h0M429.2 169.6h0M360.4 151.8h0M384.6 119.4h0M414.7 180.2h0M435.1 183.7h0M378.3 155.1h0M401.3 181.2h0M375.9 222.6h0M371.6 168.7h0M361.0 118.0h0M388.1 162.0h0M368.5 193.7h0M465.2 221.0h0M392.6 183.0h0M366.0 137.6h0M413.5 197.4h0M394.0 164.6h0M374.9 177.3h0M493.2 228.0h0M473.1 218.0h0M387.6 157.9h0M367.9 182.0h0M384.2 149.9h0M351.4 155.2h0M445.1 191.4h0M504.0 231.0h0M377.2 171.5h0M391.4 185.4h0M386.6 175.9h0M465.8 217.0h0M504.6 237.5h0M457.7 216.1h0M369.7 142.7h0M350.0 181.0h0M460.5 219.5h0M368.0 125.0h0M374.0 165.8h0M359.0 192.8h0M508.9 237.4h0M483.3 234.0h0M440.5 191.7h0M439.7 207.6h0M403.0 202.5h0M421.3 223.1h0M362.6 178.9h0M377.0 203.1h0M364.0 194.3h0M477.6 223.7h0M367.6 148.3h0M441.1 186.1h0M348.0 141.6h0M436.3 205.4h0M487.1 226.6h0M340.9 153.4h0M386.9 205.5h0M440.7 218.0h0M380.8 167.1h0M460.6 211.5h0M435.2 190.8h0M365.9 145.1h0M428.8 201.2h0M460.5 205.4h0M370.4 180.9h0M376.8 147.9h0M390.2 171.2h0M404.2 155.8h0M386.3 220.1h0M414.5 189.6h0M338.6 106.5h0M492.2 226.5h0M356.2 165.5h0M372.1 161.1h0M413.7 141.6h0M384.2 168.1h0M484.2 221.8h0M494.4 232.5h0M472.9 205.8h0M384.9 163.8h0M478.9 228.6h0M362.4 163.5h0M427.0 202.5h0M395.0 181.0h0M468.9 224.8h0M404.4 184.3h0M361.1 156.9h0M483.9 221.2h0M359.3 151.9h0M460.9 218.0h0M416.4 193.4h0M382.0 168.2h0M372.0 213.9h0M377.1 167.9h0M453.4 205.3h0M419.9 206.4h0M398.3 205.0h0M480.7 222.0h0M475.0 218.7h0M403.6 201.5h0M422.1 206.6h0M411.6 182.4h0M416.4 181.3h0M374.6 145.5h0M373.4 171.6h0M444.4 218.4h0M379.1 141.3h0M476.7 223.2h0M448.8 225.0h0M362.1 139.9h0M467.2 228.6h0M350.2 155.2h0M348.3 189.8h0M484.4 224.8h0M464.2 233.5h0M475.2 215.8h0M509.3 236.7h0M380.0 168.9h0M402.7 216.3h0M402.5 226.5h0M406.2 165.8h0M391.8 146.8h0M415.9 192.5h0M409.1 205.3h0M383.8 137.4h0M350.0 176.4h0M404.5 196.8h0M359.7 190.3h0" stroke="#800000" stroke-width="2.2"/>
<path d="M465.6 219.9h0M418.0 157.5h0M414.2 193.2h0M402.9 216.7h0M365.5 174.3h0M486.2 234.6h0M406.1 167.9h0M432.9 222.5h0M425.1 209.3h0M469.4 210.9h0M364.2 136.4h0M469.7 214.1h0M401.5 198.1h0M419.8 227.8h0M354.0 148.3h0M350.6 137.3h0M384.9 175.3h0M368.4 198.5h0M382.6 171.8h0M340.9 144.4h0M364.7 128.1h0M368.4 185.6h0M481.3 230.1h0M329.5 129.5h0M360.1 210.5h0M441.6 202.2h0M413.8 185.0h0M438.4 197.5h0M482.6 233.7h0M354.0 146.1h0M396.1 191.3h0M365.7 173.9h0M342.0 143.4h0M380.1 207.9h0M414.2 223.5h0M432.8 199.1h0M349.6 147.1h0M443.9 193.7h0M454.8 192.4h0M424.1 163.3h0M479.7 207.4h0M419.7 163.4h0M406.3 196.3h0M401.8 167.9h0M485.8 221.1h0M349.3 113.4h0M371.9 172.7h0M415.1 180.7h0M438.6 175.2h0M400.7 158.9h0M431.4 182.2h0M390.5 191.0h0M400.5 177.0h0M412.3 194.3h0M377.7 165.5h0M370.4 159.5h0M437.6 213.1h0M449.7 206.9h0M358.7 139.5h0M423.0 212.7h0M394.4 191.7h0M393.7 175.2h0M416.1 176.0h0M412.1 198.7h0M364.7 178.6h0M415.2 185.5h0M400.4 151.4h0M401.4 192.9h0M358.9 169.1h0M509.5 237.0h0M426.6 193.4h0M396.9 163.9h0M383.9 201.9h0M409.6 220.5h0M429.2 169.6h0M360.4 151.8h0M384.6 119.4h0M414.7 180.2h0M435.1 183.7h0M378.3 155.1h0M401.3 181.2h0M375.9 222.6h0M371.6 168.7h0M361.0 118.0h0M388.1 162.0h0M368.5 193.7h0M465.2 221.0h0M392.6 183.0h0M366.0 137.6h0M413.5 197.4h0M394.0 164.6h0M374.9 177.3h0M493.2 228.0h0M473.1 218.0h0M387.6 157.9h0M367.9 182.0h0M384.2 149.9h0M351.4 155.2h0M445.1 191.4h0M504.0 231.0h0M377.2 171.5h0M391.4 185.4h0M386.6 175.9h0M465.8 217.0h0M504.6 237.5h0M457.7 216.1h0M369.7 142.7h0M350.0 181.0h0M460.5 219.5h0M368.0 125.0h0M374.0 165.8h0M359.0 192.8h0M508.9 237.4h0M483.3 234.0h0M440.5 191.7h0M439.7 207.6h0M403.0 202.5h0M421.3 223.1h0M362.6 178.9h0M377.0 203.1h0M364.0 194.3h0M477.6 223.7h0M367.6 148.3h0M441.1 186.1h0M348.0 141.6h0M436.3 205.4h0M487.1 226.6h0M340.9 153.4h0M386.9 205.5h0M440.7 218.0h0M380.8 167.1h0M460.6 211.5h0M435.2 190.8h0M365.9 145.1h0M428.8 201.2h0M460.5 205.4h0M370.4 180.9h0M376.8 147.9h0M390.2 171.2h0M404.2 155.8h0M386.3 220.1h0M414.5 189.6h0M338.6 106.5h0M492.2 226.5h0M356.2 165.5h0M372.1 161.1h0M413.7 141.6h0M384.2 168.1h0M484.2 221.8h0M494.4 232.5h0M472.9 205.8h0M384.9 163.8h0M478.9 228.6h0M362.4 163.5h0M427.0 202.5h0M395.0 181.0h0M468.9 224.8h0M404.4 184.3h0M361.1 156.9h0M483.9 221.2h0M359.3 151.9h0M460.9 218.0h0M416.4 193.4h0M382.0 168.2h0M372.0 213.9h0M377.1 167.9h0M453.4 205.3h0M419.9 206.4h0M398.3 205.0h0M480.7 222.0h0M475.0 218.7h0M403.6 201.5h0M422.1 206.6h0M411.6 182.4h0M416.4 181.3h0M374.6 145.5h0M373.4 171.6h0M444.4 218.4h0M379.1 141.3h0M476.7 223.2h0M448.8 225.0h0M362.1 139.9h0M467.2 228.6h0M350.2 155.2h0M348.3 189.8h0M484.4 224.8h0M464.2 233.5h0M475.2 215.8h0M509.3 236.7h0M380.0 168.9h0M402.7 216.3h0M402.5 226.5h0M406.2 165.8h0M391.8 146.8h0M415.9 192.5h0M409.1 205.3h0M383.8 137.4h0M350.0 176.4h0M404.5 196.8h0M359.7 190.3h0" stroke="#f00000" stroke-width="1.45"/>
<path d="M314.8 118.6h0M320.0 155.5h0M316.0 165.4h0M320.5 155.1h0M295.3 169.3h0M292.3 132.5h0M291.4 122.2h0M303.9 147.8h0M286.1 62.4h0M313.4 151.1h0M312.0 165.1h0M286.2 152.3h0M315.0 129.2h0M297.7 140.6h0M312.8 138.7h0M288.9 123.8h0M289.5 64.8h0M289.8 136.4h0M293.3 136.3h0M323.0 124.4h0M311.2 137.5h0M322.1 108.0h0M288.1 137.4h0M294.1 124.7h0M305.1 128.9h0M289.9 111.7h0M286.0 112.6h0M303.4 127.6h0M285.3 155.4h0M288.6 155.0h0M294.2 30.0h0M314.1 131.6h0M304.5 147.7h0M295.9 78.5h0M306.4 190.7h0M308.4 109.9h0M290.1 144.7h0M314.8 124.3h0M311.8 154.3h0M286.8 106.7h0M290.7 90.6h0M300.2 126.3h0M305.1 155.6h0M300.4 117.9h0M292.8 151.5h0M287.4 73.6h0M284.8 44.0h0M303.6 162.5h0M299.9 146.4h0M286.4 160.5h0M287.3 42.2h0M319.0 146.0h0M287.2 141.0h0M334.3 119.4h0M311.7 138.3h0M320.0 151.2h0M300.0 141.4h0M288.7 142.2h0M288.9 126.6h0M297.2 112.8h0M294.8 136.2h0M306.9 140.3h0M298.8 110.2h0M297.4 161.5h0M288.2 136.4h0M290.3 155.1h0M303.1 118.8h0M318.7 117.1h0M297.9 142.4h0M287.6 126.9h0M331.8 129.0h0M294.8 143.7h0M316.7 128.1h0M289.8 141.8h0M286.6 134.5h0M328.3 119.5h0M291.4 160.2h0M292.4 148.3h0M299.6 149.7h0M286.7 143.5h0M322.7 133.4h0M306.6 116.8h0M319.1 128.1h0M319.9 149.9h0M313.1 104.6h0M317.4 140.4h0M306.4 117.6h0M312.6 159.8h0M291.3 54.0h0M301.3 129.8h0M317.4 145.3h0M285.5 154.7h0M308.6 142.0h0M300.3 82.2h0M318.3 138.0h0M286.1 112.0h0M297.7 149.6h0M292.8 142.0h0M293.6 83.7h0M324.8 126.5h0M304.7 128.6h0M305.2 142.6h0M309.7 144.2h0M294.0 39.8h0M298.5 153.8h0M313.6 138.6h0M295.4 101.4h0M298.9 139.1h0M296.8 119.7h0M299.8 135.8h0M322.6 120.8h0M305.4 121.6h0M291.3 80.8h0M297.6 112.1h0M303.8 151.5h0M302.5 150.6h0M291.2 158.1h0" stroke="#000078" stroke-width="2.2"/>
<path d="M314.8 118.6h0M320.0 155.5h0M316.0 165.4h0M320.5 155.1h0M295.3 169.3h0M292.3 132.5h0M291.4 122.2h0M303.9 147.8h0M286.1 62.4h0M313.4 151.1h0M312.0 165.1h0M286.2 152.3h0M315.0 129.2h0M297.7 140.6h0M312.8 138.7h0M288.9 123.8h0M289.5 64.8h0M289.8 136.4h0M293.3 136.3h0M323.0 124.4h0M311.2 137.5h0M322.1 108.0h0M288.1 137.4h0M294.1 124.7h0M305.1 128.9h0M289.9 111.7h0M286.0 112.6h0M303.4 127.6h0M285.3 155.4h0M288.6 155.0h0M294.2 30.0h0M314.1 131.6h0M304.5 147.7h0M295.9 78.5h0M306.4 190.7h0M308.4 109.9h0M290.1 144.7h0M314.8 124.3h0M311.8 154.3h0M286.8 106.7h0M290.7 90.6h0M300.2 126.3h0M305.1 155.6h0M300.4 117.9h0M292.8 151.5h0M287.4 73.6h0M284.8 44.0h0M303.6 162.5h0M299.9 146.4h0M286.4 160.5h0M287.3 42.2h0M319.0 146.0h0M287.2 141.0h0M334.3 119.4h0M311.7 138.3h0M320.0 151.2h0M300.0 141.4h0M288.7 142.2h0M288.9 126.6h0M297.2 112.8h0M294.8 136.2h0M306.9 140.3h0M298.8 110.2h0M297.4 161.5h0M288.2 136.4h0M290.3 155.1h0M303.1 118.8h0M318.7 117.1h0M297.9 142.4h0M287.6 126.9h0M331.8 129.0h0M294.8 143.7h0M316.7 128.1h0M289.8 141.8h0M286.6 134.5h0M328.3 119.5h0M291.4 160.2h0M292.4 148.3h0M299.6 149.7h0M286.7 143.5h0M322.7 133.4h0M306.6 116.8h0M319.1 128.1h0M319.9 149.9h0M313.1 104.6h0M317.4 140.4h0M306.4 117.6h0M312.6 159.8h0M291.3 54.0h0M301.3 129.8h0M317.4 145.3h0M285.5 154.7h0M308.6 142.0h0M300.3 82.2h0M318.3 138.0h0M286.1 112.0h0M297.7 149.6h0M292.8 142.0h0M293.6 83.7h0M324.8 126.5h0M304.7 128.6h0M305.2 142.6h0M309.7 144.2h0M294.0 39.8h0M298.5 153.8h0M313.6 138.6h0M295.4 101.4h0M298.9 139.1h0M296.8 119.7h0M299.8 135.8h0M322.6 120.8h0M305.4 121.6h0M291.3 80.8h0M297.6 112.1h0M303.8 151.5h0M302.5 150.6h0M291.2 158.1h0" stroke="#0000f0" stroke-width="1.45"/>
<path d="M293.1 91.7h0M303.1 92.0h0M347.0 128.0h0M284.5 59.4h0M309.4 94.3h0M307.0 73.1h0M352.6 180.9h0M334.5 156.6h0M292.5 40.6h0M297.9 81.1h0M293.2 135.4h0M298.6 50.4h0M297.0 64.2h0M335.5 172.7h0M321.1 105.5h0M339.4 113.8h0M339.2 108.8h0M324.6 112.6h0M304.1 99.8h0M357.5 155.8h0M288.6 101.7h0M294.1 100.6h0M332.8 148.6h0M289.9 72.7h0M312.7 114.4h0M356.3 149.2h0M327.0 96.7h0M296.3 39.4h0M296.3 88.5h0M299.5 92.9h0M305.6 106.1h0M300.5 87.4h0M332.9 124.6h0M318.3 112.1h0M319.1 100.5h0M341.1 148.5h0M285.4 94.6h0M300.6 108.2h0M352.5 142.6h0M289.1 96.5h0M311.2 143.1h0M288.7 79.2h0M311.3 68.7h0M328.4 149.6h0M304.1 121.3h0M307.8 86.8h0M329.5 119.5h0M315.1 97.6h0M329.5 175.8h0M290.8 92.6h0M349.8 144.6h0M332.3 121.5h0M310.5 86.2h0M323.4 127.9h0M296.8 130.9h0M320.0 94.2h0M317.6 83.1h0M311.9 98.8h0M317.3 95.3h0M338.7 117.9h0M293.6 48.8h0M332.7 137.7h0M335.2 118.4h0M309.5 72.5h0M328.5 96.8h0M287.4 102.3h0M323.4 121.9h0M306.1 103.4h0M294.4 96.0h0M293.8 60.5h0M294.9 158.7h0M355.4 136.6h0M341.4 123.6h0M324.2 86.2h0M332.3 93.7h0M320.8 129.1h0M355.4 178.1h0M291.6 123.9h0M347.4 135.2h0M340.4 119.5h0M331.3 155.9h0M338.2 114.6h0M300.2 121.6h0M328.9 128.5h0M291.7 135.9h0M290.0 129.8h0M332.5 122.7h0M299.6 82.7h0M311.6 104.9h0M341.1 121.7h0M302.9 75.0h0M346.9 158.0h0M359.5 160.6h0M332.7 129.4h0M319.8 127.3h0M337.7 139.3h0M307.0 140.0h0M313.9 77.1h0M323.9 144.8h0M305.9 63.0h0M315.0 70.6h0M302.0 94.1h0M319.2 133.3h0M300.8 126.5h0M320.4 111.9h0M297.3 106.1h0M304.2 134.5h0M327.8 110.1h0M322.7 119.8h0M354.2 147.6h0M292.5 91.3h0M334.7 136.3h0M300.6 84.7h0M326.7 136.4h0M322.2 95.8h0M297.4 74.6h0M302.7 40.7h0M337.4 134.8h0M326.9 98.7h0M300.8 71.7h0M300.0 96.3h0M335.5 151.3h0M349.1 156.1h0M329.2 139.4h0M310.2 86.6h0M308.8 107.5h0M288.9 99.8h0M298.9 51.5h0M328.4 150.3h0M323.9 62.7h0M345.5 164.3h0M295.8 91.2h0M334.9 123.8h0M334.0 110.2h0M340.4 141.9h0M287.0 85.7h0M320.3 86.7h0M357.9 155.6h0M339.1 111.1h0M309.6 79.3h0M308.0 99.4h0M323.4 94.2h0M338.4 141.9h0M339.1 142.8h0M314.7 92.8h0" stroke="#006400" stroke-width="2.2"/>
<path d="M293.1 91.7h0M303.1 92.0h0M347.0 128.0h0M284.5 59.4h0M309.4 94.3h0M307.0 73.1h0M352.6 180.9h0M334.5 156.6h0M292.5 40.6h0M297.9 81.1h0M293.2 135.4h0M298.6 50.4h0M297.0 64.2h0M335.5 172.7h0M321.1 105.5h0M339.4 113.8h0M339.2 108.8h0M324.6 112.6h0M304.1 99.8h0M357.5 155.8h0M288.6 101.7h0M294.1 100.6h0M332.8 148.6h0M289.9 72.7h0M312.7 114.4h0M356.3 149.2h0M327.0 96.7h0M296.3 39.4h0M296.3 88.5h0M299.5 92.9h0M305.6 106.1h0M300.5 87.4h0M332.9 124.6h0M318.3 112.1h0M319.1 100.5h0M341.1 148.5h0M285.4 94.6h0M300.6 108.2h0M352.5 142.6h0M289.1 96.5h0M311.2 143.1h0M288.7 79.2h0M311.3 68.7h0M328.4 149.6h0M304.1 121.3h0M307.8 86.8h0M329.5 119.5h0M315.1 97.6h0M329.5 175.8h0M290.8 92.6h0M349.8 144.6h0M332.3 121.5h0M310.5 86.2h0M323.4 127.9h0M296.8 130.9h0M320.0 94.2h0M317.6 83.1h0M311.9 98.8h0M317.3 95.3h0M338.7 117.9h0M293.6 48.8h0M332.7 137.7h0M335.2 118.4h0M309.5 72.5h0M328.5 96.8h0M287.4 102.3h0M323.4 121.9h0M306.1 103.4h0M294.4 96.0h0M293.8 60.5h0M294.9 158.7h0M355.4 136.6h0M341.4 123.6h0M324.2 86.2h0M332.3 93.7h0M320.8 129.1h0M355.4 178.1h0M291.6 123.9h0M347.4 135.2h0M340.4 119.5h0M331.3 155.9h0M338.2 114.6h0M300.2 121.6h0M328.9 128.5h0M291.7 135.9h0M290.0 129.8h0M332.5 122.7h0M299.6 82.7h0M311.6 104.9h0M341.1 121.7h0M302.9 75.0h0M346.9 158.0h0M359.5 160.6h0M332.7 129.4h0M319.8 127.3h0M337.7 139.3h0M307.0 140.0h0M313.9 77.1h0M323.9 144.8h0M305.9 63.0h0M315.0 70.6h0M302.0 94.1h0M319.2 133.3h0M300.8 126.5h0M320.4 111.9h0M297.3 106.1h0M304.2 134.5h0M327.8 110.1h0M322.7 119.8h0M354.2 147.6h0M292.5 91.3h0M334.7 136.3h0M300.6 84.7h0M326.7 136.4h0M322.2 95.8h0M297.4 74.6h0M302.7 40.7h0M337.4 134.8h0M326.9 98.7h0M300.8 71.7h0M300.0 96.3h0M335.5 151.3h0M349.1 156.1h0M329.2 139.4h0M310.2 86.6h0M308.8 107.5h0M288.9 99.8h0M298.9 51.5h0M328.4 150.3h0M323.9 62.7h0M345.5 164.3h0M295.8 91.2h0M334.9 123.8h0M334.0 110.2h0M340.4 141.9h0M287.0 85.7h0M320.3 86.7h0M357.9 155.6h0M339.1 111.1h0M309.6 79.3h0M308.0 99.4h0M323.4 94.2h0M338.4 141.9h0M339.1 142.8h0M314.7 92.8h0" stroke="#00dc00" stroke-width="1.45"/>
<path d="M475.9 226.8h0M369.9 136.3h0M480.5 227.5h0M407.5 171.9h0M429.5 171.4h0M415.5 164.5h0M362.4 188.6h0M416.9 211.4h0M380.8 160.8h0M416.2 157.9h0M394.1 162.9h0M365.0 139.1h0M451.8 214.2h0M480.8 221.6h0M352.4 161.0h0M378.5 186.6h0M365.3 148.0h0M410.3 198.9h0M402.8 201.1h0M359.5 189.5h0M396.4 180.2h0M398.1 204.5h0M445.6 217.7h0M479.8 218.9h0M375.1 128.9h0M391.1 153.7h0M362.3 173.2h0M407.0 195.3h0M388.1 197.3h0M393.9 181.3h0M361.8 156.7h0M407.9 181.8h0M411.3 199.9h0M414.7 174.1h0M436.6 181.4h0M422.9 183.1h0M389.6 175.6h0M403.1 177.5h0M458.4 201.7h0M455.2 203.1h0M366.0 154.2h0M353.9 154.5h0M327.3 147.5h0M433.5 195.6h0M351.8 207.6h0M489.2 227.5h0M359.7 151.0h0M419.4 189.4h0M392.8 192.8h0M448.4 192.8h0M380.1 145.5h0M448.7 194.9h0M429.8 201.7h0M348.9 181.8h0M404.5 174.9h0M373.5 170.2h0M461.8 217.1h0M407.8 187.7h0M387.6 170.0h0M415.8 175.9h0M359.8 186.3h0M327.9 125.0h0M362.6 137.3h0M430.8 196.3h0M366.9 210.1h0M470.7 229.3h0M351.3 180.1h0M380.3 188.7h0M400.2 167.3h0M360.1 106.4h0M475.4 219.1h0M503.5 236.5h0M356.7 195.5h0M352.8 149.1h0M377.8 154.4h0M341.1 133.4h0M360.9 170.9h0M509.5 238.3h0M456.0 209.0h0M410.5 205.0h0M420.6 197.0h0M361.3 127.4h0M358.1 137.8h0M484.5 227.6h0M437.1 200.4h0M389.3 185.9h0M380.8 185.2h0M360.5 97.8h0M405.6 202.4h0M360.1 156.7h0M469.8 207.6h0M404.7 169.3h0M369.1 148.3h0M360.8 149.9h0M368.5 150.3h0M404.8 177.2h0M359.0 158.7h0M342.1 144.5h0M360.7 165.9h0M390.5 165.7h0M367.9 167.7h0M337.4 189.0h0M401.1 194.4h0M382.4 220.9h0M363.7 144.5h0M407.0 187.0h0M348.4 107.8h0M361.6 175.9h0M392.5 154.2h0M356.3 146.2h0M479.2 217.5h0M358.3 113.8h0M386.8 180.8h0M419.3 215.0h0M374.9 108.4h0M348.8 155.6h0M380.8 213.0h0M408.7 217.6h0M463.6 213.1h0M377.2 199.8h0M417.2 184.7h0M409.6 191.4h0M384.5 168.6h0M440.8 205.3h0M388.1 150.0h0M408.2 187.9h0M440.4 206.3h0M365.9 214.9h0M373.2 162.5h0M452.6 210.6h0M355.4 165.7h0M456.2 210.9h0M421.8 208.3h0M487.9 226.4h0M359.6 165.9h0M403.4 166.9h0M413.6 174.0h0M375.6 206.2h0M361.6 195.8h0M381.1 150.7h0M353.5 210.7h0M350.7 146.5h0M417.1 190.7h0M341.5 177.6h0M424.7 210.4h0M359.6 153.2h0M367.3 186.6h0M401.9 163.8h0M435.5 199.9h0M442.9 204.7h0M403.0 179.5h0M349.6 145.1h0M438.4 213.6h0M381.6 163.7h0M401.0 185.5h0M399.7 154.8h0M398.2 187.4h0M385.2 199.7h0M401.8 185.7h0M406.2 212.2h0M348.8 170.9h0M387.9 151.4h0M418.5 196.0h0M420.1 209.0h0M361.2 158.9h0M434.5 204.6h0M448.1 220.6h0M359.6 116.4h0M481.1 226.8h0M407.1 175.8h0M361.1 151.3h0M367.5 171.8h0M360.8 180.3h0M434.8 201.5h0M435.2 208.8h0M477.3 228.2h0M413.1 140.2h0M398.1 200.7h0M349.0 136.4h0M330.8 167.9h0M451.8 215.3h0M390.9 192.1h0M416.2 198.1h0M388.5 196.4h0M478.6 223.1h0M469.9 224.9h0M385.6 171.3h0M494.5 222.9h0M504.2 236.4h0M380.6 179.4h0M469.3 223.7h0M353.7 151.8h0M434.8 190.6h0M438.5 198.1h0M422.5 198.6h0M372.5 173.9h0M440.0 206.9h0M399.4 127.1h0M411.3 210.8h0M359.1 166.2h0" stroke="#800000" stroke-width="2.2"/>
<path d="M475.9 226.8h0M369.9 136.3h0M480.5 227.5h0M407.5 171.9h0M429.5 171.4h0M415.5 164.5h0M362.4 188.6h0M416.9 211.4h0M380.8 160.8h0M416.2 157.9h0M394.1 162.9h0M365.0 139.1h0M451.8 214.2h0M480.8 221.6h0M352.4 161.0h0M378.5 186.6h0M365.3 148.0h0M410.3 198.9h0M402.8 201.1h0M359.5 189.5h0M396.4 180.2h0M398.1 204.5h0M445.6 217.7h0M479.8 218.9h0M375.1 128.9h0M391.1 153.7h0M362.3 173.2h0M407.0 195.3h0M388.1 197.3h0M393.9 181.3h0M361.8 156.7h0M407.9 181.8h0M411.3 199.9h0M414.7 174.1h0M436.6 181.4h0M422.9 183.1h0M389.6 175.6h0M403.1 177.5h0M458.4 201.7h0M455.2 203.1h0M366.0 154.2h0M353.9 154.5h0M327.3 147.5h0M433.5 195.6h0M351.8 207.6h0M489.2 227.5h0M359.7 151.0h0M419.4 189.4h0M392.8 192.8h0M448.4 192.8h0M380.1 145.5h0M448.7 194.9h0M429.8 201.7h0M348.9 181.8h0M404.5 174.9h0M373.5 170.2h0M461.8 217.1h0M407.8 187.7h0M387.6 170.0h0M415.8 175.9h0M359.8 186.3h0M327.9 125.0h0M362.6 137.3h0M430.8 196.3h0M366.9 210.1h0M470.7 229.3h0M351.3 180.1h0M380.3 188.7h0M400.2 167.3h0M360.1 106.4h0M475.4 219.1h0M503.5 236.5h0M356.7 195.5h0M352.8 149.1h0M377.8 154.4h0M341.1 133.4h0M360.9 170.9h0M509.5 238.3h0M456.0 209.0h0M410.5 205.0h0M420.6 197.0h0M361.3 127.4h0M358.1 137.8h0M484.5 227.6h0M437.1 200.4h0M389.3 185.9h0M380.8 185.2h0M360.5 97.8h0M405.6 202.4h0M360.1 156.7h0M469.8 207.6h0M404.7 169.3h0M369.1 148.3h0M360.8 149.9h0M368.5 150.3h0M404.8 177.2h0M359.0 158.7h0M342.1 144.5h0M360.7 165.9h0M390.5 165.7h0M367.9 167.7h0M337.4 189.0h0M401.1 194.4h0M382.4 220.9h0M363.7 144.5h0M407.0 187.0h0M348.4 107.8h0M361.6 175.9h0M392.5 154.2h0M356.3 146.2h0M479.2 217.5h0M358.3 113.8h0M386.8 180.8h0M419.3 215.0h0M374.9 108.4h0M348.8 155.6h0M380.8 213.0h0M408.7 217.6h0M463.6 213.1h0M377.2 199.8h0M417.2 184.7h0M409.6 191.4h0M384.5 168.6h0M440.8 205.3h0M388.1 150.0h0M408.2 187.9h0M440.4 206.3h0M365.9 214.9h0M373.2 162.5h0M452.6 210.6h0M355.4 165.7h0M456.2 210.9h0M421.8 208.3h0M487.9 226.4h0M359.6 165.9h0M403.4 166.9h0M413.6 174.0h0M375.6 206.2h0M361.6 195.8h0M381.1 150.7h0M353.5 210.7h0M350.7 146.5h0M417.1 190.7h0M341.5 177.6h0M424.7 210.4h0M359.6 153.2h0M367.3 186.6h0M401.9 163.8h0M435.5 199.9h0M442.9 204.7h0M403.0 179.5h0M349.6 145.1h0M438.4 213.6h0M381.6 163.7h0M401.0 185.5h0M399.7 154.8h0M398.2 187.4h0M385.2 199.7h0M401.8 185.7h0M406.2 212.2h0M348.8 170.9h0M387.9 151.4h0M418.5 196.0h0M420.1 209.0h0M361.2 158.9h0M434.5 204.6h0M448.1 220.6h0M359.6 116.4h0M481.1 226.8h0M407.1 175.8h0M361.1 151.3h0M367.5 171.8h0M360.8 180.3h0M434.8 201.5h0M435.2 208.8h0M477.3 228.2h0M413.1 140.2h0M398.1 200.7h0M349.0 136.4h0M330.8 167.9h0M451.8 215.3h0M390.9 192.1h0M416.2 198.1h0M388.5 196.4h0M478.6 223.1h0M469.9 224.9h0M385.6 171.3h0M494.5 222.9h0M504.2 236.4h0M380.6 179.4h0M469.3 223.7h0M353.7 151.8h0M434.8 190.6h0M438.5 198.1h0M422.5 198.6h0M372.5 173.9h0M440.0 206.9h0M399.4 127.1h0M411.3 210.8h0M359.1 166.2h0" stroke="#f00000" stroke-width="1.45"/>
<path d="M310.9 145.3h0M300.1 124.9h0M290.5 156.2h0M310.7 117.5h0M332.6 137.5h0M293.9 149.3h0M303.3 132.5h0M299.7 154.7h0M322.6 129.8h0M321.4 126.2h0M285.3 64.9h0M299.0 101.0h0M295.5 125.6h0M286.8 68.4h0M298.8 104.1h0M284.7 148.5h0M313.6 147.2h0M295.4 64.5h0M310.5 122.5h0M322.8 156.9h0M291.7 141.6h0M298.8 73.8h0M303.6 155.7h0M306.3 132.1h0M309.2 159.5h0M291.9 123.6h0M284.7 150.1h0M302.3 116.4h0M305.3 142.6h0M295.6 117.3h0M300.2 146.5h0M322.1 109.8h0M291.1 84.0h0M304.2 149.7h0M308.9 133.5h0M286.9 138.0h0M299.0 122.5h0M286.4 156.6h0M292.4 76.4h0M289.2 136.3h0M299.9 131.3h0M290.6 91.1h0M316.0 120.0h0M307.4 118.7h0M308.6 150.0h0M295.2 129.0h0M304.0 120.3h0M301.2 82.8h0M288.1 163.2h0M318.3 145.6h0M295.3 49.8h0M305.6 142.7h0M314.7 125.6h0M290.2 128.9h0M308.3 115.6h0M304.9 128.6h0M284.3 83.5h0M297.1 173.3h0M298.6 123.1h0M302.5 137.7h0M309.7 143.8h0M300.3 134.8h0M291.0 112.4h0M289.8 141.6h0M297.7 161.9h0M294.4 121.8h0M291.8 160.4h0M286.8 113.5h0M289.4 106.9h0M296.3 130.1h0M288.6 127.6h0M307.6 124.4h0M323.5 130.1h0M303.5 53.1h0M295.9 161.2h0M306.4 76.9h0M300.9 125.9h0M287.3 134.6h0M312.0 114.3h0M300.5 132.4h0M290.7 136.5h0M292.7 122.7h0M308.4 147.5h0M293.5 135.6h0M303.7 183.6h0M317.7 129.9h0M308.1 166.0h0M285.0 72.9h0M289.7 81.5h0M291.8 145.3h0M308.8 154.2h0M312.3 114.9h0M285.7 139.3h0M288.0 125.7h0M296.7 139.1h0M293.9 154.2h0M293.8 115.9h0M305.2 158.4h0M304.0 118.3h0M294.9 160.4h0M286.4 90.6h0M292.8 49.6h0M310.8 135.2h0M319.3 142.6h0M293.3 164.4h0M310.1 133.6h0M285.1 184.0h0M291.4 147.7h0M287.3 75.5h0M288.0 145.8h0M289.3 154.1h0M285.1 157.6h0M309.4 151.5h0M307.9 139.1h0M290.4 132.9h0M293.7 138.1h0M307.3 143.7h0" stroke="#000078" stroke-width="2.2"/>
<path d="M310.9 145.3h0M300.1 124.9h0M290.5 156.2h0M310.7 117.5h0M332.6 137.5h0M293.9 149.3h0M303.3 132.5h0M299.7 154.7h0M322.6 129.8h0M321.4 126.2h0M285.3 64.9h0M299.0 101.0h0M295.5 125.6h0M286.8 68.4h0M298.8 104.1h0M284.7 148.5h0M313.6 147.2h0M295.4 64.5h0M310.5 122.5h0M322.8 156.9h0M291.7 141.6h0M298.8 73.8h0M303.6 155.7h0M306.3 132.1h0M309.2 159.5h0M291.9 123.6h0M284.7 150.1h0M302.3 116.4h0M305.3 142.6h0M295.6 117.3h0M300.2 146.5h0M322.1 109.8h0M291.1 84.0h0M304.2 149.7h0M308.9 133.5h0M286.9 138.0h0M299.0 122.5h0M286.4 156.6h0M292.4 76.4h0M289.2 136.3h0M299.9 131.3h0M290.6 91.1h0M316.0 120.0h0M307.4 118.7h0M308.6 150.0h0M295.2 129.0h0M304.0 120.3h0M301.2 82.8h0M288.1 163.2h0M318.3 145.6h0M295.3 49.8h0M305.6 142.7h0M314.7 125.6h0M290.2 128.9h0M308.3 115.6h0M304.9 128.6h0M284.3 83.5h0M297.1 173.3h0M298.6 123.1h0M302.5 137.7h0M309.7 143.8h0M300.3 134.8h0M291.0 112.4h0M289.8 141.6h0M297.7 161.9h0M294.4 121.8h0M291.8 160.4h0M286.8 113.5h0M289.4 106.9h0M296.3 130.1h0M288.6 127.6h0M307.6 124.4h0M323.5 130.1h0M303.5 53.1h0M295.9 161.2h0M306.4 76.9h0M300.9 125.9h0M287.3 134.6h0M312.0 114.3h0M300.5 132.4h0M290.7 136.5h0M292.7 122.7h0M308.4 147.5h0M293.5 135.6h0M303.7 183.6h0M317.7 129.9h0M308.1 166.0h0M285.0 72.9h0M289.7 81.5h0M291.8 145.3h0M308.8 154.2h0M312.3 114.9h0M285.7 139.3h0M288.0 125.7h0M296.7 139.1h0M293.9 154.2h0M293.8 115.9h0M305.2 158.4h0M304.0 118.3h0M294.9 160.4h0M286.4 90.6h0M292.8 49.6h0M310.8 135.2h0M319.3 142.6h0M293.3 164.4h0M310.1 133.6h0M285.1 184.0h0M291.4 147.7h0M287.3 75.5h0M288.0 145.8h0M289.3 154.1h0M285.1 157.6h0M309.4 151.5h0M307.9 139.1h0M290.4 132.9h0M293.7 138.1h0M307.3 143.7h0" stroke="#0000f0" stroke-width="1.45"/>
<path d="M315.7 135.3h0M289.3 76.9h0M318.0 47.5h0M312.2 117.4h0M304.4 87.1h0M291.3 86.4h0M313.2 146.6h0M313.7 90.9h0M345.2 123.1h0M326.3 139.7h0M366.8 138.0h0M332.6 113.7h0M316.9 124.5h0M318.8 100.2h0M309.4 78.4h0M284.7 117.6h0M357.5 148.1h0M318.0 103.1h0M291.6 129.2h0M347.2 153.0h0M345.1 95.3h0M315.2 167.2h0M300.4 135.0h0M334.9 117.2h0M306.6 109.5h0M318.8 101.0h0M331.3 152.3h0M335.1 134.7h0M312.3 97.8h0M317.5 88.3h0M328.1 144.3h0M326.1 136.3h0M347.6 176.7h0M327.4 116.7h0M337.5 152.5h0M345.2 150.3h0M348.8 154.1h0M349.9 177.5h0M306.7 111.1h0M307.2 90.5h0M329.1 152.6h0M317.6 101.1h0M292.8 63.6h0M307.2 50.9h0M313.5 104.0h0M310.9 104.1h0M342.7 113.1h0M301.7 92.3h0M364.1 169.0h0M309.5 122.9h0M327.4 167.8h0M341.6 140.0h0M335.2 136.5h0M317.3 112.7h0M312.3 127.4h0M294.6 57.7h0M312.3 84.4h0M306.4 112.2h0M355.2 128.1h0M291.4 104.2h0M346.6 143.7h0M342.2 132.0h0M317.0 91.8h0M331.8 96.3h0M356.0 138.8h0M315.3 71.9h0M334.8 174.2h0M318.6 113.3h0M290.3 86.5h0M348.4 168.4h0M344.3 175.7h0M311.4 123.0h0M308.5 128.2h0M328.3 156.1h0M324.2 87.5h0M345.8 155.1h0M317.1 111.0h0M293.1 65.0h0M290.7 86.0h0M296.1 61.5h0M329.7 156.9h0M310.3 89.6h0M301.2 77.5h0M303.0 94.3h0M332.7 152.4h0M323.7 186.9h0M333.5 157.6h0M338.7 162.2h0M321.5 121.2h0M296.4 82.7h0M288.7 83.5h0M323.0 149.4h0M295.8 170.3h0M302.5 105.2h0M304.5 95.6h0M344.7 156.1h0M352.0 147.0h0M317.9 76.6h0M331.4 99.0h0M340.7 149.1h0M356.1 168.0h0M332.0 109.7h0M298.5 60.4h0M334.5 97.4h0M297.2 51.6h0M309.4 70.3h0M308.7 113.1h0M326.9 108.9h0M318.6 123.2h0M334.3 156.9h0M299.6 62.6h0M295.3 39.5h0M295.9 100.6h0M291.8 54.7h0M341.8 124.1h0M323.2 91.9h0M313.2 69.2h0M352.9 144.6h0M335.4 161.3h0M292.1 63.2h0M303.1 75.5h0M349.5 138.2h0M301.7 117.6h0M289.2 40.8h0M295.2 80.0h0M349.3 127.6h0M295.2 127.0h0M321.0 116.0h0M302.1 108.1h0M292.8 65.0h0M321.2 109.1h0M294.1 69.8h0M302.2 108.0h0M321.8 135.3h0M347.4 157.7h0M331.2 130.8h0M293.3 84.1h0M318.4 117.0h0M285.5 113.3h0M326.0 160.0h0M316.8 115.8h0M300.4 101.7h0M303.2 153.6h0M347.2 156.2h0M358.3 136.0h0" stroke="#006400" stroke-width="2.2"/>
<path d="M315.7 135.3h0M289.3 76.9h0M318.0 47.5h0M312.2 117.4h0M304.4 87.1h0M291.3 86.4h0M313.2 146.6h0M313.7 90.9h0M345.2 123.1h0M326.3 139.7h0M366.8 138.0h0M332.6 113.7h0M316.9 124.5h0M318.8 100.2h0M309.4 78.4h0M284.7 117.6h0M357.5 148.1h0M318.0 103.1h0M291.6 129.2h0M347.2 153.0h0M345.1 95.3h0M315.2 167.2h0M300.4 135.0h0M334.9 117.2h0M306.6 109.5h0M318.8 101.0h0M331.3 152.3h0M335.1 134.7h0M312.3 97.8h0M317.5 88.3h0M328.1 144.3h0M326.1 136.3h0M347.6 176.7h0M327.4 116.7h0M337.5 152.5h0M345.2 150.3h0M348.8 154.1h0M349.9 177.5h0M306.7 111.1h0M307.2 90.5h0M329.1 152.6h0M317.6 101.1h0M292.8 63.6h0M307.2 50.9h0M313.5 104.0h0M310.9 104.1h0M342.7 113.1h0M301.7 92.3h0M364.1 169.0h0M309.5 122.9h0M327.4 167.8h0M341.6 140.0h0M335.2 136.5h0M317.3 112.7h0M312.3 127.4h0M294.6 57.7h0M312.3 84.4h0M306.4 112.2h0M355.2 128.1h0M291.4 104.2h0M346.6 143.7h0M342.2 132.0h0M317.0 91.8h0M331.8 96.3h0M356.0 138.8h0M315.3 71.9h0M334.8 174.2h0M318.6 113.3h0M290.3 86.5h0M348.4 168.4h0M344.3 175.7h0M311.4 123.0h0M308.5 128.2h0M328.3 156.1h0M324.2 87.5h0M345.8 155.1h0M317.1 111.0h0M293.1 65.0h0M290.7 86.0h0M296.1 61.5h0M329.7 156.9h0M310.3 89.6h0M301.2 77.5h0M303.0 94.3h0M332.7 152.4h0M323.7 186.9h0M333.5 157.6h0M338.7 162.2h0M321.5 121.2h0M296.4 82.7h0M288.7 83.5h0M323.0 149.4h0M295.8 170.3h0M302.5 105.2h0M304.5 95.6h0M344.7 156.1h0M352.0 147.0h0M317.9 76.6h0M331.4 99.0h0M340.7 149.1h0M356.1 168.0h0M332.0 109.7h0M298.5 60.4h0M334.5 97.4h0M297.2 51.6h0M309.4 70.3h0M308.7 113.1h0M326.9 108.9h0M318.6 123.2h0M334.3 156.9h0M299.6 62.6h0M295.3 39.5h0M295.9 100.6h0M291.8 54.7h0M341.8 124.1h0M323.2 91.9h0M313.2 69.2h0M352.9 144.6h0M335.4 161.3h0M292.1 63.2h0M303.1 75.5h0M349.5 138.2h0M301.7 117.6h0M289.2 40.8h0M295.2 80.0h0M349.3 127.6h0M295.2 127.0h0M321.0 116.0h0M302.1 108.1h0M292.8 65.0h0M321.2 109.1h0M294.1 69.8h0M302.2 108.0h0M321.8 135.3h0M347.4 157.7h0M331.2 130.8h0M293.3 84.1h0M318.4 117.0h0M285.5 113.3h0M326.0 160.0h0M316.8 115.8h0M300.4 101.7h0M303.2 153.6h0M347.2 156.2h0M358.3 136.0h0" stroke="#00dc00" stroke-width="1.45"/>
<path d="M443.1 215.8h0M398.8 206.0h0M355.4 153.7h0M358.9 165.4h0M365.4 212.8h0M457.1 217.2h0M380.7 173.7h0M416.0 197.1h0M384.6 159.5h0M374.5 184.5h0M385.1 111.4h0M375.6 202.4h0M387.6 173.8h0M370.7 171.2h0M390.7 134.6h0M373.4 198.8h0M439.6 200.2h0M408.4 201.3h0M344.7 117.1h0M379.6 188.7h0M378.1 138.4h0M363.1 177.1h0M412.8 193.0h0M402.4 168.4h0M469.4 219.9h0M388.6 130.5h0M369.1 155.5h0M353.7 192.7h0M381.7 203.9h0M402.6 201.3h0M419.5 180.6h0M458.5 218.6h0M362.8 168.3h0M480.7 225.6h0M387.7 137.6h0M401.8 127.3h0M391.8 198.7h0M359.4 136.4h0M390.5 181.7h0M412.8 194.9h0M417.3 184.9h0M474.7 213.6h0M332.6 163.2h0M385.6 183.7h0M433.0 165.2h0M393.7 207.6h0M334.3 180.4h0M394.4 176.3h0M359.1 164.0h0M381.8 152.4h0M401.0 181.2h0M409.9 169.7h0M484.2 229.2h0M433.3 206.8h0M396.6 168.9h0M357.5 144.5h0M494.7 235.2h0M394.6 221.0h0M372.6 203.9h0M428.1 191.1h0M437.5 211.1h0M446.0 217.2h0M408.6 193.7h0M390.2 172.3h0M384.8 219.7h0M422.3 197.5h0M403.6 200.4h0M373.4 146.7h0M387.6 138.6h0M363.5 101.7h0M478.0 228.2h0M448.0 194.1h0M394.9 187.8h0M386.9 205.8h0M396.3 180.2h0M397.8 185.6h0M469.9 219.2h0M362.1 133.0h0M387.6 176.2h0M347.9 176.2h0M401.5 211.7h0M366.7 215.6h0M388.2 136.2h0M369.4 160.1h0M402.4 178.4h0M357.2 171.4h0M336.0 148.9h0M414.0 165.4h0M398.9 196.6h0M368.1 155.6h0M402.4 174.8h0M384.1 191.1h0M443.8 219.9h0M385.1 130.1h0M372.1 152.5h0M371.3 155.3h0M378.9 191.2h0M377.3 206.8h0M363.1 165.2h0M419.2 233.5h0M433.9 155.1h0M416.2 200.2h0M494.2 234.4h0M376.0 191.5h0M432.6 180.6h0M404.3 158.7h0M374.8 169.5h0M353.7 180.5h0M344.2 138.8h0M377.4 134.1h0M466.9 224.3h0M400.6 177.7h0M439.3 213.5h0M415.5 190.7h0M441.7 194.9h0M405.2 167.0h0M408.1 141.4h0M357.4 172.4h0M354.4 137.9h0M432.5 214.4h0M380.5 191.4h0M492.0 234.4h0M405.1 169.2h0M458.6 201.4h0M394.9 116.5h0M364.4 143.2h0M494.6 228.9h0M460.4 210.9h0M455.5 206.5h0M348.1 174.6h0M392.5 163.0h0M408.5 199.8h0M391.6 201.3h0M360.1 170.9h0M358.8 130.0h0M384.6 138.8h0M378.1 187.2h0M354.4 212.2h0M412.9 191.5h0M452.1 200.9h0M359.4 151.1h0M500.3 234.1h0M467.7 217.3h0M441.7 192.7h0M455.7 208.8h0M419.1 174.4h0M397.6 227.6h0M397.1 195.5h0M357.2 202.1h0M484.8 228.9h0M392.4 153.0h0M483.0 232.2h0M427.4 231.3h0M477.0 223.1h0M408.7 173.4h0M362.1 139.5h0M471.0 199.4h0M394.7 173.8h0M381.1 168.7h0M425.0 213.0h0M433.5 216.0h0M487.6 218.6h0M361.2 116.9h0M379.8 213.3h0M369.2 159.7h0M380.6 191.0h0M393.8 127.7h0M375.0 159.6h0M475.0 224.4h0M365.1 165.2h0M459.7 220.4h0M474.3 229.1h0M397.1 175.2h0M390.9 180.3h0M379.7 142.6h0M456.0 194.4h0M378.6 153.1h0M370.1 165.2h0M427.2 179.4h0M471.2 211.4h0M410.5 194.1h0M372.3 213.2h0M368.5 165.4h0M394.7 153.8h0M387.3 196.8h0M483.3 231.8h0M374.1 164.8h0M369.8 121.5h0M330.0 130.7h0M365.2 150.5h0M451.7 216.4h0M329.8 122.5h0M448.1 201.1h0M346.9 173.5h0M472.8 227.6h0M506.6 236.5h0M394.5 140.7h0M390.1 187.2h0M475.2 234.4h0M506.4 237.6h0" stroke="#800000" stroke-width="2.2"/>
<path d="M443.1 215.8h0M398.8 206.0h0M355.4 153.7h0M358.9 165.4h0M365.4 212.8h0M457.1 217.2h0M380.7 173.7h0M416.0 197.1h0M384.6 159.5h0M374.5 184.5h0M385.1 111.4h0M375.6 202.4h0M387.6 173.8h0M370.7 171.2h0M390.7 134.6h0M373.4 198.8h0M439.6 200.2h0M408.4 201.3h0M344.7 117.1h0M379.6 188.7h0M378.1 138.4h0M363.1 177.1h0M412.8 193.0h0M402.4 168.4h0M469.4 219.9h0M388.6 130.5h0M369.1 155.5h0M353.7 192.7h0M381.7 203.9h0M402.6 201.3h0M419.5 180.6h0M458.5 218.6h0M362.8 168.3h0M480.7 225.6h0M387.7 137.6h0M401.8 127.3h0M391.8 198.7h0M359.4 136.4h0M390.5 181.7h0M412.8 194.9h0M417.3 184.9h0M474.7 213.6h0M332.6 163.2h0M385.6 183.7h0M433.0 165.2h0M393.7 207.6h0M334.3 180.4h0M394.4 176.3h0M359.1 164.0h0M381.8 152.4h0M401.0 181.2h0M409.9 169.7h0M484.2 229.2h0M433.3 206.8h0M396.6 168.9h0M357.5 144.5h0M494.7 235.2h0M394.6 221.0h0M372.6 203.9h0M428.1 191.1h0M437.5 211.1h0M446.0 217.2h0M408.6 193.7h0M390.2 172.3h0M384.8 219.7h0M422.3 197.5h0M403.6 200.4h0M373.4 146.7h0M387.6 138.6h0M363.5 101.7h0M478.0 228.2h0M448.0 194.1h0M394.9 187.8h0M386.9 205.8h0M396.3 180.2h0M397.8 185.6h0M469.9 219.2h0M362.1 133.0h0M387.6 176.2h0M347.9 176.2h0M401.5 211.7h0M366.7 215.6h0M388.2 136.2h0M369.4 160.1h0M402.4 178.4h0M357.2 171.4h0M336.0 148.9h0M414.0 165.4h0M398.9 196.6h0M368.1 155.6h0M402.4 174.8h0M384.1 191.1h0M443.8 219.9h0M385.1 130.1h0M372.1 152.5h0M371.3 155.3h0M378.9 191.2h0M377.3 206.8h0M363.1 165.2h0M419.2 233.5h0M433.9 155.1h0M416.2 200.2h0M494.2 234.4h0M376.0 191.5h0M432.6 180.6h0M404.3 158.7h0M374.8 169.5h0M353.7 180.5h0M344.2 138.8h0M377.4 134.1h0M466.9 224.3h0M400.6 177.7h0M439.3 213.5h0M415.5 190.7h0M441.7 194.9h0M405.2 167.0h0M408.1 141.4h0M357.4 172.4h0M354.4 137.9h0M432.5 214.4h0M380.5 191.4h0M492.0 234.4h0M405.1 169.2h0M458.6 201.4h0M394.9 116.5h0M364.4 143.2h0M494.6 228.9h0M460.4 210.9h0M455.5 206.5h0M348.1 174.6h0M392.5 163.0h0M408.5 199.8h0M391.6 201.3h0M360.1 170.9h0M358.8 130.0h0M384.6 138.8h0M378.1 187.2h0M354.4 212.2h0M412.9 191.5h0M452.1 200.9h0M359.4 151.1h0M500.3 234.1h0M467.7 217.3h0M441.7 192.7h0M455.7 208.8h0M419.1 174.4h0M397.6 227.6h0M397.1 195.5h0M357.2 202.1h0M484.8 228.9h0M392.4 153.0h0M483.0 232.2h0M427.4 231.3h0M477.0 223.1h0M408.7 173.4h0M362.1 139.5h0M471.0 199.4h0M394.7 173.8h0M381.1 168.7h0M425.0 213.0h0M433.5 216.0h0M487.6 218.6h0M361.2 116.9h0M379.8 213.3h0M369.2 159.7h0M380.6 191.0h0M393.8 127.7h0M375.0 159.6h0M475.0 224.4h0M365.1 165.2h0M459.7 220.4h0M474.3 229.1h0M397.1 175.2h0M390.9 180.3h0M379.7 142.6h0M456.0 194.4h0M378.6 153.1h0M370.1 165.2h0M427.2 179.4h0M471.2 211.4h0M410.5 194.1h0M372.3 213.2h0M368.5 165.4h0M394.7 153.8h0M387.3 196.8h0M483.3 231.8h0M374.1 164.8h0M369.8 121.5h0M330.0 130.7h0M365.2 150.5h0M451.7 216.4h0M329.8 122.5h0M448.1 201.1h0M346.9 173.5h0M472.8 227.6h0M506.6 236.5h0M394.5 140.7h0M390.1 187.2h0M475.2 234.4h0M506.4 237.6h0" stroke="#f00000" stroke-width="1.45"/>
<path d="M288.2 160.0h0M299.4 147.1h0M292.4 98.4h0M288.3 133.5h0M287.9 124.9h0M321.6 131.8h0M304.7 148.5h0M290.5 120.2h0M294.4 123.8h0M315.9 58.1h0M301.7 140.8h0M299.2 98.7h0M325.5 138.2h0M294.2 121.3h0M311.4 133.0h0M312.5 139.0h0M304.5 137.8h0M292.7 133.5h0M300.1 151.7h0M293.0 154.4h0M301.4 128.4h0M303.4 153.1h0M291.2 129.5h0M295.4 137.0h0M322.8 161.9h0M294.2 164.0h0M309.9 115.9h0M288.6 143.3h0M295.5 116.9h0M284.1 134.4h0M313.0 149.4h0M295.0 185.6h0M299.7 151.2h0M287.5 38.3h0M309.6 125.4h0M288.3 122.7h0M292.6 125.1h0M320.5 137.5h0M292.6 136.7h0M293.5 133.8h0M315.0 136.9h0M318.0 148.8h0M295.6 155.7h0M296.8 151.4h0M287.1 142.3h0M317.6 137.9h0M285.1 146.6h0M284.4 131.2h0M303.6 136.6h0M320.2 118.6h0M311.0 149.2h0M303.7 78.5h0M293.0 137.4h0M320.2 155.5h0M310.1 118.8h0M299.7 149.2h0M310.5 133.7h0M306.1 136.7h0M291.5 26.8h0M328.3 140.1h0M308.9 152.6h0M287.2 133.9h0M296.6 103.6h0M291.3 142.6h0M319.3 147.6h0M285.2 148.3h0M305.2 128.5h0M312.4 125.9h0M295.6 132.5h0M290.3 74.8h0M301.4 147.0h0M292.3 37.7h0M292.0 67.1h0M331.7 119.5h0M287.6 152.8h0M304.9 119.7h0M313.3 132.6h0M295.2 101.1h0M291.8 121.6h0M306.3 189.9h0M292.4 153.3h0M310.9 120.2h0M312.1 141.7h0M310.2 133.0h0M294.9 112.6h0M294.5 138.8h0M296.7 113.7h0M294.6 110.9h0M298.7 86.0h0M288.2 154.7h0M330.8 134.9h0M292.2 135.1h0M304.2 124.7h0M284.9 121.4h0M321.7 131.9h0M288.2 136.7h0M300.1 140.5h0M286.4 32.5h0M295.5 110.9h0M308.0 145.1h0M318.6 129.9h0M297.5 98.3h0M292.0 125.2h0M289.7 143.8h0M284.1 113.5h0M318.0 141.6h0M303.2 139.0h0M302.2 133.1h0M298.0 121.3h0M329.5 127.1h0M299.0 11.8h0M295.0 154.0h0M304.6 115.7h0M330.1 148.7h0M297.7 153.6h0M289.4 81.1h0M325.1 114.4h0" stroke="#000078" stroke-width="2.2"/>
<path d="M288.2 160.0h0M299.4 147.1h0M292.4 98.4h0M288.3 133.5h0M287.9 124.9h0M321.6 131.8h0M304.7 148.5h0M290.5 120.2h0M294.4 123.8h0M315.9 58.1h0M301.7 140.8h0M299.2 98.7h0M325.5 138.2h0M294.2 121.3h0M311.4 133.0h0M312.5 139.0h0M304.5 137.8h0M292.7 133.5h0M300.1 151.7h0M293.0 154.4h0M301.4 128.4h0M303.4 153.1h0M291.2 129.5h0M295.4 137.0h0M322.8 161.9h0M294.2 164.0h0M309.9 115.9h0M288.6 143.3h0M295.5 116.9h0M284.1 134.4h0M313.0 149.4h0M295.0 185.6h0M299.7 151.2h0M287.5 38.3h0M309.6 125.4h0M288.3 122.7h0M292.6 125.1h0M320.5 137.5h0M292.6 136.7h0M293.5 133.8h0M315.0 136.9h0M318.0 148.8h0M295.6 155.7h0M296.8 151.4h0M287.1 142.3h0M317.6 137.9h0M285.1 146.6h0M284.4 131.2h0M303.6 136.6h0M320.2 118.6h0M311.0 149.2h0M303.7 78.5h0M293.0 137.4h0M320.2 155.5h0M310.1 118.8h0M299.7 149.2h0M310.5 133.7h0M306.1 136.7h0M291.5 26.8h0M328.3 140.1h0M308.9 152.6h0M287.2 133.9h0M296.6 103.6h0M291.3 142.6h0M319.3 147.6h0M285.2 148.3h0M305.2 128.5h0M312.4 125.9h0M295.6 132.5h0M290.3 74.8h0M301.4 147.0h0M292.3 37.7h0M292.0 67.1h0M331.7 119.5h0M287.6 152.8h0M304.9 119.7h0M313.3 132.6h0M295.2 101.1h0M291.8 121.6h0M306.3 189.9h0M292.4 153.3h0M310.9 120.2h0M312.1 141.7h0M310.2 133.0h0M294.9 112.6h0M294.5 138.8h0M296.7 113.7h0M294.6 110.9h0M298.7 86.0h0M288.2 154.7h0M330.8 134.9h0M292.2 135.1h0M304.2 124.7h0M284.9 121.4h0M321.7 131.9h0M288.2 136.7h0M300.1 140.5h0M286.4 32.5h0M295.5 110.9h0M308.0 145.1h0M318.6 129.9h0M297.5 98.3h0M292.0 125.2h0M289.7 143.8h0M284.1 113.5h0M318.0 141.6h0M303.2 139.0h0M302.2 133.1h0M298.0 121.3h0M329.5 127.1h0M299.0 11.8h0M295.0 154.0h0M304.6 115.7h0M330.1 148.7h0M297.7 153.6h0M289.4 81.1h0M325.1 114.4h0" stroke="#0000f0" stroke-width="1.45"/>
<path d="M349.9 168.6h0M306.9 113.6h0M322.7 77.3h0M328.2 158.8h0M343.1 149.4h0M342.3 127.6h0M323.5 137.3h0M339.1 131.1h0M309.7 81.5h0M345.1 168.7h0M346.6 115.7h0M356.4 166.0h0M325.6 171.0h0M296.2 64.9h0M335.9 164.7h0M340.4 135.6h0M322.1 107.9h0M320.9 65.5h0M302.1 81.3h0M315.1 103.7h0M308.2 59.5h0M303.5 93.6h0M288.6 120.8h0M328.9 132.1h0M292.6 75.5h0M305.2 65.8h0M290.7 103.9h0M331.6 174.8h0M322.1 111.6h0M344.5 129.1h0M293.5 46.1h0M348.3 103.9h0M291.8 57.5h0M327.9 116.5h0M347.7 144.0h0M306.4 88.5h0M336.0 105.6h0M317.5 121.2h0M317.5 94.7h0M321.7 116.2h0M297.9 131.6h0M315.2 78.0h0M322.6 112.5h0M306.6 87.5h0M296.9 100.5h0M302.7 104.4h0M331.1 178.7h0M333.2 168.8h0M316.1 96.1h0M349.4 167.6h0M331.4 112.2h0M324.2 106.1h0M285.3 86.2h0M285.6 70.8h0M328.2 167.9h0M324.3 118.1h0M339.8 176.9h0M316.8 191.6h0M314.3 72.4h0M305.7 88.2h0M311.4 75.5h0M320.4 106.9h0M334.9 139.6h0M359.0 145.5h0M354.1 137.2h0M355.3 121.6h0M324.9 111.5h0M355.6 122.5h0M356.6 143.5h0M341.6 131.5h0M337.4 137.7h0M308.0 48.4h0M339.5 147.5h0M347.7 140.6h0M295.5 105.4h0M330.3 164.6h0M334.6 141.0h0M313.4 58.1h0M334.7 132.9h0M339.8 124.4h0M333.8 122.6h0M334.9 161.9h0M344.2 127.3h0M333.0 159.5h0M336.1 111.0h0M310.3 120.5h0M302.7 86.4h0M311.6 110.3h0M286.7 61.8h0M332.1 158.1h0M322.1 144.9h0M318.9 113.4h0M289.9 135.0h0M336.1 136.3h0M317.4 132.2h0M324.4 144.3h0M293.6 73.7h0M302.6 89.3h0M315.5 68.6h0M310.6 109.7h0M291.9 104.9h0M367.3 138.6h0M320.4 101.6h0M330.3 111.7h0M336.6 128.4h0M324.2 132.2h0M335.1 138.4h0M328.6 153.5h0M331.2 138.8h0M296.6 79.6h0M317.8 94.2h0M287.2 100.1h0M303.9 81.2h0M355.3 163.3h0M353.7 164.6h0M345.3 149.9h0M317.9 112.6h0M304.0 54.7h0M287.7 99.7h0M286.4 56.0h0M327.3 158.5h0M312.8 100.1h0M295.8 78.6h0M351.2 145.7h0M337.6 104.2h0M287.5 79.2h0M310.1 179.0h0M340.3 131.5h0M301.9 107.2h0M291.4 53.1h0M340.0 122.5h0M302.5 99.7h0M339.3 112.4h0M352.5 159.7h0M335.2 120.7h0M314.1 98.3h0M340.1 151.8h0M320.5 81.4h0M318.1 63.7h0M325.7 181.9h0M316.5 115.0h0M313.0 150.3h0M307.4 140.5h0M301.8 121.0h0M329.9 132.6h0" stroke="#006400" stroke-width="2.2"/>
<path d="M349.9 168.6h0M306.9 113.6h0M322.7 77.3h0M328.2 158.8h0M343.1 149.4h0M342.3 127.6h0M323.5 137.3h0M339.1 131.1h0M309.7 81.5h0M345.1 168.7h0M346.6 115.7h0M356.4 166.0h0M325.6 171.0h0M296.2 64.9h0M335.9 164.7h0M340.4 135.6h0M322.1 107.9h0M320.9 65.5h0M302.1 81.3h0M315.1 103.7h0M308.2 59.5h0M303.5 93.6h0M288.6 120.8h0M328.9 132.1h0M292.6 75.5h0M305.2 65.8h0M290.7 103.9h0M331.6 174.8h0M322.1 111.6h0M344.5 129.1h0M293.5 46.1h0M348.3 103.9h0M291.8 57.5h0M327.9 116.5h0M347.7 144.0h0M306.4 88.5h0M336.0 105.6h0M317.5 121.2h0M317.5 94.7h0M321.7 116.2h0M297.9 131.6h0M315.2 78.0h0M322.6 112.5h0M306.6 87.5h0M296.9 100.5h0M302.7 104.4h0M331.1 178.7h0M333.2 168.8h0M316.1 96.1h0M349.4 167.6h0M331.4 112.2h0M324.2 106.1h0M285.3 86.2h0M285.6 70.8h0M328.2 167.9h0M324.3 118.1h0M339.8 176.9h0M316.8 191.6h0M314.3 72.4h0M305.7 88.2h0M311.4 75.5h0M320.4 106.9h0M334.9 139.6h0M359.0 145.5h0M354.1 137.2h0M355.3 121.6h0M324.9 111.5h0M355.6 122.5h0M356.6 143.5h0M341.6 131.5h0M337.4 137.7h0M308.0 48.4h0M339.5 147.5h0M347.7 140.6h0M295.5 105.4h0M330.3 164.6h0M334.6 141.0h0M313.4 58.1h0M334.7 132.9h0M339.8 124.4h0M333.8 122.6h0M334.9 161.9h0M344.2 127.3h0M333.0 159.5h0M336.1 111.0h0M310.3 120.5h0M302.7 86.4h0M311.6 110.3h0M286.7 61.8h0M332.1 158.1h0M322.1 144.9h0M318.9 113.4h0M289.9 135.0h0M336.1 136.3h0M317.4 132.2h0M324.4 144.3h0M293.6 73.7h0M302.6 89.3h0M315.5 68.6h0M310.6 109.7h0M291.9 104.9h0M367.3 138.6h0M320.4 101.6h0M330.3 111.7h0M336.6 128.4h0M324.2 132.2h0M335.1 138.4h0M328.6 153.5h0M331.2 138.8h0M296.6 79.6h0M317.8 94.2h0M287.2 100.1h0M303.9 81.2h0M355.3 163.3h0M353.7 164.6h0M345.3 149.9h0M317.9 112.6h0M304.0 54.7h0M287.7 99.7h0M286.4 56.0h0M327.3 158.5h0M312.8 100.1h0M295.8 78.6h0M351.2 145.7h0M337.6 104.2h0M287.5 79.2h0M310.1 179.0h0M340.3 131.5h0M301.9 107.2h0M291.4 53.1h0M340.0 122.5h0M302.5 99.7h0M339.3 112.4h0M352.5 159.7h0M335.2 120.7h0M314.1 98.3h0M340.1 151.8h0M320.5 81.4h0M318.1 63.7h0M325.7 181.9h0M316.5 115.0h0M313.0 150.3h0M307.4 140.5h0M301.8 121.0h0M329.9 132.6h0" stroke="#00dc00" stroke-width="1.45"/>
<path d="M393.7 192.7h0M408.2 162.1h0M359.7 168.0h0M413.4 186.8h0M419.8 188.3h0M490.5 232.3h0M427.6 191.9h0M389.6 169.8h0M482.1 231.2h0M392.0 177.2h0M384.2 130.5h0M373.1 138.7h0M409.1 176.5h0M361.0 167.7h0M450.7 224.8h0M396.7 178.0h0M404.0 219.5h0M362.4 139.8h0M416.7 199.8h0M384.6 145.2h0M385.7 192.1h0M408.9 171.2h0M387.9 206.8h0M388.0 148.2h0M428.1 196.1h0M381.4 150.1h0M348.6 135.2h0M364.7 165.0h0M398.2 207.1h0M407.0 172.1h0M428.1 147.7h0M502.3 236.1h0M373.4 167.2h0M460.8 225.9h0M371.7 150.8h0M414.0 185.4h0M498.4 232.4h0M386.7 193.3h0M410.2 197.2h0M365.2 171.0h0M380.1 201.2h0M379.2 132.1h0M382.1 158.0h0M456.4 227.6h0M393.1 171.4h0M370.2 199.5h0M398.9 201.3h0M384.5 118.4h0M477.8 217.6h0M477.9 239.2h0M370.9 212.9h0M419.6 148.4h0M377.3 158.7h0M372.8 167.5h0M354.8 92.3h0M402.5 144.0h0M386.7 163.9h0M459.7 201.9h0M370.1 166.2h0M387.2 139.4h0M439.0 187.8h0M365.1 185.8h0M372.6 142.3h0M443.5 210.0h0M497.5 234.5h0M376.3 194.0h0M356.5 178.3h0M380.6 182.1h0M411.8 222.8h0M345.9 165.0h0M412.5 188.8h0M437.7 193.8h0M351.8 188.7h0M400.2 205.0h0M440.2 202.9h0M382.5 182.3h0M364.1 172.9h0M432.4 210.8h0M424.6 204.8h0M388.7 153.4h0M391.5 172.5h0M427.1 201.0h0M480.8 231.3h0M412.5 171.6h0M393.6 207.8h0M434.8 179.7h0M470.6 215.9h0M365.1 205.0h0M344.5 147.4h0M490.8 228.1h0M479.9 220.9h0M390.0 191.4h0M406.8 151.6h0M418.4 201.4h0M359.4 159.2h0M384.8 176.2h0M345.9 162.9h0M459.5 217.3h0M396.2 182.2h0M376.7 148.4h0M401.1 158.1h0M371.0 171.4h0M369.6 189.1h0M436.5 188.6h0M466.7 212.9h0M371.4 161.9h0M448.6 194.2h0M409.5 176.6h0M379.5 157.8h0M394.3 184.3h0M397.3 125.1h0M370.2 205.7h0M384.5 194.4h0M342.9 148.0h0M357.2 155.7h0M338.6 133.0h0M439.1 188.5h0M366.1 167.2h0M449.5 231.7h0M444.4 197.8h0M364.5 166.6h0M485.7 228.1h0M414.7 179.2h0M377.5 150.9h0M477.2 216.0h0M378.1 210.4h0M339.8 107.5h0M428.0 189.0h0M406.6 124.8h0M462.5 228.4h0M433.9 206.4h0M458.5 211.7h0M424.8 197.4h0M474.9 218.1h0M481.5 225.0h0M417.3 191.3h0M348.5 172.2h0M362.2 177.6h0M378.2 104.7h0M358.3 153.4h0M425.3 198.0h0M445.4 193.1h0M426.1 215.6h0M409.7 184.2h0M371.2 172.1h0M437.1 174.8h0M372.6 154.8h0M376.6 181.5h0M372.4 177.5h0M362.2 188.5h0M431.7 181.1h0M421.7 180.3h0M388.2 188.6h0M385.2 212.4h0M382.9 165.3h0M381.8 170.1h0M485.5 230.8h0M408.9 176.4h0M420.6 204.6h0M366.8 169.5h0M481.4 232.7h0M368.4 191.5h0M414.0 206.6h0M437.6 201.2h0M389.2 165.7h0M357.0 166.8h0M442.4 199.1h0M389.9 200.7h0M471.8 221.6h0M394.2 164.1h0M457.8 216.0h0M401.4 129.8h0M470.7 230.5h0M360.1 139.0h0M376.3 151.1h0M386.6 199.3h0M377.8 151.3h0M351.4 150.6h0M468.1 230.9h0M371.2 139.3h0M438.5 197.1h0M403.4 132.7h0M406.8 193.8h0M363.1 161.5h0M427.4 187.4h0M378.1 169.2h0M471.3 216.2h0M407.2 125.6h0M490.1 229.5h0M427.1 180.1h0M424.1 224.0h0M364.1 155.9h0M374.4 179.0h0M437.3 188.0h0M376.3 152.9h0M366.6 146.4h0M436.3 210.7h0M426.2 179.4h0M500.1 236.0h0M368.0 148.6h0" stroke="#800000" stroke-width="2.2"/>
<path d="M393.7 192.7h0M408.2 162.1h0M359.7 168.0h0M413.4 186.8h0M419.8 188.3h0M490.5 232.3h0M427.6 191.9h0M389.6 169.8h0M482.1 231.2h0M392.0 177.2h0M384.2 130.5h0M373.1 138.7h0M409.1 176.5h0M361.0 167.7h0M450.7 224.8h0M396.7 178.0h0M404.0 219.5h0M362.4 139.8h0M416.7 199.8h0M384.6 145.2h0M385.7 192.1h0M408.9 171.2h0M387.9 206.8h0M388.0 148.2h0M428.1 196.1h0M381.4 150.1h0M348.6 135.2h0M364.7 165.0h0M398.2 207.1h0M407.0 172.1h0M428.1 147.7h0M502.3 236.1h0M373.4 167.2h0M460.8 225.9h0M371.7 150.8h0M414.0 185.4h0M498.4 232.4h0M386.7 193.3h0M410.2 197.2h0M365.2 171.0h0M380.1 201.2h0M379.2 132.1h0M382.1 158.0h0M456.4 227.6h0M393.1 171.4h0M370.2 199.5h0M398.9 201.3h0M384.5 118.4h0M477.8 217.6h0M477.9 239.2h0M370.9 212.9h0M419.6 148.4h0M377.3 158.7h0M372.8 167.5h0M354.8 92.3h0M402.5 144.0h0M386.7 163.9h0M459.7 201.9h0M370.1 166.2h0M387.2 139.4h0M439.0 187.8h0M365.1 185.8h0M372.6 142.3h0M443.5 210.0h0M497.5 234.5h0M376.3 194.0h0M356.5 178.3h0M380.6 182.1h0M411.8 222.8h0M345.9 165.0h0M412.5 188.8h0M437.7 193.8h0M351.8 188.7h0M400.2 205.0h0M440.2 202.9h0M382.5 182.3h0M364.1 172.9h0M432.4 210.8h0M424.6 204.8h0M388.7 153.4h0M391.5 172.5h0M427.1 201.0h0M480.8 231.3h0M412.5 171.6h0M393.6 207.8h0M434.8 179.7h0M470.6 215.9h0M365.1 205.0h0M344.5 147.4h0M490.8 228.1h0M479.9 220.9h0M390.0 191.4h0M406.8 151.6h0M418.4 201.4h0M359.4 159.2h0M384.8 176.2h0M345.9 162.9h0M459.5 217.3h0M396.2 182.2h0M376.7 148.4h0M401.1 158.1h0M371.0 171.4h0M369.6 189.1h0M436.5 188.6h0M466.7 212.9h0M371.4 161.9h0M448.6 194.2h0M409.5 176.6h0M379.5 157.8h0M394.3 184.3h0M397.3 125.1h0M370.2 205.7h0M384.5 194.4h0M342.9 148.0h0M357.2 155.7h0M338.6 133.0h0M439.1 188.5h0M366.1 167.2h0M449.5 231.7h0M444.4 197.8h0M364.5 166.6h0M485.7 228.1h0M414.7 179.2h0M377.5 150.9h0M477.2 216.0h0M378.1 210.4h0M339.8 107.5h0M428.0 189.0h0M406.6 124.8h0M462.5 228.4h0M433.9 206.4h0M458.5 211.7h0M424.8 197.4h0M474.9 218.1h0M481.5 225.0h0M417.3 191.3h0M348.5 172.2h0M362.2 177.6h0M378.2 104.7h0M358.3 153.4h0M425.3 198.0h0M445.4 193.1h0M426.1 215.6h0M409.7 184.2h0M371.2 172.1h0M437.1 174.8h0M372.6 154.8h0M376.6 181.5h0M372.4 177.5h0M362.2 188.5h0M431.7 181.1h0M421.7 180.3h0M388.2 188.6h0M385.2 212.4h0M382.9 165.3h0M381.8 170.1h0M485.5 230.8h0M408.9 176.4h0M420.6 204.6h0M366.8 169.5h0M481.4 232.7h0M368.4 191.5h0M414.0 206.6h0M437.6 201.2h0M389.2 165.7h0M357.0 166.8h0M442.4 199.1h0M389.9 200.7h0M471.8 221.6h0M394.2 164.1h0M457.8 216.0h0M401.4 129.8h0M470.7 230.5h0M360.1 139.0h0M376.3 151.1h0M386.6 199.3h0M377.8 151.3h0M351.4 150.6h0M468.1 230.9h0M371.2 139.3h0M438.5 197.1h0M403.4 132.7h0M406.8 193.8h0M363.1 161.5h0M427.4 187.4h0M378.1 169.2h0M471.3 216.2h0M407.2 125.6h0M490.1 229.5h0M427.1 180.1h0M424.1 224.0h0M364.1 155.9h0M374.4 179.0h0M437.3 188.0h0M376.3 152.9h0M366.6 146.4h0M436.3 210.7h0M426.2 179.4h0M500.1 236.0h0M368.0 148.6h0" stroke="#f00000" stroke-width="1.45"/>
<path d="M291.3 132.8h0M297.9 123.8h0M293.8 109.7h0M296.2 153.6h0M291.2 149.1h0M316.5 155.5h0M301.2 113.9h0M300.8 112.9h0M317.3 144.3h0M292.9 170.3h0M317.3 120.9h0M296.6 118.8h0M322.7 145.5h0M295.7 126.2h0M311.7 142.0h0M301.9 119.6h0M319.6 136.9h0M297.4 138.2h0M294.2 134.8h0M296.6 185.0h0M288.3 111.0h0M286.0 130.5h0M295.2 160.4h0M307.4 131.8h0M311.4 127.5h0M301.5 122.2h0M293.4 147.0h0M295.5 67.1h0M285.5 146.6h0M319.6 150.5h0M291.2 146.3h0M312.8 128.0h0M312.2 160.2h0M309.5 153.8h0M312.9 117.0h0M299.3 16.6h0M302.1 81.9h0M305.2 126.6h0M285.6 149.9h0M300.4 127.9h0M286.1 112.0h0M309.6 108.0h0M313.4 140.1h0M289.8 143.2h0M299.4 144.0h0M321.1 155.1h0M328.4 126.9h0M293.0 149.6h0M300.4 13.5h0M296.0 152.8h0M317.0 120.0h0M317.7 127.3h0M286.3 154.0h0M293.0 41.1h0M335.1 157.3h0M297.3 135.6h0M321.2 149.9h0M323.4 123.8h0M321.7 127.2h0M320.3 121.9h0M302.2 143.6h0M294.7 121.9h0M300.0 141.9h0M295.1 122.9h0M292.8 117.0h0M294.7 114.4h0M299.9 139.6h0M290.5 133.3h0M290.1 130.1h0M301.9 71.9h0M294.0 41.4h0M292.7 115.0h0M290.3 87.8h0M307.6 151.8h0M294.5 141.6h0M293.0 144.5h0M292.5 132.1h0M323.5 146.7h0M304.4 130.9h0M312.0 77.7h0M286.8 126.9h0M288.8 83.3h0M288.9 102.3h0M291.3 155.3h0M290.4 162.5h0M289.2 22.2h0M317.6 135.9h0M297.7 144.2h0M295.7 108.7h0M300.9 129.1h0M299.9 159.1h0M305.5 114.9h0M292.5 190.9h0M286.9 157.9h0M293.8 128.8h0M285.8 153.3h0M291.9 140.0h0M308.4 150.0h0M296.8 88.9h0M293.4 126.4h0M299.4 139.0h0M296.6 148.3h0M288.5 134.9h0M295.7 138.0h0M287.5 119.2h0M290.0 146.8h0M285.3 146.6h0M296.7 141.2h0M289.7 131.8h0M286.8 132.1h0M322.9 134.9h0M285.3 56.3h0M297.2 101.8h0M287.0 112.4h0M291.0 120.3h0M292.8 137.7h0M320.2 158.3h0" stroke="#000078" stroke-width="2.2"/>
<path d="M291.3 132.8h0M297.9 123.8h0M293.8 109.7h0M296.2 153.6h0M291.2 149.1h0M316.5 155.5h0M301.2 113.9h0M300.8 112.9h0M317.3 144.3h0M292.9 170.3h0M317.3 120.9h0M296.6 118.8h0M322.7 145.5h0M295.7 126.2h0M311.7 142.0h0M301.9 119.6h0M319.6 136.9h0M297.4 138.2h0M294.2 134.8h0M296.6 185.0h0M288.3 111.0h0M286.0 130.5h0M295.2 160.4h0M307.4 131.8h0M311.4 127.5h0M301.5 122.2h0M293.4 147.0h0M295.5 67.1h0M285.5 146.6h0M319.6 150.5h0M291.2 146.3h0M312.8 128.0h0M312.2 160.2h0M309.5 153.8h0M312.9 117.0h0M299.3 16.6h0M302.1 81.9h0M305.2 126.6h0M285.6 149.9h0M300.4 127.9h0M286.1 112.0h0M309.6 108.0h0M313.4 140.1h0M289.8 143.2h0M299.4 144.0h0M321.1 155.1h0M328.4 126.9h0M293.0 149.6h0M300.4 13.5h0M296.0 152.8h0M317.0 120.0h0M317.7 127.3h0M286.3 154.0h0M293.0 41.1h0M335.1 157.3h0M297.3 135.6h0M321.2 149.9h0M323.4 123.8h0M321.7 127.2h0M320.3 121.9h0M302.2 143.6h0M294.7 121.9h0M300.0 141.9h0M295.1 122.9h0M292.8 117.0h0M294.7 114.4h0M299.9 139.6h0M290.5 133.3h0M290.1 130.1h0M301.9 71.9h0M294.0 41.4h0M292.7 115.0h0M290.3 87.8h0M307.6 151.8h0M294.5 141.6h0M293.0 144.5h0M292.5 132.1h0M323.5 146.7h0M304.4 130.9h0M312.0 77.7h0M286.8 126.9h0M288.8 83.3h0M288.9 102.3h0M291.3 155.3h0M290.4 162.5h0M289.2 22.2h0M317.6 135.9h0M297.7 144.2h0M295.7 108.7h0M300.9 129.1h0M299.9 159.1h0M305.5 114.9h0M292.5 190.9h0M286.9 157.9h0M293.8 128.8h0M285.8 153.3h0M291.9 140.0h0M308.4 150.0h0M296.8 88.9h0M293.4 126.4h0M299.4 139.0h0M296.6 148.3h0M288.5 134.9h0M295.7 138.0h0M287.5 119.2h0M290.0 146.8h0M285.3 146.6h0M296.7 141.2h0M289.7 131.8h0M286.8 132.1h0M322.9 134.9h0M285.3 56.3h0M297.2 101.8h0M287.0 112.4h0M291.0 120.3h0M292.8 137.7h0M320.2 158.3h0" stroke="#0000f0" stroke-width="1.45"/>
<path d="M301.5 77.1h0M292.0 117.2h0M350.9 156.7h0M303.1 101.2h0M305.3 62.2h0M324.9 160.3h0M315.1 132.2h0M355.2 150.7h0M286.0 124.7h0M352.5 157.0h0M343.8 167.6h0M333.1 144.4h0M318.3 126.8h0M328.6 176.9h0M330.9 139.7h0M310.7 73.1h0M320.0 89.4h0M320.8 132.0h0M329.0 141.4h0M304.0 114.0h0M311.5 97.1h0M355.6 133.6h0M287.1 89.1h0M295.4 30.1h0M346.4 117.0h0M315.0 75.0h0M313.6 112.9h0M290.6 118.5h0M299.3 85.5h0M297.8 103.0h0M358.2 177.0h0M330.0 120.4h0M323.3 131.8h0M331.0 166.6h0M311.5 78.4h0M296.0 72.1h0M298.7 55.6h0M317.4 138.1h0M298.3 60.7h0M318.9 83.2h0M320.3 120.8h0M293.1 49.5h0M347.6 134.3h0M339.4 125.4h0M296.7 87.7h0M353.3 141.2h0M345.0 100.3h0M318.6 97.2h0M323.9 167.9h0M344.4 117.9h0M342.4 139.1h0M343.6 138.2h0M332.4 115.2h0M330.4 165.3h0M356.8 111.3h0M321.7 107.2h0M337.1 152.2h0M289.8 71.9h0M329.8 102.0h0M321.5 103.6h0M287.8 114.1h0M346.0 153.6h0M299.0 94.4h0M328.8 176.3h0M319.3 130.5h0M291.9 72.4h0M337.8 158.7h0M334.3 143.2h0M289.5 176.4h0M284.9 101.2h0M344.4 105.9h0M338.0 158.2h0M302.3 80.5h0M343.5 160.7h0M297.7 75.1h0M332.7 123.4h0M299.2 106.6h0M285.2 152.2h0M349.5 108.7h0M332.2 120.6h0M298.5 60.2h0M332.4 144.1h0M319.9 121.2h0M306.4 78.0h0M311.6 48.3h0M329.7 173.1h0M299.8 85.5h0M292.6 103.6h0M286.9 90.3h0M332.4 99.8h0M313.9 75.1h0M312.2 89.7h0M338.1 164.5h0M366.1 122.8h0M330.9 121.1h0M322.2 98.2h0M313.2 78.8h0M300.2 67.7h0M335.3 102.8h0M302.0 103.8h0M323.6 127.4h0M308.5 175.7h0M322.0 155.3h0M302.0 92.8h0M319.0 78.1h0M296.4 68.0h0M315.5 114.3h0M306.4 74.2h0M319.3 118.8h0M335.2 86.1h0M317.7 172.0h0M354.9 144.2h0M348.2 136.1h0M347.7 104.7h0M302.8 87.4h0M328.7 147.7h0M289.6 104.8h0M319.4 127.3h0M310.4 79.2h0M313.0 144.8h0M323.2 86.3h0M307.2 105.6h0M308.4 108.8h0M308.3 65.3h0M333.5 130.0h0M355.2 137.0h0M338.2 135.8h0M312.6 142.1h0M298.4 59.7h0M329.1 76.9h0M322.8 114.8h0M338.7 165.1h0M341.9 116.7h0M331.0 107.6h0M303.5 110.1h0M320.2 108.8h0M352.2 172.4h0M343.7 140.0h0M299.3 50.4h0M294.7 18.9h0M296.4 74.9h0M322.2 170.7h0M307.1 51.5h0M285.3 90.3h0M318.6 139.1h0" stroke="#006400" stroke-width="2.2"/>
<path d="M301.5 77.1h0M292.0 117.2h0M350.9 156.7h0M303.1 101.2h0M305.3 62.2h0M324.9 160.3h0M315.1 132.2h0M355.2 150.7h0M286.0 124.7h0M352.5 157.0h0M343.8 167.6h0M333.1 144.4h0M318.3 126.8h0M328.6 176.9h0M330.9 139.7h0M310.7 73.1h0M320.0 89.4h0M320.8 132.0h0M329.0 141.4h0M304.0 114.0h0M311.5 97.1h0M355.6 133.6h0M287.1 89.1h0M295.4 30.1h0M346.4 117.0h0M315.0 75.0h0M313.6 112.9h0M290.6 118.5h0M299.3 85.5h0M297.8 103.0h0M358.2 177.0h0M330.0 120.4h0M323.3 131.8h0M331.0 166.6h0M311.5 78.4h0M296.0 72.1h0M298.7 55.6h0M317.4 138.1h0M298.3 60.7h0M318.9 83.2h0M320.3 120.8h0M293.1 49.5h0M347.6 134.3h0M339.4 125.4h0M296.7 87.7h0M353.3 141.2h0M345.0 100.3h0M318.6 97.2h0M323.9 167.9h0M344.4 117.9h0M342.4 139.1h0M343.6 138.2h0M332.4 115.2h0M330.4 165.3h0M356.8 111.3h0M321.7 107.2h0M337.1 152.2h0M289.8 71.9h0M329.8 102.0h0M321.5 103.6h0M287.8 114.1h0M346.0 153.6h0M299.0 94.4h0M328.8 176.3h0M319.3 130.5h0M291.9 72.4h0M337.8 158.7h0M334.3 143.2h0M289.5 176.4h0M284.9 101.2h0M344.4 105.9h0M338.0 158.2h0M302.3 80.5h0M343.5 160.7h0M297.7 75.1h0M332.7 123.4h0M299.2 106.6h0M285.2 152.2h0M349.5 108.7h0M332.2 120.6h0M298.5 60.2h0M332.4 144.1h0M319.9 121.2h0M306.4 78.0h0M311.6 48.3h0M329.7 173.1h0M299.8 85.5h0M292.6 103.6h0M286.9 90.3h0M332.4 99.8h0M313.9 75.1h0M312.2 89.7h0M338.1 164.5h0M366.1 122.8h0M330.9 121.1h0M322.2 98.2h0M313.2 78.8h0M300.2 67.7h0M335.3 102.8h0M302.0 103.8h0M323.6 127.4h0M308.5 175.7h0M322.0 155.3h0M302.0 92.8h0M319.0 78.1h0M296.4 68.0h0M315.5 114.3h0M306.4 74.2h0M319.3 118.8h0M335.2 86.1h0M317.7 172.0h0M354.9 144.2h0M348.2 136.1h0M347.7 104.7h0M302.8 87.4h0M328.7 147.7h0M289.6 104.8h0M319.4 127.3h0M310.4 79.2h0M313.0 144.8h0M323.2 86.3h0M307.2 105.6h0M308.4 108.8h0M308.3 65.3h0M333.5 130.0h0M355.2 137.0h0M338.2 135.8h0M312.6 142.1h0M298.4 59.7h0M329.1 76.9h0M322.8 114.8h0M338.7 165.1h0M341.9 116.7h0M331.0 107.6h0M303.5 110.1h0M320.2 108.8h0M352.2 172.4h0M343.7 140.0h0M299.3 50.4h0M294.7 18.9h0M296.4 74.9h0M322.2 170.7h0M307.1 51.5h0M285.3 90.3h0M318.6 139.1h0" stroke="#00dc00" stroke-width="1.45"/>
</g>
<rect x="461" y="13" width="78.6" height="45" fill="#fff"/>
<rect x="464.3" y="17.80" width="11.2" height="9.2" fill="#0000ff" stroke="#333" stroke-opacity=".5" stroke-width=".5"/>
<text class="b" x="481.4" y="25.60" font-size="10.4">Host rock</text>
<rect x="464.3" y="30.60" width="11.2" height="9.2" fill="#00ff00" stroke="#333" stroke-opacity=".5" stroke-width=".5"/>
<text class="b" x="481.4" y="38.80" font-size="10.4">Skarn</text>
<rect x="464.3" y="43.40" width="11.2" height="9.2" fill="#ff0000" stroke="#333" stroke-opacity=".5" stroke-width=".5"/>
<text class="b" x="481.4" y="52.00" font-size="10.4">Breccia</text>
</svg>
</body></html>
